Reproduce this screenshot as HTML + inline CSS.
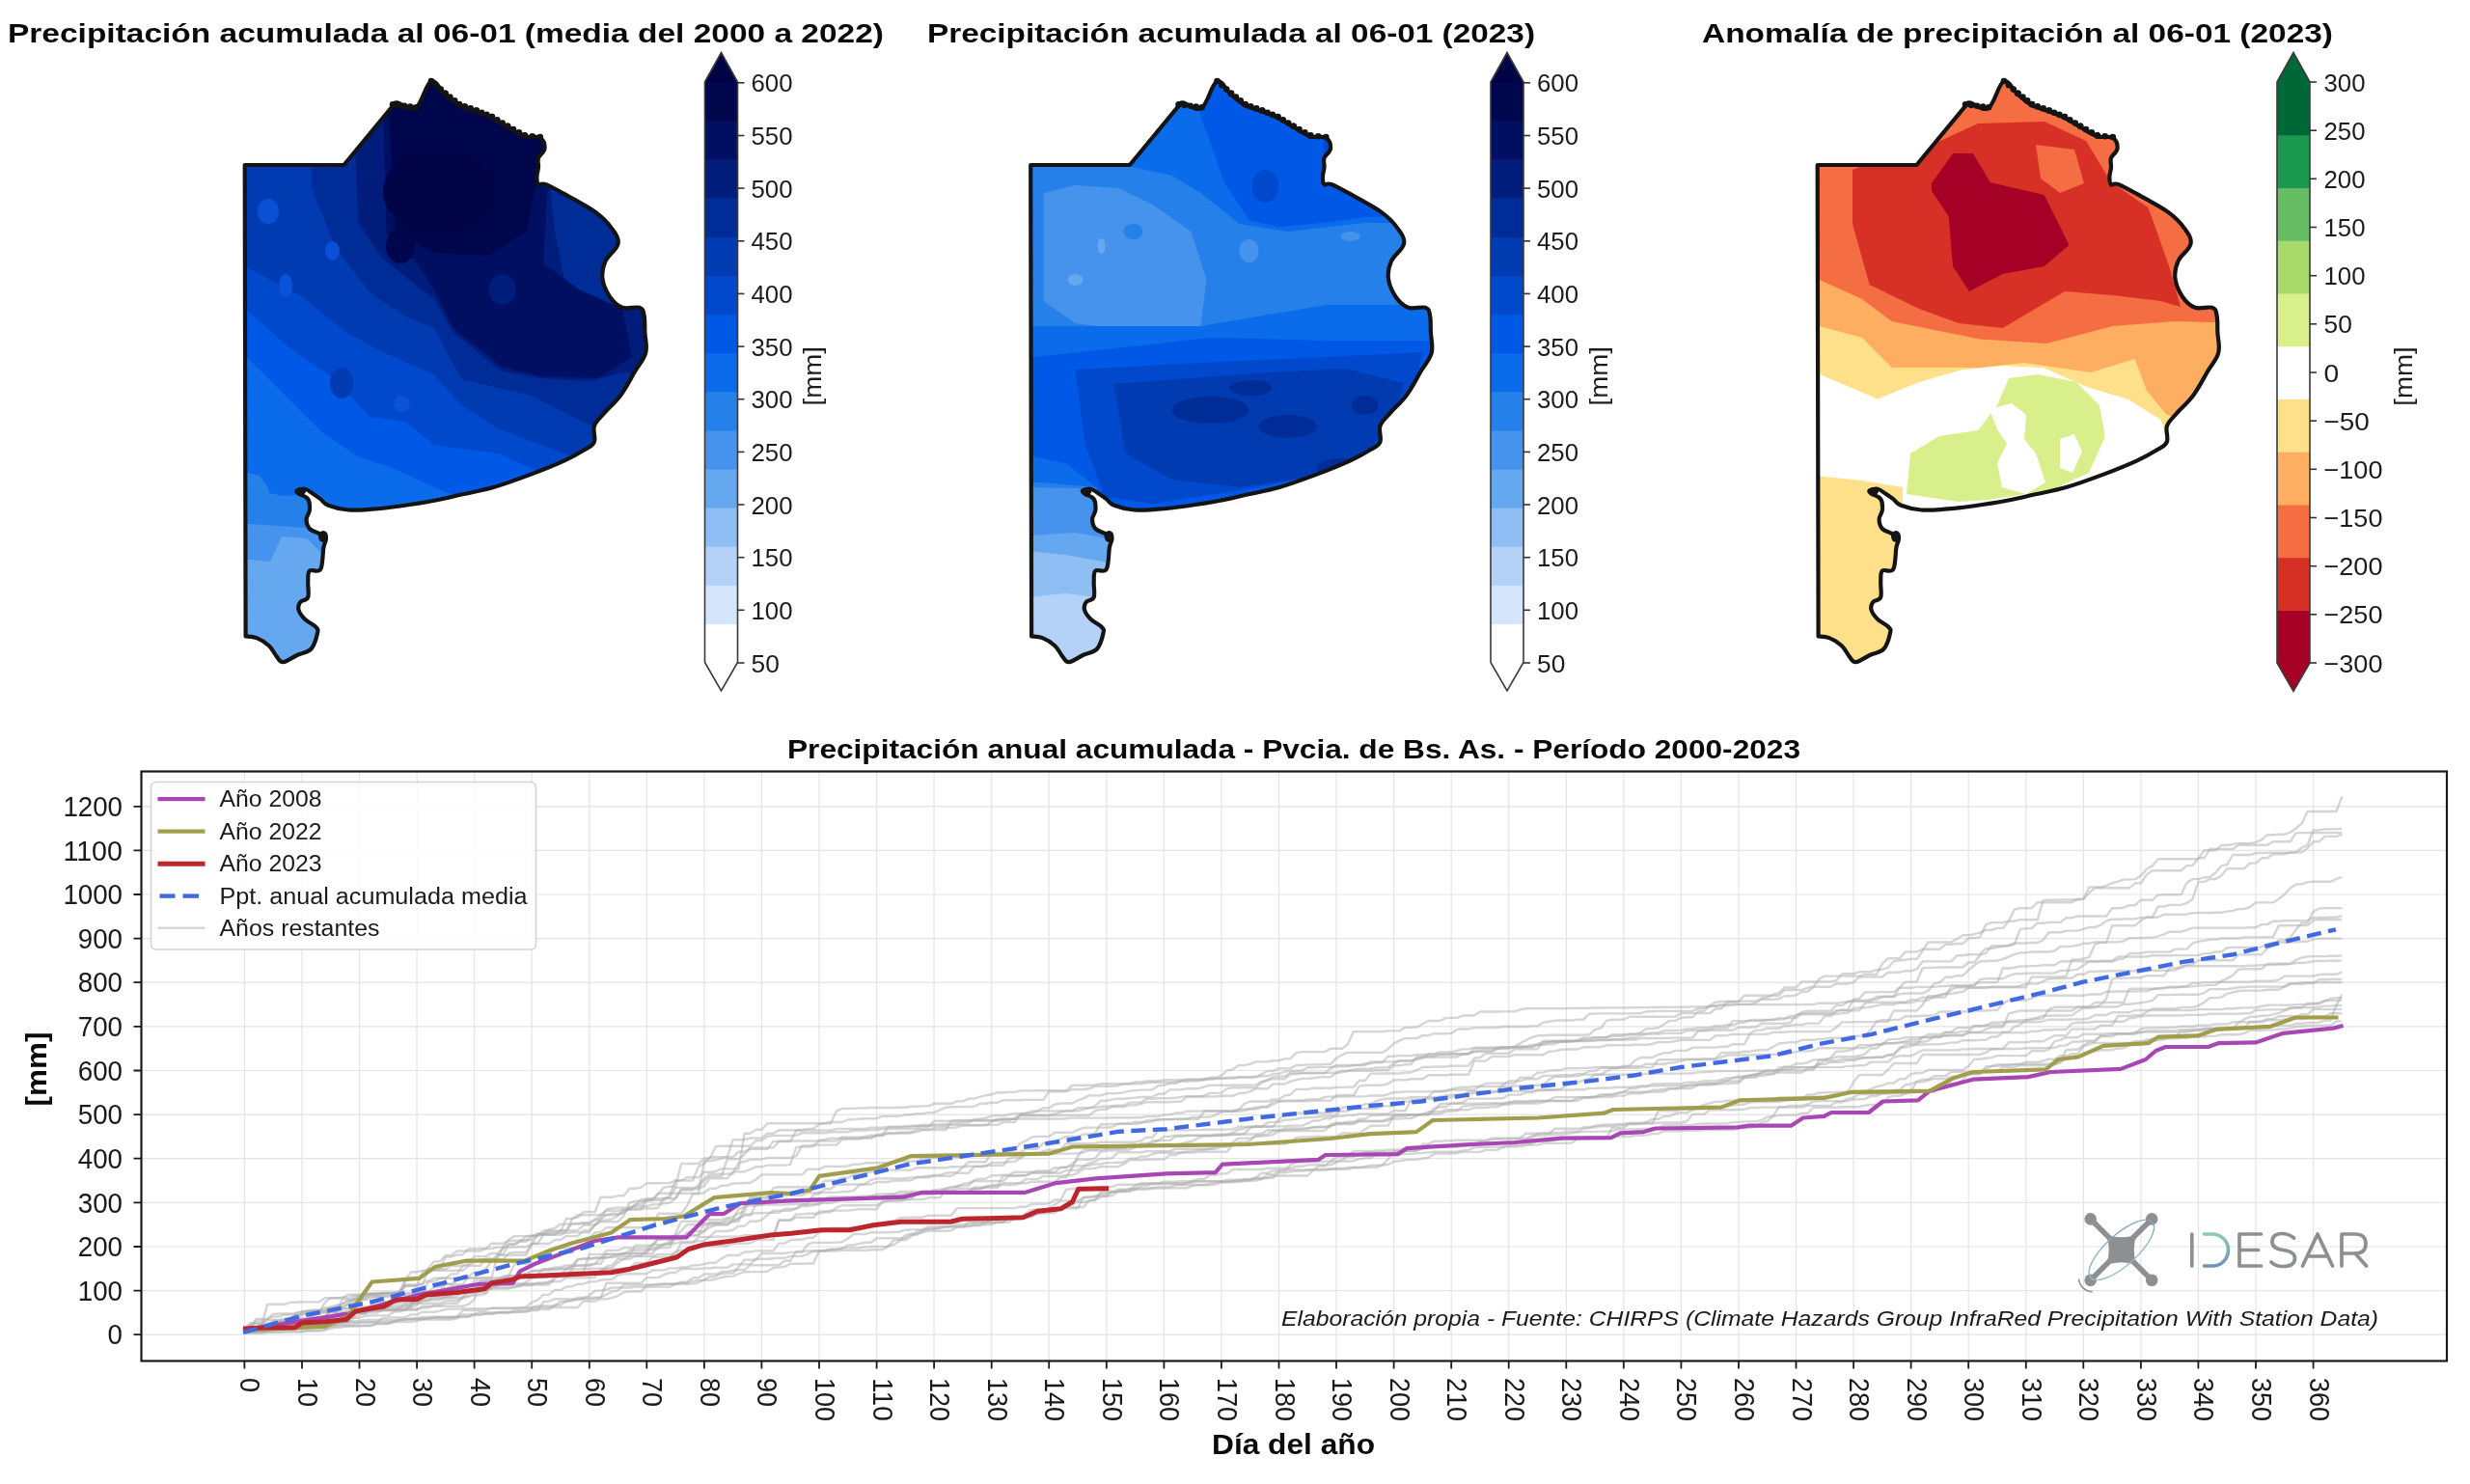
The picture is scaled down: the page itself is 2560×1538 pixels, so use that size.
<!DOCTYPE html><html><head><meta charset="utf-8"><style>html,body{margin:0;padding:0;background:#fff;}svg{display:block;filter:blur(0.45px);}text{font-family:"Liberation Sans", sans-serif;}</style></head><body>
<svg width="2560" height="1538" viewBox="0 0 2560 1538">
<rect width="2560" height="1538" fill="#ffffff"/>
<defs><clipPath id="mapclip"><path d="M253.7,171 L356.4,171 L406.6,110.4 C407.5,109.7 407.0,106.1 411.4,106.4 C415.8,106.7 424.5,115.9 430.8,112.0 C437.1,108.1 441.1,87.2 446.5,84.6 C451.9,82.0 455.8,93.1 461.0,97.5 C466.2,101.9 469.8,105.6 475.6,108.8 C481.4,112.0 487.3,113.0 493.4,115.3 C499.5,117.6 503.7,118.9 509.5,121.8 C515.3,124.7 519.6,128.0 525.7,131.5 C531.8,135.0 537.4,139.2 543.5,141.2 C549.6,143.2 555.9,140.5 559.7,142.8 C563.5,145.1 564.8,150.2 564.5,154.0 C564.2,157.8 559.2,160.3 558.0,163.8 C556.8,167.3 558.3,170.0 558.0,173.5 C557.7,177.0 556.4,180.0 556.4,183.2 C556.4,186.4 556.3,189.8 558.0,191.3 C559.7,192.8 559.6,188.7 566.0,191.3 C572.4,193.9 584.3,200.7 593.6,205.9 C602.9,211.1 610.6,214.9 617.9,220.4 C625.2,225.9 629.9,230.8 634.0,236.6 C638.1,242.4 641.7,246.7 640.5,252.8 C639.3,258.9 630.5,264.1 627.6,270.5 C624.7,276.9 623.6,281.6 624.4,288.3 C625.2,295.0 628.3,302.0 632.0,307.5 C635.7,313.0 639.5,316.8 645.0,318.8 C650.5,320.8 658.7,317.3 662.8,318.8 C666.9,320.3 666.6,322.3 667.6,327.0 C668.6,331.7 668.1,337.7 668.4,344.7 C668.7,351.7 671.1,358.4 669.2,365.7 C667.3,373.0 662.6,377.1 658.0,385.0 C653.4,392.9 649.2,401.5 643.4,409.4 C637.6,417.3 630.6,423.0 625.6,428.8 C620.6,434.6 617.6,436.5 615.9,441.7 C614.2,446.9 617.7,453.5 615.9,457.9 C614.1,462.3 611.6,462.5 606.0,466.0 C600.4,469.5 595.2,472.6 585.0,477.3 C574.8,482.0 562.6,486.9 549.5,491.9 C536.4,496.8 524.9,501.1 512.3,504.8 C499.7,508.5 490.6,509.8 479.4,512.3 C468.2,514.8 461.9,516.6 450.3,518.8 C438.7,521.0 426.3,522.9 414.7,524.5 C403.1,526.1 395.2,527.0 385.6,527.7 C376.0,528.4 369.5,529.2 361.3,528.5 C353.1,527.8 345.5,525.7 340.3,523.7 C335.1,521.7 335.1,519.4 332.2,517.2 C329.3,515.0 327.0,513.4 324.1,511.5 C321.2,509.6 318.9,507.3 316.0,506.7 C313.1,506.1 309.1,507.4 307.9,508.3 C306.7,509.2 307.5,509.9 309.5,511.5 C311.5,513.1 317.1,514.1 319.2,517.2 C321.3,520.3 321.2,524.7 320.9,528.5 C320.6,532.3 317.6,534.7 317.6,538.2 C317.6,541.7 318.6,545.4 320.9,548.0 C323.2,550.6 327.6,551.1 330.6,552.8 C333.6,554.5 336.9,555.0 337.8,557.6 C338.7,560.2 336.4,561.5 335.4,567.3 C334.4,573.1 334.8,585.6 332.2,590.0 C329.6,594.4 323.2,589.3 320.9,591.6 C318.6,593.9 319.5,597.9 319.2,602.9 C318.9,607.9 320.6,615.3 319.2,619.1 C317.8,622.9 312.9,621.7 311.2,624.0 C309.5,626.3 308.6,628.8 309.5,632.0 C310.4,635.2 312.8,638.5 316.0,641.7 C319.2,644.9 325.0,647.2 327.3,649.8 C329.6,652.4 329.9,652.2 329.0,656.3 C328.1,660.4 326.3,668.4 322.5,672.5 C318.7,676.6 313.1,676.5 307.9,679.0 C302.7,681.5 297.2,685.9 293.4,686.2 C289.6,686.5 289.5,683.7 286.9,680.6 C284.3,677.5 282.6,672.7 278.8,669.2 C275.0,665.7 270.3,662.8 265.9,661.1 C261.5,659.4 256.6,659.8 254.6,659.5 Z"/></clipPath></defs>
<text x="8" y="44.3" font-size="28" text-anchor="start" font-weight="bold" font-style="normal" fill="#0a0a0a" textLength="908" lengthAdjust="spacingAndGlyphs" >Precipitación acumulada al 06-01 (media del 2000 a 2022)</text>
<text x="961" y="44.3" font-size="28" text-anchor="start" font-weight="bold" font-style="normal" fill="#0a0a0a" textLength="630" lengthAdjust="spacingAndGlyphs" >Precipitación acumulada al 06-01 (2023)</text>
<text x="1764" y="44.3" font-size="28" text-anchor="start" font-weight="bold" font-style="normal" fill="#0a0a0a" textLength="654" lengthAdjust="spacingAndGlyphs" >Anomalía de precipitación al 06-01 (2023)</text>
<g transform="translate(0,0)">
<g clip-path="url(#mapclip)">
<rect x="240" y="60" width="460" height="640" fill="#0a6cea"/>
<polygon points="240.0,486.0 269.0,493.0 277.0,504.0 279.0,511.0 293.0,514.0 330.0,512.0 340.0,520.0 340.0,700.0 240.0,700.0" fill="#2680ea"/>
<polygon points="240.0,542.0 290.0,545.0 330.0,548.0 340.0,550.0 340.0,700.0 240.0,700.0" fill="#4593ec"/>
<polygon points="240.0,578.0 280.0,582.0 292.0,556.0 318.0,558.0 340.0,580.0 340.0,700.0 240.0,700.0" fill="#66a8f0"/>
<polygon points="240.0,60.0 700.0,60.0 700.0,540.0 500.0,525.0 450.0,505.0 407.8,485.5 371.4,473.4 335.0,449.0 298.5,412.7 254.9,369.0 240.0,369.0" fill="#0058e6"/>
<polygon points="240.0,60.0 700.0,60.0 700.0,520.0 620.0,480.0 560.0,490.0 517.0,470.0 450.0,461.3 420.0,437.0 383.5,432.0 347.0,393.3 298.5,359.3 254.9,320.5 240.0,320.5" fill="#0049cc"/>
<polygon points="240.0,60.0 700.0,60.0 700.0,500.0 640.0,440.0 619.0,483.0 517.0,444.6 478.0,420.0 450.0,388.4 395.6,364.2 359.2,344.8 310.7,306.0 254.9,276.8 240.0,276.8" fill="#003bb2"/>
<polygon points="322.8,60.0 700.0,60.0 700.0,470.0 660.0,400.0 619.0,444.6 550.0,410.0 478.0,393.0 450.0,340.0 420.0,327.8 383.5,303.5 347.0,255.0 322.8,194.3" fill="#002c98"/>
<polygon points="364.0,60.0 700.0,60.0 700.0,420.0 650.0,385.0 610.0,395.0 560.0,392.0 520.0,385.0 470.0,345.0 450.0,310.0 432.0,296.2 395.6,267.0 371.4,230.7" fill="#001d7c"/>
<polygon points="570.0,190.0 600.0,205.0 640.0,236.0 645.0,253.0 630.0,270.0 626.0,300.0 642.0,318.0 610.0,318.0 585.0,290.0 575.0,240.0" fill="#002c98"/>
<polygon points="395.6,60.0 600.0,60.0 570.0,150.0 563.0,273.0 600.0,300.0 645.0,320.0 655.0,370.0 620.0,392.0 560.0,390.0 520.0,380.0 470.0,340.0 450.0,300.0 432.0,272.0 400.5,242.8" fill="#000f62"/>
<polygon points="400.0,60.0 580.0,60.0 565.0,150.0 545.0,240.0 506.0,265.0 450.0,262.0 410.0,240.0" fill="#00064c"/>
<ellipse cx="454.5" cy="198" rx="57.5" ry="44" fill="#000345" transform="rotate(0 454.5 198)"/>
<ellipse cx="415" cy="255" rx="15" ry="18" fill="#00064c" transform="rotate(0 415 255)"/>
<ellipse cx="278" cy="219" rx="11" ry="13" fill="#0a50d6" transform="rotate(0 278 219)"/>
<ellipse cx="344.5" cy="260" rx="7.5" ry="10" fill="#0a50d6" transform="rotate(0 344.5 260)"/>
<ellipse cx="296" cy="296" rx="7" ry="12" fill="#0a52da" transform="rotate(0 296 296)"/>
<ellipse cx="354" cy="397" rx="12" ry="16" fill="#003bb2" transform="rotate(0 354 397)"/>
<ellipse cx="416.5" cy="418.5" rx="8.5" ry="8.5" fill="#0a52da" transform="rotate(0 416.5 418.5)"/>
<ellipse cx="520.7" cy="300" rx="14" ry="16" fill="#001d7c" transform="rotate(0 520.7 300)"/>
</g>
<path d="M253.7,171 L356.4,171 L406.6,110.4 C407.5,109.7 407.0,106.1 411.4,106.4 C415.8,106.7 424.5,115.9 430.8,112.0 C437.1,108.1 441.1,87.2 446.5,84.6 C451.9,82.0 455.8,93.1 461.0,97.5 C466.2,101.9 469.8,105.6 475.6,108.8 C481.4,112.0 487.3,113.0 493.4,115.3 C499.5,117.6 503.7,118.9 509.5,121.8 C515.3,124.7 519.6,128.0 525.7,131.5 C531.8,135.0 537.4,139.2 543.5,141.2 C549.6,143.2 555.9,140.5 559.7,142.8 C563.5,145.1 564.8,150.2 564.5,154.0 C564.2,157.8 559.2,160.3 558.0,163.8 C556.8,167.3 558.3,170.0 558.0,173.5 C557.7,177.0 556.4,180.0 556.4,183.2 C556.4,186.4 556.3,189.8 558.0,191.3 C559.7,192.8 559.6,188.7 566.0,191.3 C572.4,193.9 584.3,200.7 593.6,205.9 C602.9,211.1 610.6,214.9 617.9,220.4 C625.2,225.9 629.9,230.8 634.0,236.6 C638.1,242.4 641.7,246.7 640.5,252.8 C639.3,258.9 630.5,264.1 627.6,270.5 C624.7,276.9 623.6,281.6 624.4,288.3 C625.2,295.0 628.3,302.0 632.0,307.5 C635.7,313.0 639.5,316.8 645.0,318.8 C650.5,320.8 658.7,317.3 662.8,318.8 C666.9,320.3 666.6,322.3 667.6,327.0 C668.6,331.7 668.1,337.7 668.4,344.7 C668.7,351.7 671.1,358.4 669.2,365.7 C667.3,373.0 662.6,377.1 658.0,385.0 C653.4,392.9 649.2,401.5 643.4,409.4 C637.6,417.3 630.6,423.0 625.6,428.8 C620.6,434.6 617.6,436.5 615.9,441.7 C614.2,446.9 617.7,453.5 615.9,457.9 C614.1,462.3 611.6,462.5 606.0,466.0 C600.4,469.5 595.2,472.6 585.0,477.3 C574.8,482.0 562.6,486.9 549.5,491.9 C536.4,496.8 524.9,501.1 512.3,504.8 C499.7,508.5 490.6,509.8 479.4,512.3 C468.2,514.8 461.9,516.6 450.3,518.8 C438.7,521.0 426.3,522.9 414.7,524.5 C403.1,526.1 395.2,527.0 385.6,527.7 C376.0,528.4 369.5,529.2 361.3,528.5 C353.1,527.8 345.5,525.7 340.3,523.7 C335.1,521.7 335.1,519.4 332.2,517.2 C329.3,515.0 327.0,513.4 324.1,511.5 C321.2,509.6 318.9,507.3 316.0,506.7 C313.1,506.1 309.1,507.4 307.9,508.3 C306.7,509.2 307.5,509.9 309.5,511.5 C311.5,513.1 317.1,514.1 319.2,517.2 C321.3,520.3 321.2,524.7 320.9,528.5 C320.6,532.3 317.6,534.7 317.6,538.2 C317.6,541.7 318.6,545.4 320.9,548.0 C323.2,550.6 327.6,551.1 330.6,552.8 C333.6,554.5 336.9,555.0 337.8,557.6 C338.7,560.2 336.4,561.5 335.4,567.3 C334.4,573.1 334.8,585.6 332.2,590.0 C329.6,594.4 323.2,589.3 320.9,591.6 C318.6,593.9 319.5,597.9 319.2,602.9 C318.9,607.9 320.6,615.3 319.2,619.1 C317.8,622.9 312.9,621.7 311.2,624.0 C309.5,626.3 308.6,628.8 309.5,632.0 C310.4,635.2 312.8,638.5 316.0,641.7 C319.2,644.9 325.0,647.2 327.3,649.8 C329.6,652.4 329.9,652.2 329.0,656.3 C328.1,660.4 326.3,668.4 322.5,672.5 C318.7,676.6 313.1,676.5 307.9,679.0 C302.7,681.5 297.2,685.9 293.4,686.2 C289.6,686.5 289.5,683.7 286.9,680.6 C284.3,677.5 282.6,672.7 278.8,669.2 C275.0,665.7 270.3,662.8 265.9,661.1 C261.5,659.4 256.6,659.8 254.6,659.5 Z" fill="none" stroke="#141414" stroke-width="4.2" stroke-linejoin="round"/>
<g fill="#141414"><circle cx="447.0" cy="84.0" r="3.3"/><circle cx="451.9" cy="88.3" r="3.3"/><circle cx="456.7" cy="92.6" r="3.3"/><circle cx="461.5" cy="96.9" r="3.3"/><circle cx="461.5" cy="96.9" r="3.3"/><circle cx="466.4" cy="100.6" r="3.3"/><circle cx="471.2" cy="104.4" r="3.3"/><circle cx="476.1" cy="108.2" r="3.3"/><circle cx="475.9" cy="108.0" r="3.3"/><circle cx="481.8" cy="110.2" r="3.3"/><circle cx="487.7" cy="112.4" r="3.3"/><circle cx="493.7" cy="114.5" r="3.3"/><circle cx="493.7" cy="114.6" r="3.3"/><circle cx="499.1" cy="116.7" r="3.3"/><circle cx="504.4" cy="118.9" r="3.3"/><circle cx="509.8" cy="121.1" r="3.3"/><circle cx="509.9" cy="121.1" r="3.3"/><circle cx="515.3" cy="124.3" r="3.3"/><circle cx="520.7" cy="127.6" r="3.3"/><circle cx="526.1" cy="130.8" r="3.3"/><circle cx="526.1" cy="130.8" r="3.3"/><circle cx="532.0" cy="134.0" r="3.3"/><circle cx="537.9" cy="137.3" r="3.3"/><circle cx="543.9" cy="140.5" r="3.3"/><circle cx="543.6" cy="140.4" r="3.3"/><circle cx="551.7" cy="141.2" r="3.3"/><circle cx="559.8" cy="142.0" r="3.3"/><circle cx="407.1" cy="108.2" r="3.3"/><circle cx="413.1" cy="109.0" r="3.3"/><circle cx="419.1" cy="109.7" r="3.3"/><circle cx="425.1" cy="110.5" r="3.3"/><circle cx="431.1" cy="111.2" r="3.3"/><ellipse cx="335" cy="556" rx="5" ry="6"/><ellipse cx="312" cy="509" rx="5" ry="4"/></g>
</g>
<g transform="translate(814.5,0)">
<g clip-path="url(#mapclip)">
<rect x="240" y="60" width="460" height="640" fill="#2680ea"/>
<polygon points="240.0,505.0 300.0,506.0 345.0,510.0 345.0,700.0 240.0,700.0" fill="#4593ec"/>
<polygon points="240.0,556.0 300.0,552.0 345.0,560.0 345.0,700.0 240.0,700.0" fill="#66a8f0"/>
<polygon points="240.0,570.0 290.0,575.0 345.0,585.0 345.0,700.0 240.0,700.0" fill="#8ebef4"/>
<polygon points="240.0,620.0 290.0,615.0 345.0,622.0 345.0,700.0 240.0,700.0" fill="#b4d2f8"/>
<polygon points="267.0,200.0 300.0,192.0 345.0,195.0 380.0,212.0 420.0,240.0 436.0,290.0 430.0,338.0 350.0,342.0 300.0,335.0 267.0,312.0" fill="#4593ec"/>
<ellipse cx="300" cy="290" rx="8" ry="6" fill="#66a8f0" transform="rotate(0 300 290)"/>
<ellipse cx="327" cy="255" rx="4" ry="8" fill="#66a8f0" transform="rotate(0 327 255)"/>
<ellipse cx="360" cy="240" rx="10" ry="8" fill="#2680ea" transform="rotate(0 360 240)"/>
<polygon points="350.0,60.0 700.0,60.0 700.0,231.0 600.0,231.0 520.0,240.0 470.0,232.0 430.0,200.0 400.0,182.0 350.0,171.0" fill="#0a6cea"/>
<polygon points="420.0,60.0 700.0,60.0 700.0,222.0 600.0,225.0 556.0,231.0 510.0,235.0 480.0,228.0 455.0,190.0 430.0,120.0" fill="#0058e6"/>
<ellipse cx="497" cy="193" rx="14" ry="17" fill="#0049cc" transform="rotate(0 497 193)"/>
<ellipse cx="565" cy="150" rx="8" ry="20" fill="#0049cc" transform="rotate(0 565 150)"/>
<ellipse cx="585" cy="245" rx="10" ry="5" fill="#4593ec" transform="rotate(0 585 245)"/>
<ellipse cx="480" cy="260" rx="10" ry="12" fill="#4593ec" transform="rotate(0 480 260)"/>
<polygon points="240.0,338.0 430.0,338.0 560.0,316.0 700.0,316.0 700.0,540.0 330.0,540.0 322.0,505.0 240.0,498.0" fill="#0a6cea"/>
<polygon points="240.0,372.0 440.0,350.0 560.0,353.0 700.0,353.0 700.0,540.0 330.0,540.0 322.0,505.0 290.0,480.0 240.0,470.0" fill="#0058e6"/>
<polygon points="300.0,383.0 450.0,375.0 560.0,370.0 660.0,365.0 650.0,410.0 620.0,450.0 600.0,470.0 540.0,495.0 460.0,510.0 380.0,522.0 330.0,515.0 310.0,460.0" fill="#0049cc"/>
<polygon points="340.0,398.0 420.0,392.0 500.0,386.0 580.0,382.0 640.0,397.0 630.0,440.0 600.0,470.0 540.0,495.0 470.0,505.0 400.0,497.0 352.0,470.0" fill="#003bb2"/>
<ellipse cx="440" cy="425" rx="40" ry="14" fill="#002c98" transform="rotate(0 440 425)"/>
<ellipse cx="520" cy="442" rx="30" ry="12" fill="#002c98" transform="rotate(0 520 442)"/>
<ellipse cx="575" cy="485" rx="25" ry="10" fill="#002c98" transform="rotate(0 575 485)"/>
<ellipse cx="482" cy="402" rx="22" ry="8" fill="#002c98" transform="rotate(0 482 402)"/>
<ellipse cx="600" cy="420" rx="14" ry="10" fill="#002c98" transform="rotate(0 600 420)"/>
</g>
<path d="M253.7,171 L356.4,171 L406.6,110.4 C407.5,109.7 407.0,106.1 411.4,106.4 C415.8,106.7 424.5,115.9 430.8,112.0 C437.1,108.1 441.1,87.2 446.5,84.6 C451.9,82.0 455.8,93.1 461.0,97.5 C466.2,101.9 469.8,105.6 475.6,108.8 C481.4,112.0 487.3,113.0 493.4,115.3 C499.5,117.6 503.7,118.9 509.5,121.8 C515.3,124.7 519.6,128.0 525.7,131.5 C531.8,135.0 537.4,139.2 543.5,141.2 C549.6,143.2 555.9,140.5 559.7,142.8 C563.5,145.1 564.8,150.2 564.5,154.0 C564.2,157.8 559.2,160.3 558.0,163.8 C556.8,167.3 558.3,170.0 558.0,173.5 C557.7,177.0 556.4,180.0 556.4,183.2 C556.4,186.4 556.3,189.8 558.0,191.3 C559.7,192.8 559.6,188.7 566.0,191.3 C572.4,193.9 584.3,200.7 593.6,205.9 C602.9,211.1 610.6,214.9 617.9,220.4 C625.2,225.9 629.9,230.8 634.0,236.6 C638.1,242.4 641.7,246.7 640.5,252.8 C639.3,258.9 630.5,264.1 627.6,270.5 C624.7,276.9 623.6,281.6 624.4,288.3 C625.2,295.0 628.3,302.0 632.0,307.5 C635.7,313.0 639.5,316.8 645.0,318.8 C650.5,320.8 658.7,317.3 662.8,318.8 C666.9,320.3 666.6,322.3 667.6,327.0 C668.6,331.7 668.1,337.7 668.4,344.7 C668.7,351.7 671.1,358.4 669.2,365.7 C667.3,373.0 662.6,377.1 658.0,385.0 C653.4,392.9 649.2,401.5 643.4,409.4 C637.6,417.3 630.6,423.0 625.6,428.8 C620.6,434.6 617.6,436.5 615.9,441.7 C614.2,446.9 617.7,453.5 615.9,457.9 C614.1,462.3 611.6,462.5 606.0,466.0 C600.4,469.5 595.2,472.6 585.0,477.3 C574.8,482.0 562.6,486.9 549.5,491.9 C536.4,496.8 524.9,501.1 512.3,504.8 C499.7,508.5 490.6,509.8 479.4,512.3 C468.2,514.8 461.9,516.6 450.3,518.8 C438.7,521.0 426.3,522.9 414.7,524.5 C403.1,526.1 395.2,527.0 385.6,527.7 C376.0,528.4 369.5,529.2 361.3,528.5 C353.1,527.8 345.5,525.7 340.3,523.7 C335.1,521.7 335.1,519.4 332.2,517.2 C329.3,515.0 327.0,513.4 324.1,511.5 C321.2,509.6 318.9,507.3 316.0,506.7 C313.1,506.1 309.1,507.4 307.9,508.3 C306.7,509.2 307.5,509.9 309.5,511.5 C311.5,513.1 317.1,514.1 319.2,517.2 C321.3,520.3 321.2,524.7 320.9,528.5 C320.6,532.3 317.6,534.7 317.6,538.2 C317.6,541.7 318.6,545.4 320.9,548.0 C323.2,550.6 327.6,551.1 330.6,552.8 C333.6,554.5 336.9,555.0 337.8,557.6 C338.7,560.2 336.4,561.5 335.4,567.3 C334.4,573.1 334.8,585.6 332.2,590.0 C329.6,594.4 323.2,589.3 320.9,591.6 C318.6,593.9 319.5,597.9 319.2,602.9 C318.9,607.9 320.6,615.3 319.2,619.1 C317.8,622.9 312.9,621.7 311.2,624.0 C309.5,626.3 308.6,628.8 309.5,632.0 C310.4,635.2 312.8,638.5 316.0,641.7 C319.2,644.9 325.0,647.2 327.3,649.8 C329.6,652.4 329.9,652.2 329.0,656.3 C328.1,660.4 326.3,668.4 322.5,672.5 C318.7,676.6 313.1,676.5 307.9,679.0 C302.7,681.5 297.2,685.9 293.4,686.2 C289.6,686.5 289.5,683.7 286.9,680.6 C284.3,677.5 282.6,672.7 278.8,669.2 C275.0,665.7 270.3,662.8 265.9,661.1 C261.5,659.4 256.6,659.8 254.6,659.5 Z" fill="none" stroke="#141414" stroke-width="4.2" stroke-linejoin="round"/>
<g fill="#141414"><circle cx="447.0" cy="84.0" r="3.3"/><circle cx="451.9" cy="88.3" r="3.3"/><circle cx="456.7" cy="92.6" r="3.3"/><circle cx="461.5" cy="96.9" r="3.3"/><circle cx="461.5" cy="96.9" r="3.3"/><circle cx="466.4" cy="100.6" r="3.3"/><circle cx="471.2" cy="104.4" r="3.3"/><circle cx="476.1" cy="108.2" r="3.3"/><circle cx="475.9" cy="108.0" r="3.3"/><circle cx="481.8" cy="110.2" r="3.3"/><circle cx="487.7" cy="112.4" r="3.3"/><circle cx="493.7" cy="114.5" r="3.3"/><circle cx="493.7" cy="114.6" r="3.3"/><circle cx="499.1" cy="116.7" r="3.3"/><circle cx="504.4" cy="118.9" r="3.3"/><circle cx="509.8" cy="121.1" r="3.3"/><circle cx="509.9" cy="121.1" r="3.3"/><circle cx="515.3" cy="124.3" r="3.3"/><circle cx="520.7" cy="127.6" r="3.3"/><circle cx="526.1" cy="130.8" r="3.3"/><circle cx="526.1" cy="130.8" r="3.3"/><circle cx="532.0" cy="134.0" r="3.3"/><circle cx="537.9" cy="137.3" r="3.3"/><circle cx="543.9" cy="140.5" r="3.3"/><circle cx="543.6" cy="140.4" r="3.3"/><circle cx="551.7" cy="141.2" r="3.3"/><circle cx="559.8" cy="142.0" r="3.3"/><circle cx="407.1" cy="108.2" r="3.3"/><circle cx="413.1" cy="109.0" r="3.3"/><circle cx="419.1" cy="109.7" r="3.3"/><circle cx="425.1" cy="110.5" r="3.3"/><circle cx="431.1" cy="111.2" r="3.3"/><ellipse cx="335" cy="556" rx="5" ry="6"/><ellipse cx="312" cy="509" rx="5" ry="4"/></g>
</g>
<g transform="translate(1630,0)">
<g clip-path="url(#mapclip)">
<rect x="240" y="60" width="460" height="640" fill="#ffffff"/>
<polygon points="240.0,492.0 300.0,498.0 342.0,505.0 342.0,700.0 240.0,700.0" fill="#fee08b"/>
<polygon points="240.0,60.0 700.0,60.0 700.0,470.0 618.0,457.0 609.5,435.0 575.0,413.6 531.9,400.7 488.7,381.3 445.6,379.0 402.5,383.4 359.0,396.0 316.0,413.6 256.0,388.0 240.0,388.0" fill="#fee08b"/>
<polygon points="240.0,60.0 700.0,60.0 700.0,440.0 640.0,440.0 614.6,429.0 595.0,405.0 582.6,372.0 537.0,386.0 468.0,376.0 422.0,381.0 330.7,381.0 300.0,350.0 256.0,338.0 240.0,338.0" fill="#fdae61"/>
<polygon points="240.0,60.0 700.0,60.0 700.0,335.0 624.0,333.0 559.7,338.0 491.0,356.0 422.0,351.5 330.7,333.0 300.0,310.0 256.0,290.0 240.0,290.0" fill="#f46d43"/>
<polygon points="290.0,176.0 330.0,160.0 381.0,146.0 420.0,128.0 489.0,126.0 532.0,146.0 558.0,189.0 596.5,215.0 618.0,275.6 630.0,318.0 609.5,312.0 560.0,306.0 510.0,302.0 445.6,340.0 400.0,335.0 359.0,320.0 307.6,295.0 290.0,232.0" fill="#d73027"/>
<polygon points="372.0,190.0 394.0,159.0 415.0,159.0 432.7,189.0 488.7,202.0 514.6,254.0 488.7,276.0 445.6,284.0 411.0,302.0 394.0,276.0 389.6,224.0 372.0,198.0" fill="#a50026"/>
<polygon points="480.0,150.0 520.0,155.0 530.0,190.0 505.0,200.0 485.0,185.0" fill="#f46d43"/>
<polygon points="346.0,512.0 350.0,470.0 380.0,452.0 420.0,446.0 440.0,420.0 452.0,392.0 482.0,388.0 522.0,396.0 546.0,420.0 552.0,452.0 535.0,490.0 500.0,506.0 470.0,512.0 430.0,518.0 400.0,520.0" fill="#d9ef8b"/>
<polygon points="432.0,424.0 455.0,418.0 470.0,430.0 468.0,455.0 480.0,470.0 490.0,500.0 470.0,512.0 445.0,505.0 440.0,480.0 450.0,460.0 440.0,445.0" fill="#ffffff"/>
<polygon points="505.0,455.0 520.0,450.0 528.0,468.0 518.0,490.0 505.0,485.0" fill="#ffffff"/>
<polygon points="548.0,420.0 575.0,418.0 600.0,430.0 612.0,455.0 600.0,470.0 560.0,480.0 552.0,455.0" fill="#ffffff"/>
<polygon points="520.0,420.0 545.0,440.0 540.0,452.0 525.0,445.0" fill="#d9ef8b"/>
</g>
<path d="M253.7,171 L356.4,171 L406.6,110.4 C407.5,109.7 407.0,106.1 411.4,106.4 C415.8,106.7 424.5,115.9 430.8,112.0 C437.1,108.1 441.1,87.2 446.5,84.6 C451.9,82.0 455.8,93.1 461.0,97.5 C466.2,101.9 469.8,105.6 475.6,108.8 C481.4,112.0 487.3,113.0 493.4,115.3 C499.5,117.6 503.7,118.9 509.5,121.8 C515.3,124.7 519.6,128.0 525.7,131.5 C531.8,135.0 537.4,139.2 543.5,141.2 C549.6,143.2 555.9,140.5 559.7,142.8 C563.5,145.1 564.8,150.2 564.5,154.0 C564.2,157.8 559.2,160.3 558.0,163.8 C556.8,167.3 558.3,170.0 558.0,173.5 C557.7,177.0 556.4,180.0 556.4,183.2 C556.4,186.4 556.3,189.8 558.0,191.3 C559.7,192.8 559.6,188.7 566.0,191.3 C572.4,193.9 584.3,200.7 593.6,205.9 C602.9,211.1 610.6,214.9 617.9,220.4 C625.2,225.9 629.9,230.8 634.0,236.6 C638.1,242.4 641.7,246.7 640.5,252.8 C639.3,258.9 630.5,264.1 627.6,270.5 C624.7,276.9 623.6,281.6 624.4,288.3 C625.2,295.0 628.3,302.0 632.0,307.5 C635.7,313.0 639.5,316.8 645.0,318.8 C650.5,320.8 658.7,317.3 662.8,318.8 C666.9,320.3 666.6,322.3 667.6,327.0 C668.6,331.7 668.1,337.7 668.4,344.7 C668.7,351.7 671.1,358.4 669.2,365.7 C667.3,373.0 662.6,377.1 658.0,385.0 C653.4,392.9 649.2,401.5 643.4,409.4 C637.6,417.3 630.6,423.0 625.6,428.8 C620.6,434.6 617.6,436.5 615.9,441.7 C614.2,446.9 617.7,453.5 615.9,457.9 C614.1,462.3 611.6,462.5 606.0,466.0 C600.4,469.5 595.2,472.6 585.0,477.3 C574.8,482.0 562.6,486.9 549.5,491.9 C536.4,496.8 524.9,501.1 512.3,504.8 C499.7,508.5 490.6,509.8 479.4,512.3 C468.2,514.8 461.9,516.6 450.3,518.8 C438.7,521.0 426.3,522.9 414.7,524.5 C403.1,526.1 395.2,527.0 385.6,527.7 C376.0,528.4 369.5,529.2 361.3,528.5 C353.1,527.8 345.5,525.7 340.3,523.7 C335.1,521.7 335.1,519.4 332.2,517.2 C329.3,515.0 327.0,513.4 324.1,511.5 C321.2,509.6 318.9,507.3 316.0,506.7 C313.1,506.1 309.1,507.4 307.9,508.3 C306.7,509.2 307.5,509.9 309.5,511.5 C311.5,513.1 317.1,514.1 319.2,517.2 C321.3,520.3 321.2,524.7 320.9,528.5 C320.6,532.3 317.6,534.7 317.6,538.2 C317.6,541.7 318.6,545.4 320.9,548.0 C323.2,550.6 327.6,551.1 330.6,552.8 C333.6,554.5 336.9,555.0 337.8,557.6 C338.7,560.2 336.4,561.5 335.4,567.3 C334.4,573.1 334.8,585.6 332.2,590.0 C329.6,594.4 323.2,589.3 320.9,591.6 C318.6,593.9 319.5,597.9 319.2,602.9 C318.9,607.9 320.6,615.3 319.2,619.1 C317.8,622.9 312.9,621.7 311.2,624.0 C309.5,626.3 308.6,628.8 309.5,632.0 C310.4,635.2 312.8,638.5 316.0,641.7 C319.2,644.9 325.0,647.2 327.3,649.8 C329.6,652.4 329.9,652.2 329.0,656.3 C328.1,660.4 326.3,668.4 322.5,672.5 C318.7,676.6 313.1,676.5 307.9,679.0 C302.7,681.5 297.2,685.9 293.4,686.2 C289.6,686.5 289.5,683.7 286.9,680.6 C284.3,677.5 282.6,672.7 278.8,669.2 C275.0,665.7 270.3,662.8 265.9,661.1 C261.5,659.4 256.6,659.8 254.6,659.5 Z" fill="none" stroke="#141414" stroke-width="4.2" stroke-linejoin="round"/>
<g fill="#141414"><circle cx="447.0" cy="84.0" r="3.3"/><circle cx="451.9" cy="88.3" r="3.3"/><circle cx="456.7" cy="92.6" r="3.3"/><circle cx="461.5" cy="96.9" r="3.3"/><circle cx="461.5" cy="96.9" r="3.3"/><circle cx="466.4" cy="100.6" r="3.3"/><circle cx="471.2" cy="104.4" r="3.3"/><circle cx="476.1" cy="108.2" r="3.3"/><circle cx="475.9" cy="108.0" r="3.3"/><circle cx="481.8" cy="110.2" r="3.3"/><circle cx="487.7" cy="112.4" r="3.3"/><circle cx="493.7" cy="114.5" r="3.3"/><circle cx="493.7" cy="114.6" r="3.3"/><circle cx="499.1" cy="116.7" r="3.3"/><circle cx="504.4" cy="118.9" r="3.3"/><circle cx="509.8" cy="121.1" r="3.3"/><circle cx="509.9" cy="121.1" r="3.3"/><circle cx="515.3" cy="124.3" r="3.3"/><circle cx="520.7" cy="127.6" r="3.3"/><circle cx="526.1" cy="130.8" r="3.3"/><circle cx="526.1" cy="130.8" r="3.3"/><circle cx="532.0" cy="134.0" r="3.3"/><circle cx="537.9" cy="137.3" r="3.3"/><circle cx="543.9" cy="140.5" r="3.3"/><circle cx="543.6" cy="140.4" r="3.3"/><circle cx="551.7" cy="141.2" r="3.3"/><circle cx="559.8" cy="142.0" r="3.3"/><circle cx="407.1" cy="108.2" r="3.3"/><circle cx="413.1" cy="109.0" r="3.3"/><circle cx="419.1" cy="109.7" r="3.3"/><circle cx="425.1" cy="110.5" r="3.3"/><circle cx="431.1" cy="111.2" r="3.3"/><ellipse cx="335" cy="556" rx="5" ry="6"/><ellipse cx="312" cy="509" rx="5" ry="4"/></g>
</g>
<polygon points="730.5,85.0 747.5,54.5 764.5,85.0" fill="#000345"/>
<polygon points="730.5,686.5 747.5,716.0 764.5,686.5" fill="#ffffff"/>
<rect x="730.5" y="646.40" width="34" height="40.70" fill="#ffffff"/>
<rect x="730.5" y="606.30" width="34" height="40.70" fill="#d5e5fb"/>
<rect x="730.5" y="566.20" width="34" height="40.70" fill="#b4d2f8"/>
<rect x="730.5" y="526.10" width="34" height="40.70" fill="#8ebef4"/>
<rect x="730.5" y="486.00" width="34" height="40.70" fill="#66a8f0"/>
<rect x="730.5" y="445.90" width="34" height="40.70" fill="#4593ec"/>
<rect x="730.5" y="405.80" width="34" height="40.70" fill="#2680ea"/>
<rect x="730.5" y="365.70" width="34" height="40.70" fill="#0a6cea"/>
<rect x="730.5" y="325.60" width="34" height="40.70" fill="#0058e6"/>
<rect x="730.5" y="285.50" width="34" height="40.70" fill="#0049cc"/>
<rect x="730.5" y="245.40" width="34" height="40.70" fill="#003bb2"/>
<rect x="730.5" y="205.30" width="34" height="40.70" fill="#002c98"/>
<rect x="730.5" y="165.20" width="34" height="40.70" fill="#001d7c"/>
<rect x="730.5" y="125.10" width="34" height="40.70" fill="#000f62"/>
<rect x="730.5" y="85.00" width="34" height="40.70" fill="#00064c"/>
<path d="M730.5,85.0 L747.5,54.5 L764.5,85.0 L764.5,686.5 L747.5,716.0 L730.5,686.5 Z" fill="none" stroke="#3a3a3a" stroke-width="1.6"/>
<line x1="764.5" y1="85.8" x2="771.5" y2="85.8" stroke="#333" stroke-width="1.6"/>
<text x="778.5" y="95.4" font-size="26.5" text-anchor="start" font-weight="normal" font-style="normal" fill="#1c1c1c" textLength="43.0" lengthAdjust="spacingAndGlyphs" >600</text>
<line x1="764.5" y1="140.5" x2="771.5" y2="140.5" stroke="#333" stroke-width="1.6"/>
<text x="778.5" y="150.1" font-size="26.5" text-anchor="start" font-weight="normal" font-style="normal" fill="#1c1c1c" textLength="43.0" lengthAdjust="spacingAndGlyphs" >550</text>
<line x1="764.5" y1="195.1" x2="771.5" y2="195.1" stroke="#333" stroke-width="1.6"/>
<text x="778.5" y="204.7" font-size="26.5" text-anchor="start" font-weight="normal" font-style="normal" fill="#1c1c1c" textLength="43.0" lengthAdjust="spacingAndGlyphs" >500</text>
<line x1="764.5" y1="249.8" x2="771.5" y2="249.8" stroke="#333" stroke-width="1.6"/>
<text x="778.5" y="259.4" font-size="26.5" text-anchor="start" font-weight="normal" font-style="normal" fill="#1c1c1c" textLength="43.0" lengthAdjust="spacingAndGlyphs" >450</text>
<line x1="764.5" y1="304.4" x2="771.5" y2="304.4" stroke="#333" stroke-width="1.6"/>
<text x="778.5" y="314.0" font-size="26.5" text-anchor="start" font-weight="normal" font-style="normal" fill="#1c1c1c" textLength="43.0" lengthAdjust="spacingAndGlyphs" >400</text>
<line x1="764.5" y1="359.1" x2="771.5" y2="359.1" stroke="#333" stroke-width="1.6"/>
<text x="778.5" y="368.7" font-size="26.5" text-anchor="start" font-weight="normal" font-style="normal" fill="#1c1c1c" textLength="43.0" lengthAdjust="spacingAndGlyphs" >350</text>
<line x1="764.5" y1="413.7" x2="771.5" y2="413.7" stroke="#333" stroke-width="1.6"/>
<text x="778.5" y="423.3" font-size="26.5" text-anchor="start" font-weight="normal" font-style="normal" fill="#1c1c1c" textLength="43.0" lengthAdjust="spacingAndGlyphs" >300</text>
<line x1="764.5" y1="468.4" x2="771.5" y2="468.4" stroke="#333" stroke-width="1.6"/>
<text x="778.5" y="478.0" font-size="26.5" text-anchor="start" font-weight="normal" font-style="normal" fill="#1c1c1c" textLength="43.0" lengthAdjust="spacingAndGlyphs" >250</text>
<line x1="764.5" y1="523.0" x2="771.5" y2="523.0" stroke="#333" stroke-width="1.6"/>
<text x="778.5" y="532.6" font-size="26.5" text-anchor="start" font-weight="normal" font-style="normal" fill="#1c1c1c" textLength="43.0" lengthAdjust="spacingAndGlyphs" >200</text>
<line x1="764.5" y1="577.7" x2="771.5" y2="577.7" stroke="#333" stroke-width="1.6"/>
<text x="778.5" y="587.3" font-size="26.5" text-anchor="start" font-weight="normal" font-style="normal" fill="#1c1c1c" textLength="43.0" lengthAdjust="spacingAndGlyphs" >150</text>
<line x1="764.5" y1="632.3" x2="771.5" y2="632.3" stroke="#333" stroke-width="1.6"/>
<text x="778.5" y="641.9" font-size="26.5" text-anchor="start" font-weight="normal" font-style="normal" fill="#1c1c1c" textLength="43.0" lengthAdjust="spacingAndGlyphs" >100</text>
<line x1="764.5" y1="687.0" x2="771.5" y2="687.0" stroke="#333" stroke-width="1.6"/>
<text x="778.5" y="696.6" font-size="26.5" text-anchor="start" font-weight="normal" font-style="normal" fill="#1c1c1c" textLength="29.3" lengthAdjust="spacingAndGlyphs" >50</text>
<text x="0" y="0" font-size="25" fill="#1c1c1c" textLength="61.5" lengthAdjust="spacingAndGlyphs" text-anchor="middle" transform="translate(851,389.8) rotate(-90)">[mm]</text>
<polygon points="1545.0,85.0 1562.0,54.5 1579.0,85.0" fill="#000345"/>
<polygon points="1545.0,686.5 1562.0,716.0 1579.0,686.5" fill="#ffffff"/>
<rect x="1545.0" y="646.40" width="34" height="40.70" fill="#ffffff"/>
<rect x="1545.0" y="606.30" width="34" height="40.70" fill="#d5e5fb"/>
<rect x="1545.0" y="566.20" width="34" height="40.70" fill="#b4d2f8"/>
<rect x="1545.0" y="526.10" width="34" height="40.70" fill="#8ebef4"/>
<rect x="1545.0" y="486.00" width="34" height="40.70" fill="#66a8f0"/>
<rect x="1545.0" y="445.90" width="34" height="40.70" fill="#4593ec"/>
<rect x="1545.0" y="405.80" width="34" height="40.70" fill="#2680ea"/>
<rect x="1545.0" y="365.70" width="34" height="40.70" fill="#0a6cea"/>
<rect x="1545.0" y="325.60" width="34" height="40.70" fill="#0058e6"/>
<rect x="1545.0" y="285.50" width="34" height="40.70" fill="#0049cc"/>
<rect x="1545.0" y="245.40" width="34" height="40.70" fill="#003bb2"/>
<rect x="1545.0" y="205.30" width="34" height="40.70" fill="#002c98"/>
<rect x="1545.0" y="165.20" width="34" height="40.70" fill="#001d7c"/>
<rect x="1545.0" y="125.10" width="34" height="40.70" fill="#000f62"/>
<rect x="1545.0" y="85.00" width="34" height="40.70" fill="#00064c"/>
<path d="M1545.0,85.0 L1562.0,54.5 L1579.0,85.0 L1579.0,686.5 L1562.0,716.0 L1545.0,686.5 Z" fill="none" stroke="#3a3a3a" stroke-width="1.6"/>
<line x1="1579.0" y1="85.8" x2="1586.0" y2="85.8" stroke="#333" stroke-width="1.6"/>
<text x="1593.0" y="95.4" font-size="26.5" text-anchor="start" font-weight="normal" font-style="normal" fill="#1c1c1c" textLength="43.0" lengthAdjust="spacingAndGlyphs" >600</text>
<line x1="1579.0" y1="140.5" x2="1586.0" y2="140.5" stroke="#333" stroke-width="1.6"/>
<text x="1593.0" y="150.1" font-size="26.5" text-anchor="start" font-weight="normal" font-style="normal" fill="#1c1c1c" textLength="43.0" lengthAdjust="spacingAndGlyphs" >550</text>
<line x1="1579.0" y1="195.1" x2="1586.0" y2="195.1" stroke="#333" stroke-width="1.6"/>
<text x="1593.0" y="204.7" font-size="26.5" text-anchor="start" font-weight="normal" font-style="normal" fill="#1c1c1c" textLength="43.0" lengthAdjust="spacingAndGlyphs" >500</text>
<line x1="1579.0" y1="249.8" x2="1586.0" y2="249.8" stroke="#333" stroke-width="1.6"/>
<text x="1593.0" y="259.4" font-size="26.5" text-anchor="start" font-weight="normal" font-style="normal" fill="#1c1c1c" textLength="43.0" lengthAdjust="spacingAndGlyphs" >450</text>
<line x1="1579.0" y1="304.4" x2="1586.0" y2="304.4" stroke="#333" stroke-width="1.6"/>
<text x="1593.0" y="314.0" font-size="26.5" text-anchor="start" font-weight="normal" font-style="normal" fill="#1c1c1c" textLength="43.0" lengthAdjust="spacingAndGlyphs" >400</text>
<line x1="1579.0" y1="359.1" x2="1586.0" y2="359.1" stroke="#333" stroke-width="1.6"/>
<text x="1593.0" y="368.7" font-size="26.5" text-anchor="start" font-weight="normal" font-style="normal" fill="#1c1c1c" textLength="43.0" lengthAdjust="spacingAndGlyphs" >350</text>
<line x1="1579.0" y1="413.7" x2="1586.0" y2="413.7" stroke="#333" stroke-width="1.6"/>
<text x="1593.0" y="423.3" font-size="26.5" text-anchor="start" font-weight="normal" font-style="normal" fill="#1c1c1c" textLength="43.0" lengthAdjust="spacingAndGlyphs" >300</text>
<line x1="1579.0" y1="468.4" x2="1586.0" y2="468.4" stroke="#333" stroke-width="1.6"/>
<text x="1593.0" y="478.0" font-size="26.5" text-anchor="start" font-weight="normal" font-style="normal" fill="#1c1c1c" textLength="43.0" lengthAdjust="spacingAndGlyphs" >250</text>
<line x1="1579.0" y1="523.0" x2="1586.0" y2="523.0" stroke="#333" stroke-width="1.6"/>
<text x="1593.0" y="532.6" font-size="26.5" text-anchor="start" font-weight="normal" font-style="normal" fill="#1c1c1c" textLength="43.0" lengthAdjust="spacingAndGlyphs" >200</text>
<line x1="1579.0" y1="577.7" x2="1586.0" y2="577.7" stroke="#333" stroke-width="1.6"/>
<text x="1593.0" y="587.3" font-size="26.5" text-anchor="start" font-weight="normal" font-style="normal" fill="#1c1c1c" textLength="43.0" lengthAdjust="spacingAndGlyphs" >150</text>
<line x1="1579.0" y1="632.3" x2="1586.0" y2="632.3" stroke="#333" stroke-width="1.6"/>
<text x="1593.0" y="641.9" font-size="26.5" text-anchor="start" font-weight="normal" font-style="normal" fill="#1c1c1c" textLength="43.0" lengthAdjust="spacingAndGlyphs" >100</text>
<line x1="1579.0" y1="687.0" x2="1586.0" y2="687.0" stroke="#333" stroke-width="1.6"/>
<text x="1593.0" y="696.6" font-size="26.5" text-anchor="start" font-weight="normal" font-style="normal" fill="#1c1c1c" textLength="29.3" lengthAdjust="spacingAndGlyphs" >50</text>
<text x="0" y="0" font-size="25" fill="#1c1c1c" textLength="61.5" lengthAdjust="spacingAndGlyphs" text-anchor="middle" transform="translate(1665.5,389.8) rotate(-90)">[mm]</text>
<polygon points="2360,85.0 2377.0,54.5 2394,85.0" fill="#006837"/>
<polygon points="2360,687.0 2377.0,716.5 2394,687.0" fill="#a50026"/>
<rect x="2360" y="632.27" width="34" height="55.33" fill="#a50026"/>
<rect x="2360" y="577.55" width="34" height="55.33" fill="#d73027"/>
<rect x="2360" y="522.82" width="34" height="55.33" fill="#f46d43"/>
<rect x="2360" y="468.09" width="34" height="55.33" fill="#fdae61"/>
<rect x="2360" y="413.36" width="34" height="55.33" fill="#fee08b"/>
<rect x="2360" y="358.64" width="34" height="55.33" fill="#ffffff"/>
<rect x="2360" y="303.91" width="34" height="55.33" fill="#d9ef8b"/>
<rect x="2360" y="249.18" width="34" height="55.33" fill="#a6d96a"/>
<rect x="2360" y="194.45" width="34" height="55.33" fill="#66bd63"/>
<rect x="2360" y="139.73" width="34" height="55.33" fill="#1a9850"/>
<rect x="2360" y="85.00" width="34" height="55.33" fill="#006837"/>
<path d="M2360,85.0 L2377.0,54.5 L2394,85.0 L2394,687.0 L2377.0,716.5 L2360,687.0 Z" fill="none" stroke="#3a3a3a" stroke-width="1.6"/>
<line x1="2394" y1="85.0" x2="2401" y2="85.0" stroke="#333" stroke-width="1.6"/>
<text x="2408.5" y="94.6" font-size="26.5" text-anchor="start" font-weight="normal" font-style="normal" fill="#1c1c1c" textLength="43.0" lengthAdjust="spacingAndGlyphs" >300</text>
<line x1="2394" y1="135.2" x2="2401" y2="135.2" stroke="#333" stroke-width="1.6"/>
<text x="2408.5" y="144.8" font-size="26.5" text-anchor="start" font-weight="normal" font-style="normal" fill="#1c1c1c" textLength="43.0" lengthAdjust="spacingAndGlyphs" >250</text>
<line x1="2394" y1="185.3" x2="2401" y2="185.3" stroke="#333" stroke-width="1.6"/>
<text x="2408.5" y="194.9" font-size="26.5" text-anchor="start" font-weight="normal" font-style="normal" fill="#1c1c1c" textLength="43.0" lengthAdjust="spacingAndGlyphs" >200</text>
<line x1="2394" y1="235.5" x2="2401" y2="235.5" stroke="#333" stroke-width="1.6"/>
<text x="2408.5" y="245.1" font-size="26.5" text-anchor="start" font-weight="normal" font-style="normal" fill="#1c1c1c" textLength="43.0" lengthAdjust="spacingAndGlyphs" >150</text>
<line x1="2394" y1="285.7" x2="2401" y2="285.7" stroke="#333" stroke-width="1.6"/>
<text x="2408.5" y="295.3" font-size="26.5" text-anchor="start" font-weight="normal" font-style="normal" fill="#1c1c1c" textLength="43.0" lengthAdjust="spacingAndGlyphs" >100</text>
<line x1="2394" y1="335.8" x2="2401" y2="335.8" stroke="#333" stroke-width="1.6"/>
<text x="2408.5" y="345.4" font-size="26.5" text-anchor="start" font-weight="normal" font-style="normal" fill="#1c1c1c" textLength="29.3" lengthAdjust="spacingAndGlyphs" >50</text>
<line x1="2394" y1="386.0" x2="2401" y2="386.0" stroke="#333" stroke-width="1.6"/>
<text x="2408.5" y="395.6" font-size="26.5" text-anchor="start" font-weight="normal" font-style="normal" fill="#1c1c1c" textLength="15.7" lengthAdjust="spacingAndGlyphs" >0</text>
<line x1="2394" y1="436.2" x2="2401" y2="436.2" stroke="#333" stroke-width="1.6"/>
<text x="2408.5" y="445.8" font-size="26.5" text-anchor="start" font-weight="normal" font-style="normal" fill="#1c1c1c" textLength="47.4" lengthAdjust="spacingAndGlyphs" >−50</text>
<line x1="2394" y1="486.3" x2="2401" y2="486.3" stroke="#333" stroke-width="1.6"/>
<text x="2408.5" y="495.9" font-size="26.5" text-anchor="start" font-weight="normal" font-style="normal" fill="#1c1c1c" textLength="61.0" lengthAdjust="spacingAndGlyphs" >−100</text>
<line x1="2394" y1="536.5" x2="2401" y2="536.5" stroke="#333" stroke-width="1.6"/>
<text x="2408.5" y="546.1" font-size="26.5" text-anchor="start" font-weight="normal" font-style="normal" fill="#1c1c1c" textLength="61.0" lengthAdjust="spacingAndGlyphs" >−150</text>
<line x1="2394" y1="586.7" x2="2401" y2="586.7" stroke="#333" stroke-width="1.6"/>
<text x="2408.5" y="596.3" font-size="26.5" text-anchor="start" font-weight="normal" font-style="normal" fill="#1c1c1c" textLength="61.0" lengthAdjust="spacingAndGlyphs" >−200</text>
<line x1="2394" y1="636.8" x2="2401" y2="636.8" stroke="#333" stroke-width="1.6"/>
<text x="2408.5" y="646.4" font-size="26.5" text-anchor="start" font-weight="normal" font-style="normal" fill="#1c1c1c" textLength="61.0" lengthAdjust="spacingAndGlyphs" >−250</text>
<line x1="2394" y1="687.0" x2="2401" y2="687.0" stroke="#333" stroke-width="1.6"/>
<text x="2408.5" y="696.6" font-size="26.5" text-anchor="start" font-weight="normal" font-style="normal" fill="#1c1c1c" textLength="61.0" lengthAdjust="spacingAndGlyphs" >−300</text>
<text x="0" y="0" font-size="25" fill="#1c1c1c" textLength="61.5" lengthAdjust="spacingAndGlyphs" text-anchor="middle" transform="translate(2500,390.0) rotate(-90)">[mm]</text>
<text x="816" y="785.9" font-size="28" text-anchor="start" font-weight="bold" font-style="normal" fill="#0a0a0a" textLength="1050" lengthAdjust="spacingAndGlyphs" >Precipitación anual acumulada - Pvcia. de Bs. As. - Período 2000-2023</text>
<path d="M253.4,799.5 V1410.5 M313.0,799.5 V1410.5 M372.5,799.5 V1410.5 M432.1,799.5 V1410.5 M491.6,799.5 V1410.5 M551.2,799.5 V1410.5 M610.8,799.5 V1410.5 M670.3,799.5 V1410.5 M729.9,799.5 V1410.5 M789.4,799.5 V1410.5 M849.0,799.5 V1410.5 M908.6,799.5 V1410.5 M968.1,799.5 V1410.5 M1027.7,799.5 V1410.5 M1087.2,799.5 V1410.5 M1146.8,799.5 V1410.5 M1206.4,799.5 V1410.5 M1265.9,799.5 V1410.5 M1325.5,799.5 V1410.5 M1385.0,799.5 V1410.5 M1444.6,799.5 V1410.5 M1504.2,799.5 V1410.5 M1563.7,799.5 V1410.5 M1623.3,799.5 V1410.5 M1682.8,799.5 V1410.5 M1742.4,799.5 V1410.5 M1802.0,799.5 V1410.5 M1861.5,799.5 V1410.5 M1921.1,799.5 V1410.5 M1980.6,799.5 V1410.5 M2040.2,799.5 V1410.5 M2099.8,799.5 V1410.5 M2159.3,799.5 V1410.5 M2218.9,799.5 V1410.5 M2278.4,799.5 V1410.5 M2338.0,799.5 V1410.5 M2397.6,799.5 V1410.5 M146.5,1383.2 H2536 M146.5,1337.6 H2536 M146.5,1292.0 H2536 M146.5,1246.3 H2536 M146.5,1200.7 H2536 M146.5,1155.1 H2536 M146.5,1109.5 H2536 M146.5,1063.9 H2536 M146.5,1018.2 H2536 M146.5,972.6 H2536 M146.5,927.0 H2536 M146.5,881.4 H2536 M146.5,835.8 H2536" stroke="#e4e4e4" stroke-width="1.2" fill="none"/>
<g fill="none" stroke="#acacac" stroke-width="2.4" stroke-opacity="0.5" stroke-linejoin="round">
<path d="M253.4,1377.0 L259.4,1371.3 L265.3,1371.3 L271.3,1371.3 L277.2,1371.3 L283.2,1370.4 L289.1,1370.1 L295.1,1369.4 L301.0,1369.4 L307.0,1367.1 L313.0,1366.4 L318.9,1366.4 L324.9,1366.4 L330.8,1365.0 L336.8,1365.0 L342.7,1357.6 L348.7,1354.8 L354.7,1354.8 L360.6,1351.7 L366.6,1349.9 L372.5,1349.8 L378.5,1343.6 L384.4,1340.7 L390.4,1340.7 L396.3,1340.7 L402.3,1339.9 L408.3,1339.9 L414.2,1339.9 L420.2,1332.8 L426.1,1332.8 L432.1,1332.8 L438.0,1317.9 L444.0,1315.8 L449.9,1315.8 L455.9,1315.8 L461.9,1302.6 L467.8,1302.6 L473.8,1300.6 L479.7,1300.2 L485.7,1294.3 L491.6,1294.3 L497.6,1294.0 L503.6,1294.0 L509.5,1294.0 L515.5,1292.6 L521.4,1292.6 L527.4,1292.6 L533.3,1292.6 L539.3,1292.3 L545.2,1292.3 L551.2,1288.8 L557.2,1288.8 L563.1,1279.9 L569.1,1279.9 L575.0,1279.9 L581.0,1279.9 L586.9,1276.0 L592.9,1263.3 L598.8,1259.2 L604.8,1259.2 L610.8,1259.2 L616.7,1259.2 L622.7,1259.2 L628.6,1259.2 L634.6,1259.2 L640.5,1259.2 L646.5,1255.7 L652.5,1252.5 L658.4,1252.5 L664.4,1252.5 L670.3,1252.5 L676.3,1252.5 L682.2,1251.8 L688.2,1241.4 L694.1,1241.4 L700.1,1230.9 L706.1,1230.9 L712.0,1230.9 L718.0,1230.9 L723.9,1230.9 L729.9,1223.4 L735.8,1219.3 L741.8,1219.3 L747.7,1219.3 L753.7,1201.2 L759.7,1201.2 L765.6,1201.2 L771.6,1196.3 L777.5,1189.4 L783.5,1189.4 L789.4,1189.4 L795.4,1189.4 L801.4,1189.4 L807.3,1183.0 L813.3,1183.0 L819.2,1183.0 L825.2,1171.5 L831.1,1171.5 L837.1,1171.5 L843.0,1171.5 L849.0,1171.5 L855.0,1171.5 L860.9,1171.5 L866.9,1170.0 L872.8,1170.0 L878.8,1170.0 L884.7,1170.0 L890.7,1170.0 L896.6,1170.0 L902.6,1168.7 L908.6,1168.7 L914.5,1168.7 L920.5,1167.9 L926.4,1167.9 L932.4,1167.9 L938.3,1167.9 L944.3,1167.8 L950.3,1166.9 L956.2,1165.9 L962.2,1165.9 L968.1,1165.4 L974.1,1165.3 L980.0,1165.0 L986.0,1164.8 L991.9,1164.3 L997.9,1163.5 L1003.9,1163.5 L1009.8,1160.3 L1015.8,1159.6 L1021.7,1158.8 L1027.7,1156.3 L1033.6,1156.3 L1039.6,1156.3 L1045.5,1155.2 L1051.5,1154.0 L1057.5,1154.0 L1063.4,1154.0 L1069.4,1151.6 L1075.3,1151.6 L1081.3,1151.4 L1087.2,1151.4 L1093.2,1151.4 L1099.2,1151.4 L1105.1,1151.4 L1111.1,1151.4 L1117.0,1148.3 L1123.0,1148.1 L1128.9,1148.1 L1134.9,1148.1 L1140.8,1146.7 L1146.8,1146.7 L1152.8,1146.2 L1158.7,1145.8 L1164.7,1145.8 L1170.6,1142.6 L1176.6,1142.6 L1182.5,1142.6 L1188.5,1138.7 L1194.4,1138.7 L1200.4,1138.3 L1206.4,1138.3 L1212.3,1138.3 L1218.3,1137.7 L1224.2,1136.7 L1230.2,1136.4 L1236.1,1136.4 L1242.1,1136.4 L1248.1,1135.6 L1254.0,1132.9 L1260.0,1132.9 L1265.9,1132.6 L1271.9,1128.1 L1277.8,1127.2 L1283.8,1127.2 L1289.7,1127.2 L1295.7,1127.2 L1301.7,1127.2 L1307.6,1122.2 L1313.6,1119.5 L1319.5,1118.2 L1325.5,1118.2 L1331.4,1118.2 L1337.4,1113.4 L1343.3,1113.4 L1349.3,1112.4 L1355.3,1112.4 L1361.2,1112.4 L1367.2,1112.4 L1373.1,1112.4 L1379.1,1107.1 L1385.0,1104.0 L1391.0,1104.0 L1397.0,1104.0 L1402.9,1104.0 L1408.9,1104.0 L1414.8,1102.3 L1420.8,1102.3 L1426.7,1101.1 L1432.7,1101.1 L1438.6,1094.7 L1444.6,1094.7 L1450.6,1094.1 L1456.5,1094.1 L1462.5,1094.1 L1468.4,1093.0 L1474.4,1093.0 L1480.3,1093.0 L1486.3,1092.7 L1492.2,1092.7 L1498.2,1092.7 L1504.2,1092.2 L1510.1,1092.2 L1516.1,1092.2 L1522.0,1092.2 L1528.0,1090.0 L1533.9,1090.0 L1539.9,1090.0 L1545.9,1090.0 L1551.8,1086.9 L1557.8,1085.1 L1563.7,1085.1 L1569.7,1085.1 L1575.6,1084.5 L1581.6,1084.5 L1587.5,1082.9 L1593.5,1082.6 L1599.5,1082.6 L1605.4,1082.3 L1611.4,1082.0 L1617.3,1079.6 L1623.3,1079.6 L1629.2,1079.6 L1635.2,1078.0 L1641.1,1075.4 L1647.1,1075.4 L1653.1,1075.4 L1659.0,1075.2 L1665.0,1075.2 L1670.9,1072.3 L1676.9,1072.3 L1682.8,1072.3 L1688.8,1072.3 L1694.8,1072.3 L1700.7,1070.0 L1706.7,1066.1 L1712.6,1066.1 L1718.6,1065.3 L1724.5,1061.5 L1730.5,1057.9 L1736.4,1057.9 L1742.4,1054.8 L1748.4,1054.3 L1754.3,1054.3 L1760.3,1047.7 L1766.2,1047.7 L1772.2,1042.6 L1778.1,1038.6 L1784.1,1038.0 L1790.0,1038.0 L1796.0,1038.0 L1802.0,1037.6 L1807.9,1037.6 L1813.9,1037.6 L1819.8,1037.6 L1825.8,1034.5 L1831.7,1033.7 L1837.7,1030.7 L1843.7,1029.1 L1849.6,1023.5 L1855.6,1023.5 L1861.5,1023.5 L1867.5,1017.4 L1873.4,1017.4 L1879.4,1017.4 L1885.3,1017.4 L1891.3,1017.4 L1897.3,1017.1 L1903.2,1016.4 L1909.2,1009.3 L1915.1,1009.3 L1921.1,1009.3 L1927.0,1007.2 L1933.0,1007.2 L1938.9,1007.2 L1944.9,1005.2 L1950.9,1004.6 L1956.8,1003.1 L1962.8,996.3 L1968.7,995.3 L1974.7,994.7 L1980.6,993.9 L1986.6,993.9 L1992.6,985.5 L1998.5,976.5 L2004.5,976.5 L2010.4,976.5 L2016.4,976.5 L2022.3,976.5 L2028.3,973.0 L2034.2,969.3 L2040.2,969.3 L2046.2,968.1 L2052.1,966.7 L2058.1,963.9 L2064.0,963.9 L2070.0,961.9 L2075.9,961.9 L2081.9,954.7 L2087.8,954.7 L2093.8,953.2 L2099.8,953.2 L2105.7,953.2 L2111.7,953.2 L2117.6,933.1 L2123.6,932.7 L2129.5,932.7 L2135.5,932.5 L2141.5,932.5 L2147.4,932.5 L2153.4,932.5 L2159.3,931.9 L2165.3,919.5 L2171.2,919.5 L2177.2,919.5 L2183.1,918.0 L2189.1,915.2 L2195.1,913.6 L2201.0,911.6 L2207.0,911.4 L2212.9,911.4 L2218.9,907.6 L2224.8,900.7 L2230.8,897.4 L2236.7,890.3 L2242.7,890.3 L2248.7,890.3 L2254.6,890.3 L2260.6,890.2 L2266.5,890.2 L2272.5,890.2 L2278.4,890.2 L2284.4,881.3 L2290.4,881.3 L2296.3,881.3 L2302.3,876.0 L2308.2,876.0 L2314.2,874.9 L2320.1,874.1 L2326.1,874.1 L2332.0,874.1 L2338.0,872.8 L2344.0,870.3 L2349.9,865.2 L2355.9,865.2 L2361.8,864.7 L2367.8,864.7 L2373.7,862.7 L2379.7,858.5 L2385.6,853.5 L2391.6,841.0 L2397.6,841.0 L2403.5,841.0 L2409.5,841.0 L2415.4,841.0 L2421.4,841.0 L2427.3,825.7"/>
<path d="M253.4,1379.1 L259.4,1379.1 L265.3,1379.1 L271.3,1379.0 L277.2,1377.6 L283.2,1377.6 L289.1,1377.6 L295.1,1377.6 L301.0,1375.9 L307.0,1374.7 L313.0,1372.0 L318.9,1372.0 L324.9,1372.0 L330.8,1369.7 L336.8,1366.0 L342.7,1357.5 L348.7,1357.5 L354.7,1356.3 L360.6,1356.3 L366.6,1356.3 L372.5,1354.5 L378.5,1354.5 L384.4,1354.5 L390.4,1354.5 L396.3,1354.5 L402.3,1354.5 L408.3,1350.5 L414.2,1350.4 L420.2,1350.4 L426.1,1348.4 L432.1,1348.4 L438.0,1348.4 L444.0,1347.8 L449.9,1347.2 L455.9,1347.2 L461.9,1343.9 L467.8,1342.9 L473.8,1333.3 L479.7,1333.3 L485.7,1333.3 L491.6,1333.3 L497.6,1333.0 L503.6,1333.0 L509.5,1333.0 L515.5,1332.5 L521.4,1329.5 L527.4,1329.5 L533.3,1325.8 L539.3,1323.0 L545.2,1323.0 L551.2,1323.0 L557.2,1323.0 L563.1,1323.0 L569.1,1323.0 L575.0,1323.0 L581.0,1320.7 L586.9,1320.6 L592.9,1318.4 L598.8,1318.4 L604.8,1318.4 L610.8,1299.9 L616.7,1299.9 L622.7,1299.9 L628.6,1299.9 L634.6,1299.9 L640.5,1299.9 L646.5,1299.9 L652.5,1295.7 L658.4,1295.7 L664.4,1295.7 L670.3,1295.4 L676.3,1293.4 L682.2,1293.4 L688.2,1293.4 L694.1,1293.4 L700.1,1281.2 L706.1,1275.6 L712.0,1269.3 L718.0,1269.3 L723.9,1269.3 L729.9,1269.3 L735.8,1269.3 L741.8,1269.3 L747.7,1269.3 L753.7,1269.3 L759.7,1266.0 L765.6,1266.0 L771.6,1249.5 L777.5,1249.5 L783.5,1249.5 L789.4,1248.6 L795.4,1248.6 L801.4,1248.6 L807.3,1248.6 L813.3,1248.6 L819.2,1248.1 L825.2,1248.1 L831.1,1248.1 L837.1,1248.1 L843.0,1238.3 L849.0,1236.7 L855.0,1232.3 L860.9,1232.3 L866.9,1227.8 L872.8,1227.8 L878.8,1227.5 L884.7,1227.5 L890.7,1227.5 L896.6,1227.5 L902.6,1227.5 L908.6,1225.0 L914.5,1225.0 L920.5,1225.0 L926.4,1223.5 L932.4,1223.5 L938.3,1223.5 L944.3,1223.4 L950.3,1219.7 L956.2,1219.7 L962.2,1218.7 L968.1,1218.7 L974.1,1218.7 L980.0,1218.7 L986.0,1218.7 L991.9,1215.7 L997.9,1215.7 L1003.9,1215.7 L1009.8,1209.1 L1015.8,1209.1 L1021.7,1209.1 L1027.7,1205.0 L1033.6,1205.0 L1039.6,1205.0 L1045.5,1204.2 L1051.5,1203.9 L1057.5,1200.5 L1063.4,1195.6 L1069.4,1195.6 L1075.3,1195.6 L1081.3,1195.6 L1087.2,1195.6 L1093.2,1195.6 L1099.2,1195.6 L1105.1,1195.6 L1111.1,1195.6 L1117.0,1195.2 L1123.0,1194.4 L1128.9,1192.3 L1134.9,1192.3 L1140.8,1192.3 L1146.8,1190.5 L1152.8,1190.5 L1158.7,1190.1 L1164.7,1190.1 L1170.6,1186.6 L1176.6,1186.6 L1182.5,1186.6 L1188.5,1186.6 L1194.4,1182.3 L1200.4,1182.3 L1206.4,1181.9 L1212.3,1181.9 L1218.3,1177.9 L1224.2,1177.9 L1230.2,1176.9 L1236.1,1176.9 L1242.1,1176.9 L1248.1,1176.9 L1254.0,1176.9 L1260.0,1175.6 L1265.9,1175.6 L1271.9,1175.6 L1277.8,1174.0 L1283.8,1170.6 L1289.7,1169.7 L1295.7,1167.7 L1301.7,1167.7 L1307.6,1167.7 L1313.6,1163.5 L1319.5,1162.9 L1325.5,1162.9 L1331.4,1160.6 L1337.4,1160.6 L1343.3,1159.7 L1349.3,1158.5 L1355.3,1158.1 L1361.2,1158.1 L1367.2,1157.2 L1373.1,1156.7 L1379.1,1156.7 L1385.0,1156.7 L1391.0,1156.7 L1397.0,1155.9 L1402.9,1155.9 L1408.9,1154.5 L1414.8,1154.5 L1420.8,1154.5 L1426.7,1154.5 L1432.7,1154.5 L1438.6,1154.5 L1444.6,1151.3 L1450.6,1151.3 L1456.5,1151.3 L1462.5,1139.6 L1468.4,1139.6 L1474.4,1139.6 L1480.3,1137.0 L1486.3,1131.0 L1492.2,1131.0 L1498.2,1130.1 L1504.2,1129.0 L1510.1,1127.2 L1516.1,1126.8 L1522.0,1126.8 L1528.0,1126.0 L1533.9,1126.0 L1539.9,1126.0 L1545.9,1126.0 L1551.8,1126.0 L1557.8,1126.0 L1563.7,1126.0 L1569.7,1125.5 L1575.6,1125.5 L1581.6,1125.5 L1587.5,1125.2 L1593.5,1124.7 L1599.5,1124.7 L1605.4,1118.8 L1611.4,1115.9 L1617.3,1115.9 L1623.3,1115.9 L1629.2,1115.4 L1635.2,1115.4 L1641.1,1113.6 L1647.1,1113.6 L1653.1,1113.6 L1659.0,1113.6 L1665.0,1110.3 L1670.9,1107.2 L1676.9,1107.2 L1682.8,1104.6 L1688.8,1104.6 L1694.8,1098.8 L1700.7,1096.0 L1706.7,1096.0 L1712.6,1096.0 L1718.6,1093.2 L1724.5,1091.3 L1730.5,1091.2 L1736.4,1088.9 L1742.4,1088.9 L1748.4,1088.9 L1754.3,1085.6 L1760.3,1085.6 L1766.2,1085.6 L1772.2,1085.6 L1778.1,1085.6 L1784.1,1084.8 L1790.0,1084.8 L1796.0,1082.2 L1802.0,1082.2 L1807.9,1082.2 L1813.9,1071.0 L1819.8,1067.6 L1825.8,1067.6 L1831.7,1065.7 L1837.7,1065.7 L1843.7,1065.7 L1849.6,1063.1 L1855.6,1062.7 L1861.5,1062.0 L1867.5,1062.0 L1873.4,1060.6 L1879.4,1060.6 L1885.3,1060.6 L1891.3,1053.0 L1897.3,1053.0 L1903.2,1048.1 L1909.2,1046.7 L1915.1,1046.7 L1921.1,1035.6 L1927.0,1034.9 L1933.0,1028.4 L1938.9,1028.4 L1944.9,1028.1 L1950.9,1028.1 L1956.8,1028.1 L1962.8,1028.1 L1968.7,1023.8 L1974.7,1017.6 L1980.6,1017.6 L1986.6,1017.6 L1992.6,1003.2 L1998.5,1002.9 L2004.5,1002.9 L2010.4,1002.5 L2016.4,1002.5 L2022.3,1002.5 L2028.3,1002.5 L2034.2,1002.5 L2040.2,997.5 L2046.2,997.5 L2052.1,989.9 L2058.1,988.0 L2064.0,980.2 L2070.0,980.2 L2075.9,980.2 L2081.9,980.2 L2087.8,978.9 L2093.8,962.9 L2099.8,962.4 L2105.7,962.0 L2111.7,956.7 L2117.6,956.7 L2123.6,955.9 L2129.5,955.9 L2135.5,955.9 L2141.5,951.2 L2147.4,951.2 L2153.4,949.5 L2159.3,949.5 L2165.3,949.5 L2171.2,949.5 L2177.2,949.5 L2183.1,949.5 L2189.1,941.2 L2195.1,941.2 L2201.0,940.6 L2207.0,938.2 L2212.9,938.2 L2218.9,932.8 L2224.8,932.8 L2230.8,932.8 L2236.7,927.6 L2242.7,927.2 L2248.7,927.2 L2254.6,927.2 L2260.6,927.2 L2266.5,914.7 L2272.5,911.1 L2278.4,911.1 L2284.4,909.3 L2290.4,908.9 L2296.3,904.5 L2302.3,897.4 L2308.2,896.1 L2314.2,886.0 L2320.1,886.0 L2326.1,886.0 L2332.0,886.0 L2338.0,884.1 L2344.0,884.0 L2349.9,884.0 L2355.9,883.6 L2361.8,883.6 L2367.8,883.6 L2373.7,883.6 L2379.7,883.6 L2385.6,878.5 L2391.6,875.8 L2397.6,860.5 L2403.5,860.5 L2409.5,859.4 L2415.4,859.4 L2421.4,859.4 L2427.3,858.6"/>
<path d="M253.4,1377.9 L259.4,1377.9 L265.3,1377.9 L271.3,1374.8 L277.2,1373.3 L283.2,1373.3 L289.1,1373.3 L295.1,1372.8 L301.0,1372.8 L307.0,1372.8 L313.0,1359.2 L318.9,1358.8 L324.9,1357.4 L330.8,1357.4 L336.8,1357.4 L342.7,1354.7 L348.7,1352.7 L354.7,1351.7 L360.6,1348.8 L366.6,1345.5 L372.5,1343.5 L378.5,1343.5 L384.4,1343.5 L390.4,1343.5 L396.3,1343.5 L402.3,1342.6 L408.3,1342.6 L414.2,1340.7 L420.2,1327.7 L426.1,1324.0 L432.1,1324.0 L438.0,1324.0 L444.0,1314.0 L449.9,1307.4 L455.9,1307.4 L461.9,1301.0 L467.8,1301.0 L473.8,1296.5 L479.7,1296.5 L485.7,1296.5 L491.6,1296.5 L497.6,1296.5 L503.6,1294.1 L509.5,1288.7 L515.5,1288.7 L521.4,1288.7 L527.4,1286.0 L533.3,1286.0 L539.3,1285.2 L545.2,1285.2 L551.2,1285.2 L557.2,1278.2 L563.1,1278.2 L569.1,1274.1 L575.0,1272.9 L581.0,1268.6 L586.9,1268.6 L592.9,1268.6 L598.8,1268.6 L604.8,1267.2 L610.8,1267.2 L616.7,1263.6 L622.7,1263.6 L628.6,1259.0 L634.6,1257.8 L640.5,1257.8 L646.5,1257.6 L652.5,1251.8 L658.4,1249.4 L664.4,1243.0 L670.3,1243.0 L676.3,1243.0 L682.2,1236.7 L688.2,1236.7 L694.1,1236.7 L700.1,1236.7 L706.1,1236.7 L712.0,1236.7 L718.0,1236.7 L723.9,1236.7 L729.9,1203.3 L735.8,1203.3 L741.8,1202.3 L747.7,1200.7 L753.7,1199.2 L759.7,1199.2 L765.6,1193.7 L771.6,1193.7 L777.5,1190.9 L783.5,1190.9 L789.4,1190.9 L795.4,1190.9 L801.4,1182.9 L807.3,1182.9 L813.3,1182.5 L819.2,1182.5 L825.2,1182.5 L831.1,1182.5 L837.1,1182.5 L843.0,1182.5 L849.0,1182.5 L855.0,1182.5 L860.9,1182.5 L866.9,1182.5 L872.8,1178.6 L878.8,1178.6 L884.7,1178.6 L890.7,1178.6 L896.6,1177.9 L902.6,1176.8 L908.6,1176.8 L914.5,1176.8 L920.5,1174.1 L926.4,1174.1 L932.4,1173.7 L938.3,1173.7 L944.3,1173.2 L950.3,1173.1 L956.2,1171.1 L962.2,1171.1 L968.1,1171.1 L974.1,1171.1 L980.0,1171.1 L986.0,1161.8 L991.9,1161.2 L997.9,1161.0 L1003.9,1161.0 L1009.8,1161.0 L1015.8,1161.0 L1021.7,1161.0 L1027.7,1161.0 L1033.6,1161.0 L1039.6,1161.0 L1045.5,1161.0 L1051.5,1159.4 L1057.5,1154.6 L1063.4,1153.6 L1069.4,1153.6 L1075.3,1151.4 L1081.3,1148.3 L1087.2,1148.3 L1093.2,1144.6 L1099.2,1143.5 L1105.1,1143.5 L1111.1,1143.5 L1117.0,1140.3 L1123.0,1138.3 L1128.9,1135.4 L1134.9,1135.4 L1140.8,1135.4 L1146.8,1133.3 L1152.8,1133.3 L1158.7,1133.1 L1164.7,1132.2 L1170.6,1130.6 L1176.6,1130.1 L1182.5,1129.6 L1188.5,1129.6 L1194.4,1129.4 L1200.4,1125.2 L1206.4,1124.6 L1212.3,1123.0 L1218.3,1123.0 L1224.2,1120.1 L1230.2,1118.4 L1236.1,1118.4 L1242.1,1118.4 L1248.1,1118.0 L1254.0,1117.6 L1260.0,1117.6 L1265.9,1117.6 L1271.9,1116.6 L1277.8,1116.6 L1283.8,1116.6 L1289.7,1116.6 L1295.7,1116.6 L1301.7,1116.6 L1307.6,1113.4 L1313.6,1110.0 L1319.5,1110.0 L1325.5,1107.4 L1331.4,1107.4 L1337.4,1107.4 L1343.3,1104.0 L1349.3,1104.0 L1355.3,1103.4 L1361.2,1103.4 L1367.2,1103.4 L1373.1,1102.9 L1379.1,1102.9 L1385.0,1096.7 L1391.0,1093.2 L1397.0,1090.9 L1402.9,1090.9 L1408.9,1090.9 L1414.8,1090.9 L1420.8,1090.9 L1426.7,1090.9 L1432.7,1090.9 L1438.6,1087.2 L1444.6,1081.6 L1450.6,1078.4 L1456.5,1076.1 L1462.5,1076.1 L1468.4,1076.1 L1474.4,1073.2 L1480.3,1073.2 L1486.3,1071.2 L1492.2,1071.2 L1498.2,1071.2 L1504.2,1070.9 L1510.1,1066.9 L1516.1,1066.5 L1522.0,1066.5 L1528.0,1065.1 L1533.9,1065.1 L1539.9,1065.0 L1545.9,1065.0 L1551.8,1065.0 L1557.8,1064.0 L1563.7,1064.0 L1569.7,1064.0 L1575.6,1064.0 L1581.6,1064.0 L1587.5,1063.4 L1593.5,1063.4 L1599.5,1059.7 L1605.4,1058.8 L1611.4,1057.8 L1617.3,1057.5 L1623.3,1057.5 L1629.2,1057.5 L1635.2,1056.6 L1641.1,1056.5 L1647.1,1050.9 L1653.1,1050.5 L1659.0,1050.4 L1665.0,1050.4 L1670.9,1050.4 L1676.9,1050.4 L1682.8,1050.4 L1688.8,1050.4 L1694.8,1050.1 L1700.7,1050.0 L1706.7,1048.3 L1712.6,1048.3 L1718.6,1047.9 L1724.5,1047.9 L1730.5,1047.9 L1736.4,1047.9 L1742.4,1047.9 L1748.4,1047.9 L1754.3,1047.9 L1760.3,1045.0 L1766.2,1044.9 L1772.2,1042.8 L1778.1,1042.5 L1784.1,1040.9 L1790.0,1040.9 L1796.0,1040.9 L1802.0,1040.9 L1807.9,1040.9 L1813.9,1040.9 L1819.8,1039.2 L1825.8,1035.8 L1831.7,1035.8 L1837.7,1035.8 L1843.7,1035.3 L1849.6,1032.3 L1855.6,1032.3 L1861.5,1031.4 L1867.5,1027.7 L1873.4,1027.7 L1879.4,1023.3 L1885.3,1014.7 L1891.3,1011.6 L1897.3,1011.6 L1903.2,1011.6 L1909.2,1011.6 L1915.1,1011.6 L1921.1,1011.6 L1927.0,1011.6 L1933.0,1009.9 L1938.9,1009.9 L1944.9,1009.9 L1950.9,998.7 L1956.8,993.3 L1962.8,993.3 L1968.7,993.3 L1974.7,986.5 L1980.6,986.5 L1986.6,986.5 L1992.6,983.8 L1998.5,983.8 L2004.5,983.8 L2010.4,983.8 L2016.4,978.9 L2022.3,978.9 L2028.3,978.0 L2034.2,978.0 L2040.2,972.3 L2046.2,972.1 L2052.1,971.2 L2058.1,958.4 L2064.0,956.1 L2070.0,956.1 L2075.9,956.1 L2081.9,954.7 L2087.8,942.7 L2093.8,941.2 L2099.8,941.2 L2105.7,941.2 L2111.7,935.3 L2117.6,935.3 L2123.6,935.3 L2129.5,935.3 L2135.5,935.3 L2141.5,935.3 L2147.4,935.3 L2153.4,931.6 L2159.3,931.6 L2165.3,925.4 L2171.2,920.3 L2177.2,920.3 L2183.1,920.3 L2189.1,920.3 L2195.1,920.3 L2201.0,920.3 L2207.0,920.3 L2212.9,915.3 L2218.9,915.3 L2224.8,906.5 L2230.8,902.3 L2236.7,902.3 L2242.7,902.3 L2248.7,902.3 L2254.6,902.3 L2260.6,902.3 L2266.5,897.1 L2272.5,897.1 L2278.4,889.3 L2284.4,889.3 L2290.4,879.9 L2296.3,879.9 L2302.3,879.9 L2308.2,879.9 L2314.2,879.9 L2320.1,875.8 L2326.1,875.8 L2332.0,875.8 L2338.0,875.8 L2344.0,875.8 L2349.9,875.8 L2355.9,872.3 L2361.8,872.3 L2367.8,872.3 L2373.7,872.3 L2379.7,863.1 L2385.6,863.1 L2391.6,863.1 L2397.6,863.1 L2403.5,863.1 L2409.5,863.1 L2415.4,863.1 L2421.4,863.1 L2427.3,863.1"/>
<path d="M253.4,1379.0 L259.4,1379.0 L265.3,1379.0 L271.3,1379.0 L277.2,1378.5 L283.2,1378.5 L289.1,1378.2 L295.1,1375.7 L301.0,1375.7 L307.0,1375.2 L313.0,1373.4 L318.9,1373.4 L324.9,1372.1 L330.8,1371.9 L336.8,1371.9 L342.7,1370.9 L348.7,1370.9 L354.7,1370.9 L360.6,1370.9 L366.6,1365.8 L372.5,1361.8 L378.5,1361.8 L384.4,1354.0 L390.4,1354.0 L396.3,1354.0 L402.3,1354.0 L408.3,1353.0 L414.2,1353.0 L420.2,1353.0 L426.1,1353.0 L432.1,1341.1 L438.0,1341.1 L444.0,1340.8 L449.9,1338.8 L455.9,1338.8 L461.9,1330.8 L467.8,1330.8 L473.8,1326.7 L479.7,1325.2 L485.7,1324.4 L491.6,1324.4 L497.6,1324.4 L503.6,1324.4 L509.5,1324.4 L515.5,1324.4 L521.4,1324.4 L527.4,1324.0 L533.3,1323.7 L539.3,1323.6 L545.2,1323.6 L551.2,1322.9 L557.2,1320.9 L563.1,1315.3 L569.1,1315.3 L575.0,1315.0 L581.0,1315.0 L586.9,1315.0 L592.9,1311.4 L598.8,1304.9 L604.8,1304.9 L610.8,1304.9 L616.7,1303.3 L622.7,1303.3 L628.6,1303.3 L634.6,1302.5 L640.5,1300.3 L646.5,1298.6 L652.5,1298.6 L658.4,1298.6 L664.4,1298.6 L670.3,1298.6 L676.3,1289.9 L682.2,1289.9 L688.2,1289.9 L694.1,1289.9 L700.1,1278.3 L706.1,1265.7 L712.0,1265.7 L718.0,1265.7 L723.9,1265.7 L729.9,1264.1 L735.8,1264.1 L741.8,1264.1 L747.7,1264.1 L753.7,1262.0 L759.7,1261.1 L765.6,1257.6 L771.6,1256.0 L777.5,1241.7 L783.5,1241.7 L789.4,1241.7 L795.4,1241.7 L801.4,1231.3 L807.3,1230.2 L813.3,1230.2 L819.2,1230.2 L825.2,1230.2 L831.1,1230.2 L837.1,1230.2 L843.0,1229.2 L849.0,1228.6 L855.0,1223.8 L860.9,1223.8 L866.9,1223.0 L872.8,1220.6 L878.8,1220.6 L884.7,1217.2 L890.7,1217.2 L896.6,1216.2 L902.6,1214.6 L908.6,1214.1 L914.5,1212.6 L920.5,1212.6 L926.4,1212.6 L932.4,1212.6 L938.3,1212.6 L944.3,1212.6 L950.3,1210.2 L956.2,1210.2 L962.2,1210.2 L968.1,1210.2 L974.1,1210.2 L980.0,1210.2 L986.0,1209.3 L991.9,1209.3 L997.9,1209.3 L1003.9,1208.8 L1009.8,1208.8 L1015.8,1208.8 L1021.7,1207.9 L1027.7,1207.9 L1033.6,1207.9 L1039.6,1207.9 L1045.5,1200.8 L1051.5,1199.4 L1057.5,1199.4 L1063.4,1196.0 L1069.4,1196.0 L1075.3,1196.0 L1081.3,1193.2 L1087.2,1191.7 L1093.2,1191.7 L1099.2,1191.2 L1105.1,1185.2 L1111.1,1185.2 L1117.0,1185.2 L1123.0,1185.2 L1128.9,1185.2 L1134.9,1185.1 L1140.8,1183.7 L1146.8,1183.7 L1152.8,1183.7 L1158.7,1183.7 L1164.7,1183.7 L1170.6,1183.7 L1176.6,1183.7 L1182.5,1182.2 L1188.5,1178.8 L1194.4,1178.8 L1200.4,1171.4 L1206.4,1171.4 L1212.3,1171.4 L1218.3,1171.4 L1224.2,1171.4 L1230.2,1171.4 L1236.1,1171.1 L1242.1,1171.1 L1248.1,1170.7 L1254.0,1170.7 L1260.0,1170.7 L1265.9,1170.7 L1271.9,1170.4 L1277.8,1170.4 L1283.8,1167.8 L1289.7,1167.8 L1295.7,1167.8 L1301.7,1167.8 L1307.6,1167.8 L1313.6,1167.8 L1319.5,1167.8 L1325.5,1160.1 L1331.4,1155.1 L1337.4,1153.5 L1343.3,1153.5 L1349.3,1153.5 L1355.3,1153.5 L1361.2,1153.5 L1367.2,1153.5 L1373.1,1153.5 L1379.1,1153.5 L1385.0,1151.7 L1391.0,1151.7 L1397.0,1151.5 L1402.9,1148.9 L1408.9,1148.9 L1414.8,1148.9 L1420.8,1148.9 L1426.7,1148.9 L1432.7,1146.4 L1438.6,1146.4 L1444.6,1146.4 L1450.6,1142.9 L1456.5,1141.6 L1462.5,1141.6 L1468.4,1141.6 L1474.4,1139.0 L1480.3,1139.0 L1486.3,1139.0 L1492.2,1137.2 L1498.2,1137.2 L1504.2,1137.2 L1510.1,1136.4 L1516.1,1134.6 L1522.0,1131.5 L1528.0,1131.2 L1533.9,1131.2 L1539.9,1131.2 L1545.9,1131.2 L1551.8,1130.7 L1557.8,1124.2 L1563.7,1120.4 L1569.7,1120.4 L1575.6,1120.4 L1581.6,1118.3 L1587.5,1118.3 L1593.5,1118.3 L1599.5,1114.9 L1605.4,1114.9 L1611.4,1114.9 L1617.3,1114.1 L1623.3,1114.1 L1629.2,1114.1 L1635.2,1113.0 L1641.1,1113.0 L1647.1,1110.0 L1653.1,1110.0 L1659.0,1106.8 L1665.0,1106.8 L1670.9,1106.8 L1676.9,1106.8 L1682.8,1106.8 L1688.8,1106.8 L1694.8,1106.8 L1700.7,1106.4 L1706.7,1106.4 L1712.6,1106.4 L1718.6,1098.2 L1724.5,1098.2 L1730.5,1098.2 L1736.4,1098.2 L1742.4,1097.8 L1748.4,1097.8 L1754.3,1097.8 L1760.3,1097.8 L1766.2,1097.2 L1772.2,1097.2 L1778.1,1097.2 L1784.1,1091.1 L1790.0,1091.1 L1796.0,1090.7 L1802.0,1090.7 L1807.9,1089.8 L1813.9,1089.8 L1819.8,1088.5 L1825.8,1088.2 L1831.7,1088.2 L1837.7,1085.0 L1843.7,1081.5 L1849.6,1080.9 L1855.6,1080.3 L1861.5,1080.3 L1867.5,1077.8 L1873.4,1077.8 L1879.4,1077.8 L1885.3,1077.0 L1891.3,1076.6 L1897.3,1075.8 L1903.2,1075.8 L1909.2,1075.8 L1915.1,1074.5 L1921.1,1074.0 L1927.0,1073.6 L1933.0,1073.6 L1938.9,1067.3 L1944.9,1058.9 L1950.9,1058.9 L1956.8,1058.9 L1962.8,1047.5 L1968.7,1047.5 L1974.7,1047.5 L1980.6,1047.5 L1986.6,1047.5 L1992.6,1041.4 L1998.5,1032.1 L2004.5,1032.1 L2010.4,1032.0 L2016.4,1029.7 L2022.3,1025.9 L2028.3,1023.2 L2034.2,1023.2 L2040.2,1023.2 L2046.2,1023.2 L2052.1,1023.2 L2058.1,1023.2 L2064.0,1023.2 L2070.0,1023.2 L2075.9,1023.2 L2081.9,1023.2 L2087.8,1023.2 L2093.8,1023.2 L2099.8,1023.2 L2105.7,1012.5 L2111.7,1012.5 L2117.6,1012.5 L2123.6,1012.5 L2129.5,1012.5 L2135.5,1012.5 L2141.5,1011.7 L2147.4,994.5 L2153.4,994.5 L2159.3,993.5 L2165.3,992.1 L2171.2,978.7 L2177.2,976.9 L2183.1,976.9 L2189.1,959.3 L2195.1,959.3 L2201.0,959.3 L2207.0,959.3 L2212.9,959.3 L2218.9,953.9 L2224.8,950.5 L2230.8,950.5 L2236.7,939.5 L2242.7,939.5 L2248.7,937.9 L2254.6,937.9 L2260.6,937.9 L2266.5,935.9 L2272.5,931.7 L2278.4,913.9 L2284.4,913.9 L2290.4,911.0 L2296.3,911.0 L2302.3,907.6 L2308.2,900.2 L2314.2,900.2 L2320.1,900.2 L2326.1,900.2 L2332.0,894.6 L2338.0,894.6 L2344.0,889.3 L2349.9,889.3 L2355.9,885.2 L2361.8,885.2 L2367.8,885.2 L2373.7,883.4 L2379.7,883.4 L2385.6,883.4 L2391.6,879.0 L2397.6,872.2 L2403.5,872.2 L2409.5,866.9 L2415.4,866.9 L2421.4,866.9 L2427.3,865.0"/>
<path d="M253.4,1377.1 L259.4,1377.1 L265.3,1377.1 L271.3,1372.9 L277.2,1351.8 L283.2,1351.8 L289.1,1351.8 L295.1,1351.8 L301.0,1349.8 L307.0,1349.8 L313.0,1349.4 L318.9,1349.4 L324.9,1349.4 L330.8,1349.4 L336.8,1345.3 L342.7,1345.3 L348.7,1345.3 L354.7,1345.3 L360.6,1341.8 L366.6,1341.8 L372.5,1341.8 L378.5,1341.2 L384.4,1341.2 L390.4,1341.2 L396.3,1341.2 L402.3,1340.9 L408.3,1340.9 L414.2,1338.4 L420.2,1332.6 L426.1,1332.6 L432.1,1332.6 L438.0,1329.9 L444.0,1327.4 L449.9,1324.8 L455.9,1324.8 L461.9,1324.8 L467.8,1320.4 L473.8,1320.4 L479.7,1311.6 L485.7,1311.6 L491.6,1307.7 L497.6,1305.1 L503.6,1305.1 L509.5,1305.1 L515.5,1305.1 L521.4,1305.1 L527.4,1298.8 L533.3,1297.9 L539.3,1297.9 L545.2,1297.9 L551.2,1289.0 L557.2,1289.0 L563.1,1289.0 L569.1,1289.0 L575.0,1285.0 L581.0,1285.0 L586.9,1281.1 L592.9,1281.1 L598.8,1281.1 L604.8,1275.3 L610.8,1275.3 L616.7,1269.7 L622.7,1262.0 L628.6,1253.3 L634.6,1252.3 L640.5,1251.6 L646.5,1251.6 L652.5,1251.6 L658.4,1250.2 L664.4,1250.2 L670.3,1250.2 L676.3,1248.4 L682.2,1248.4 L688.2,1247.2 L694.1,1246.6 L700.1,1241.9 L706.1,1233.2 L712.0,1233.2 L718.0,1233.2 L723.9,1228.1 L729.9,1220.9 L735.8,1216.8 L741.8,1216.8 L747.7,1216.8 L753.7,1216.8 L759.7,1216.2 L765.6,1205.0 L771.6,1203.8 L777.5,1201.8 L783.5,1201.8 L789.4,1201.4 L795.4,1199.9 L801.4,1199.9 L807.3,1199.9 L813.3,1199.9 L819.2,1199.9 L825.2,1198.1 L831.1,1187.4 L837.1,1187.4 L843.0,1186.6 L849.0,1186.6 L855.0,1186.6 L860.9,1186.6 L866.9,1186.6 L872.8,1181.1 L878.8,1180.6 L884.7,1180.6 L890.7,1180.6 L896.6,1179.0 L902.6,1179.0 L908.6,1177.1 L914.5,1177.1 L920.5,1168.0 L926.4,1168.0 L932.4,1168.0 L938.3,1167.3 L944.3,1166.7 L950.3,1166.7 L956.2,1166.7 L962.2,1166.7 L968.1,1166.7 L974.1,1166.7 L980.0,1166.7 L986.0,1165.9 L991.9,1165.9 L997.9,1165.9 L1003.9,1165.9 L1009.8,1165.9 L1015.8,1165.9 L1021.7,1165.9 L1027.7,1165.9 L1033.6,1165.9 L1039.6,1163.1 L1045.5,1163.1 L1051.5,1163.1 L1057.5,1156.0 L1063.4,1156.0 L1069.4,1156.0 L1075.3,1156.0 L1081.3,1156.0 L1087.2,1156.0 L1093.2,1156.0 L1099.2,1156.0 L1105.1,1156.0 L1111.1,1156.0 L1117.0,1156.0 L1123.0,1156.0 L1128.9,1156.0 L1134.9,1151.3 L1140.8,1149.7 L1146.8,1149.7 L1152.8,1147.0 L1158.7,1147.0 L1164.7,1147.0 L1170.6,1145.3 L1176.6,1145.3 L1182.5,1143.9 L1188.5,1142.2 L1194.4,1142.2 L1200.4,1142.2 L1206.4,1142.2 L1212.3,1142.2 L1218.3,1141.7 L1224.2,1141.6 L1230.2,1136.5 L1236.1,1136.5 L1242.1,1136.5 L1248.1,1136.5 L1254.0,1136.5 L1260.0,1136.5 L1265.9,1135.8 L1271.9,1135.8 L1277.8,1135.8 L1283.8,1133.0 L1289.7,1133.0 L1295.7,1131.2 L1301.7,1128.3 L1307.6,1128.3 L1313.6,1128.3 L1319.5,1123.5 L1325.5,1123.5 L1331.4,1123.5 L1337.4,1120.9 L1343.3,1119.2 L1349.3,1117.9 L1355.3,1117.8 L1361.2,1117.2 L1367.2,1116.4 L1373.1,1116.3 L1379.1,1116.3 L1385.0,1111.7 L1391.0,1111.4 L1397.0,1110.0 L1402.9,1108.4 L1408.9,1107.6 L1414.8,1107.6 L1420.8,1107.6 L1426.7,1106.5 L1432.7,1106.5 L1438.6,1106.3 L1444.6,1102.1 L1450.6,1099.1 L1456.5,1099.1 L1462.5,1099.1 L1468.4,1097.3 L1474.4,1095.5 L1480.3,1095.5 L1486.3,1095.5 L1492.2,1095.5 L1498.2,1095.5 L1504.2,1095.5 L1510.1,1095.5 L1516.1,1092.4 L1522.0,1091.7 L1528.0,1089.9 L1533.9,1088.6 L1539.9,1088.6 L1545.9,1088.6 L1551.8,1087.0 L1557.8,1087.0 L1563.7,1087.0 L1569.7,1084.5 L1575.6,1081.4 L1581.6,1078.0 L1587.5,1075.1 L1593.5,1073.3 L1599.5,1073.3 L1605.4,1072.8 L1611.4,1072.8 L1617.3,1072.8 L1623.3,1072.8 L1629.2,1072.8 L1635.2,1072.8 L1641.1,1072.8 L1647.1,1072.3 L1653.1,1067.0 L1659.0,1065.7 L1665.0,1057.6 L1670.9,1056.7 L1676.9,1056.7 L1682.8,1056.7 L1688.8,1053.7 L1694.8,1053.7 L1700.7,1053.7 L1706.7,1053.7 L1712.6,1053.7 L1718.6,1053.7 L1724.5,1053.7 L1730.5,1053.6 L1736.4,1053.6 L1742.4,1050.1 L1748.4,1050.1 L1754.3,1050.1 L1760.3,1050.1 L1766.2,1050.1 L1772.2,1050.1 L1778.1,1045.5 L1784.1,1045.5 L1790.0,1038.2 L1796.0,1038.2 L1802.0,1038.2 L1807.9,1031.8 L1813.9,1031.8 L1819.8,1031.8 L1825.8,1031.8 L1831.7,1031.8 L1837.7,1031.8 L1843.7,1031.8 L1849.6,1026.0 L1855.6,1026.0 L1861.5,1025.9 L1867.5,1025.9 L1873.4,1023.8 L1879.4,1022.8 L1885.3,1022.8 L1891.3,1022.8 L1897.3,1022.8 L1903.2,1019.5 L1909.2,1019.5 L1915.1,1019.5 L1921.1,1018.2 L1927.0,1012.5 L1933.0,1012.5 L1938.9,1012.5 L1944.9,1012.5 L1950.9,1012.5 L1956.8,1007.7 L1962.8,1007.7 L1968.7,1007.7 L1974.7,1006.3 L1980.6,1006.3 L1986.6,1004.2 L1992.6,996.4 L1998.5,996.4 L2004.5,996.4 L2010.4,996.4 L2016.4,996.4 L2022.3,996.4 L2028.3,990.3 L2034.2,990.3 L2040.2,989.2 L2046.2,989.1 L2052.1,989.1 L2058.1,983.0 L2064.0,983.0 L2070.0,981.8 L2075.9,980.7 L2081.9,979.6 L2087.8,977.5 L2093.8,977.5 L2099.8,977.5 L2105.7,977.0 L2111.7,977.0 L2117.6,974.3 L2123.6,966.3 L2129.5,966.3 L2135.5,966.3 L2141.5,964.6 L2147.4,964.6 L2153.4,964.6 L2159.3,962.8 L2165.3,961.0 L2171.2,961.0 L2177.2,958.8 L2183.1,954.4 L2189.1,952.7 L2195.1,952.7 L2201.0,952.4 L2207.0,952.4 L2212.9,952.4 L2218.9,950.9 L2224.8,950.9 L2230.8,950.9 L2236.7,950.5 L2242.7,947.8 L2248.7,947.8 L2254.6,947.8 L2260.6,947.8 L2266.5,947.6 L2272.5,946.2 L2278.4,946.0 L2284.4,946.0 L2290.4,946.0 L2296.3,945.7 L2302.3,945.7 L2308.2,944.6 L2314.2,943.9 L2320.1,942.1 L2326.1,942.1 L2332.0,940.0 L2338.0,935.4 L2344.0,935.4 L2349.9,935.4 L2355.9,935.4 L2361.8,931.6 L2367.8,927.1 L2373.7,920.4 L2379.7,916.4 L2385.6,916.4 L2391.6,914.3 L2397.6,913.8 L2403.5,913.8 L2409.5,913.8 L2415.4,913.8 L2421.4,911.0 L2427.3,908.8"/>
<path d="M253.4,1379.9 L259.4,1379.9 L265.3,1379.9 L271.3,1379.9 L277.2,1378.8 L283.2,1376.9 L289.1,1376.9 L295.1,1376.9 L301.0,1376.9 L307.0,1376.9 L313.0,1376.9 L318.9,1375.5 L324.9,1370.9 L330.8,1370.9 L336.8,1364.0 L342.7,1364.0 L348.7,1360.9 L354.7,1360.9 L360.6,1360.9 L366.6,1360.9 L372.5,1360.4 L378.5,1360.4 L384.4,1358.4 L390.4,1358.4 L396.3,1358.1 L402.3,1356.7 L408.3,1356.7 L414.2,1356.7 L420.2,1356.7 L426.1,1356.7 L432.1,1356.7 L438.0,1355.5 L444.0,1355.5 L449.9,1352.9 L455.9,1352.9 L461.9,1350.7 L467.8,1350.7 L473.8,1350.7 L479.7,1344.6 L485.7,1338.4 L491.6,1338.4 L497.6,1338.4 L503.6,1336.0 L509.5,1336.0 L515.5,1335.5 L521.4,1335.5 L527.4,1335.5 L533.3,1333.4 L539.3,1333.4 L545.2,1328.5 L551.2,1324.5 L557.2,1323.8 L563.1,1323.8 L569.1,1323.4 L575.0,1321.5 L581.0,1320.8 L586.9,1320.8 L592.9,1315.5 L598.8,1315.4 L604.8,1314.8 L610.8,1314.8 L616.7,1314.8 L622.7,1314.6 L628.6,1314.6 L634.6,1313.8 L640.5,1308.5 L646.5,1305.0 L652.5,1301.5 L658.4,1290.6 L664.4,1290.6 L670.3,1290.6 L676.3,1290.6 L682.2,1284.7 L688.2,1284.7 L694.1,1284.7 L700.1,1282.6 L706.1,1282.6 L712.0,1281.1 L718.0,1280.4 L723.9,1280.4 L729.9,1275.8 L735.8,1267.0 L741.8,1267.0 L747.7,1267.0 L753.7,1263.8 L759.7,1263.8 L765.6,1263.5 L771.6,1258.5 L777.5,1258.5 L783.5,1257.2 L789.4,1257.2 L795.4,1256.9 L801.4,1256.9 L807.3,1256.9 L813.3,1252.8 L819.2,1252.8 L825.2,1252.8 L831.1,1248.3 L837.1,1248.3 L843.0,1248.3 L849.0,1248.3 L855.0,1243.1 L860.9,1243.1 L866.9,1243.1 L872.8,1243.1 L878.8,1243.1 L884.7,1243.1 L890.7,1243.1 L896.6,1241.9 L902.6,1241.3 L908.6,1241.3 L914.5,1241.3 L920.5,1241.3 L926.4,1241.3 L932.4,1241.3 L938.3,1237.2 L944.3,1236.6 L950.3,1236.6 L956.2,1236.6 L962.2,1236.6 L968.1,1236.6 L974.1,1236.6 L980.0,1235.4 L986.0,1235.4 L991.9,1235.2 L997.9,1235.2 L1003.9,1235.2 L1009.8,1232.3 L1015.8,1232.0 L1021.7,1229.3 L1027.7,1229.3 L1033.6,1229.3 L1039.6,1218.9 L1045.5,1218.3 L1051.5,1218.3 L1057.5,1218.3 L1063.4,1218.3 L1069.4,1215.7 L1075.3,1215.7 L1081.3,1215.7 L1087.2,1215.7 L1093.2,1215.7 L1099.2,1215.7 L1105.1,1212.9 L1111.1,1212.7 L1117.0,1212.7 L1123.0,1208.9 L1128.9,1207.7 L1134.9,1206.5 L1140.8,1206.5 L1146.8,1205.1 L1152.8,1205.1 L1158.7,1204.8 L1164.7,1204.6 L1170.6,1200.8 L1176.6,1200.8 L1182.5,1198.6 L1188.5,1198.6 L1194.4,1196.0 L1200.4,1194.7 L1206.4,1194.7 L1212.3,1194.7 L1218.3,1194.5 L1224.2,1194.5 L1230.2,1193.4 L1236.1,1193.4 L1242.1,1191.8 L1248.1,1191.8 L1254.0,1190.8 L1260.0,1188.2 L1265.9,1188.1 L1271.9,1188.1 L1277.8,1187.0 L1283.8,1183.8 L1289.7,1183.8 L1295.7,1182.2 L1301.7,1176.7 L1307.6,1176.7 L1313.6,1175.4 L1319.5,1172.0 L1325.5,1172.0 L1331.4,1172.0 L1337.4,1172.0 L1343.3,1172.0 L1349.3,1172.0 L1355.3,1172.0 L1361.2,1172.0 L1367.2,1172.0 L1373.1,1172.0 L1379.1,1165.5 L1385.0,1163.6 L1391.0,1163.6 L1397.0,1162.6 L1402.9,1162.6 L1408.9,1161.6 L1414.8,1161.6 L1420.8,1161.6 L1426.7,1161.6 L1432.7,1161.6 L1438.6,1159.6 L1444.6,1159.6 L1450.6,1159.6 L1456.5,1159.1 L1462.5,1159.1 L1468.4,1156.3 L1474.4,1154.9 L1480.3,1152.3 L1486.3,1152.3 L1492.2,1152.3 L1498.2,1150.3 L1504.2,1150.3 L1510.1,1150.2 L1516.1,1150.2 L1522.0,1150.2 L1528.0,1148.1 L1533.9,1148.1 L1539.9,1148.1 L1545.9,1147.3 L1551.8,1147.3 L1557.8,1144.7 L1563.7,1144.7 L1569.7,1143.6 L1575.6,1143.6 L1581.6,1143.6 L1587.5,1143.6 L1593.5,1143.6 L1599.5,1142.6 L1605.4,1140.2 L1611.4,1137.1 L1617.3,1137.1 L1623.3,1137.1 L1629.2,1137.1 L1635.2,1137.1 L1641.1,1137.1 L1647.1,1137.1 L1653.1,1137.1 L1659.0,1137.1 L1665.0,1136.7 L1670.9,1136.7 L1676.9,1135.6 L1682.8,1135.6 L1688.8,1133.3 L1694.8,1133.3 L1700.7,1133.3 L1706.7,1131.7 L1712.6,1131.7 L1718.6,1131.7 L1724.5,1131.3 L1730.5,1128.6 L1736.4,1128.6 L1742.4,1127.0 L1748.4,1124.8 L1754.3,1123.7 L1760.3,1123.7 L1766.2,1123.7 L1772.2,1123.3 L1778.1,1123.3 L1784.1,1120.5 L1790.0,1120.5 L1796.0,1120.5 L1802.0,1120.5 L1807.9,1115.1 L1813.9,1114.9 L1819.8,1112.9 L1825.8,1112.9 L1831.7,1112.9 L1837.7,1112.9 L1843.7,1111.5 L1849.6,1111.5 L1855.6,1111.5 L1861.5,1111.5 L1867.5,1111.5 L1873.4,1107.3 L1879.4,1107.3 L1885.3,1102.7 L1891.3,1099.5 L1897.3,1099.5 L1903.2,1099.4 L1909.2,1097.8 L1915.1,1097.8 L1921.1,1097.8 L1927.0,1096.2 L1933.0,1096.1 L1938.9,1095.9 L1944.9,1095.8 L1950.9,1095.8 L1956.8,1093.5 L1962.8,1092.3 L1968.7,1087.6 L1974.7,1082.3 L1980.6,1082.3 L1986.6,1082.3 L1992.6,1075.2 L1998.5,1075.2 L2004.5,1075.2 L2010.4,1075.2 L2016.4,1070.2 L2022.3,1070.2 L2028.3,1070.2 L2034.2,1068.9 L2040.2,1068.9 L2046.2,1063.4 L2052.1,1063.4 L2058.1,1062.5 L2064.0,1062.5 L2070.0,1062.5 L2075.9,1062.5 L2081.9,1058.0 L2087.8,1058.0 L2093.8,1057.3 L2099.8,1057.3 L2105.7,1056.9 L2111.7,1056.0 L2117.6,1055.4 L2123.6,1046.2 L2129.5,1043.8 L2135.5,1043.8 L2141.5,1043.8 L2147.4,1043.8 L2153.4,1043.8 L2159.3,1043.8 L2165.3,1043.8 L2171.2,1043.8 L2177.2,1041.5 L2183.1,1035.0 L2189.1,1014.6 L2195.1,1013.6 L2201.0,1013.6 L2207.0,1013.6 L2212.9,1013.3 L2218.9,1013.3 L2224.8,1011.2 L2230.8,1011.2 L2236.7,1011.2 L2242.7,1011.2 L2248.7,1003.4 L2254.6,1003.4 L2260.6,1003.4 L2266.5,999.9 L2272.5,999.3 L2278.4,995.2 L2284.4,995.2 L2290.4,995.2 L2296.3,995.2 L2302.3,995.2 L2308.2,995.2 L2314.2,995.2 L2320.1,989.4 L2326.1,989.4 L2332.0,989.4 L2338.0,989.4 L2344.0,989.3 L2349.9,983.0 L2355.9,980.4 L2361.8,974.4 L2367.8,974.4 L2373.7,971.5 L2379.7,963.4 L2385.6,956.5 L2391.6,956.5 L2397.6,944.8 L2403.5,941.6 L2409.5,941.1 L2415.4,941.1 L2421.4,941.1 L2427.3,941.1"/>
<path d="M253.4,1376.8 L259.4,1376.0 L265.3,1368.7 L271.3,1368.7 L277.2,1367.9 L283.2,1367.9 L289.1,1367.9 L295.1,1367.9 L301.0,1367.9 L307.0,1363.0 L313.0,1362.0 L318.9,1360.6 L324.9,1359.9 L330.8,1359.9 L336.8,1359.9 L342.7,1359.9 L348.7,1359.9 L354.7,1346.5 L360.6,1346.5 L366.6,1346.4 L372.5,1346.2 L378.5,1346.2 L384.4,1342.2 L390.4,1342.2 L396.3,1339.9 L402.3,1339.9 L408.3,1339.9 L414.2,1339.9 L420.2,1339.9 L426.1,1339.9 L432.1,1339.9 L438.0,1339.1 L444.0,1338.6 L449.9,1334.2 L455.9,1333.8 L461.9,1330.9 L467.8,1330.9 L473.8,1330.9 L479.7,1330.9 L485.7,1322.7 L491.6,1318.5 L497.6,1318.5 L503.6,1314.8 L509.5,1307.3 L515.5,1300.1 L521.4,1300.0 L527.4,1289.9 L533.3,1289.9 L539.3,1286.6 L545.2,1281.4 L551.2,1280.6 L557.2,1280.6 L563.1,1279.4 L569.1,1276.4 L575.0,1276.4 L581.0,1276.4 L586.9,1262.9 L592.9,1262.9 L598.8,1261.5 L604.8,1256.0 L610.8,1256.0 L616.7,1256.0 L622.7,1240.7 L628.6,1240.7 L634.6,1240.7 L640.5,1239.3 L646.5,1239.3 L652.5,1231.8 L658.4,1231.8 L664.4,1230.6 L670.3,1226.2 L676.3,1226.2 L682.2,1226.2 L688.2,1226.1 L694.1,1226.1 L700.1,1223.5 L706.1,1223.5 L712.0,1220.3 L718.0,1220.3 L723.9,1220.3 L729.9,1214.7 L735.8,1214.7 L741.8,1214.0 L747.7,1211.4 L753.7,1211.4 L759.7,1211.4 L765.6,1211.4 L771.6,1174.8 L777.5,1174.8 L783.5,1170.8 L789.4,1170.8 L795.4,1164.2 L801.4,1164.2 L807.3,1164.2 L813.3,1164.2 L819.2,1164.2 L825.2,1164.2 L831.1,1164.2 L837.1,1164.2 L843.0,1164.2 L849.0,1164.2 L855.0,1164.2 L860.9,1164.2 L866.9,1151.6 L872.8,1148.9 L878.8,1148.9 L884.7,1148.9 L890.7,1148.4 L896.6,1148.3 L902.6,1148.0 L908.6,1148.0 L914.5,1148.0 L920.5,1148.0 L926.4,1148.0 L932.4,1147.8 L938.3,1147.8 L944.3,1146.8 L950.3,1146.8 L956.2,1146.4 L962.2,1146.4 L968.1,1143.8 L974.1,1143.8 L980.0,1143.8 L986.0,1143.8 L991.9,1141.4 L997.9,1141.4 L1003.9,1138.6 L1009.8,1138.6 L1015.8,1136.6 L1021.7,1135.2 L1027.7,1134.3 L1033.6,1132.3 L1039.6,1132.3 L1045.5,1131.9 L1051.5,1131.9 L1057.5,1130.4 L1063.4,1130.4 L1069.4,1130.4 L1075.3,1130.3 L1081.3,1130.3 L1087.2,1130.3 L1093.2,1130.3 L1099.2,1130.3 L1105.1,1130.3 L1111.1,1125.0 L1117.0,1124.8 L1123.0,1124.7 L1128.9,1124.7 L1134.9,1124.7 L1140.8,1123.2 L1146.8,1123.2 L1152.8,1123.2 L1158.7,1123.2 L1164.7,1123.2 L1170.6,1123.2 L1176.6,1121.5 L1182.5,1121.5 L1188.5,1120.5 L1194.4,1120.5 L1200.4,1120.4 L1206.4,1119.3 L1212.3,1119.3 L1218.3,1119.3 L1224.2,1119.3 L1230.2,1119.3 L1236.1,1119.3 L1242.1,1119.3 L1248.1,1119.3 L1254.0,1116.8 L1260.0,1116.8 L1265.9,1114.9 L1271.9,1109.4 L1277.8,1108.2 L1283.8,1104.1 L1289.7,1104.1 L1295.7,1102.6 L1301.7,1100.4 L1307.6,1100.4 L1313.6,1100.4 L1319.5,1099.2 L1325.5,1099.2 L1331.4,1097.4 L1337.4,1097.2 L1343.3,1091.3 L1349.3,1090.1 L1355.3,1090.1 L1361.2,1090.1 L1367.2,1090.1 L1373.1,1090.1 L1379.1,1086.8 L1385.0,1086.8 L1391.0,1086.8 L1397.0,1082.1 L1402.9,1069.1 L1408.9,1069.1 L1414.8,1069.1 L1420.8,1069.1 L1426.7,1069.1 L1432.7,1069.1 L1438.6,1068.4 L1444.6,1068.4 L1450.6,1068.4 L1456.5,1064.9 L1462.5,1064.9 L1468.4,1064.5 L1474.4,1061.3 L1480.3,1058.0 L1486.3,1058.0 L1492.2,1058.0 L1498.2,1055.1 L1504.2,1054.9 L1510.1,1054.9 L1516.1,1052.5 L1522.0,1052.5 L1528.0,1052.5 L1533.9,1048.5 L1539.9,1048.5 L1545.9,1048.5 L1551.8,1048.5 L1557.8,1048.4 L1563.7,1048.4 L1569.7,1048.4 L1575.6,1046.3 L1581.6,1045.3 L1587.5,1045.1 L1593.5,1045.1 L1599.5,1045.1 L1605.4,1045.1 L1611.4,1045.1 L1617.3,1045.1 L1623.3,1045.1 L1629.2,1044.9 L1635.2,1044.9 L1641.1,1044.9 L1647.1,1044.9 L1653.1,1044.5 L1659.0,1044.5 L1665.0,1044.4 L1670.9,1044.4 L1676.9,1044.4 L1682.8,1044.4 L1688.8,1044.3 L1694.8,1044.1 L1700.7,1044.1 L1706.7,1044.1 L1712.6,1044.0 L1718.6,1044.0 L1724.5,1043.9 L1730.5,1043.9 L1736.4,1043.9 L1742.4,1043.8 L1748.4,1043.8 L1754.3,1043.4 L1760.3,1043.4 L1766.2,1043.4 L1772.2,1042.8 L1778.1,1042.8 L1784.1,1042.4 L1790.0,1042.4 L1796.0,1041.6 L1802.0,1041.1 L1807.9,1041.1 L1813.9,1041.1 L1819.8,1041.1 L1825.8,1041.1 L1831.7,1041.1 L1837.7,1041.1 L1843.7,1041.1 L1849.6,1041.1 L1855.6,1041.1 L1861.5,1041.1 L1867.5,1041.1 L1873.4,1041.1 L1879.4,1041.1 L1885.3,1039.7 L1891.3,1039.7 L1897.3,1039.7 L1903.2,1039.7 L1909.2,1038.6 L1915.1,1038.6 L1921.1,1036.9 L1927.0,1036.9 L1933.0,1036.9 L1938.9,1035.6 L1944.9,1035.6 L1950.9,1033.0 L1956.8,1032.7 L1962.8,1032.7 L1968.7,1030.2 L1974.7,1029.5 L1980.6,1029.5 L1986.6,1029.5 L1992.6,1029.5 L1998.5,1026.7 L2004.5,1019.6 L2010.4,1018.1 L2016.4,1012.8 L2022.3,1012.8 L2028.3,1011.2 L2034.2,1011.2 L2040.2,1005.5 L2046.2,1000.5 L2052.1,996.2 L2058.1,996.2 L2064.0,995.7 L2070.0,995.7 L2075.9,993.9 L2081.9,991.6 L2087.8,989.2 L2093.8,987.4 L2099.8,987.4 L2105.7,986.5 L2111.7,986.5 L2117.6,986.5 L2123.6,986.5 L2129.5,985.5 L2135.5,981.0 L2141.5,981.0 L2147.4,980.6 L2153.4,979.8 L2159.3,977.7 L2165.3,977.7 L2171.2,976.4 L2177.2,976.4 L2183.1,976.4 L2189.1,976.4 L2195.1,976.4 L2201.0,975.5 L2207.0,972.1 L2212.9,972.1 L2218.9,972.1 L2224.8,971.7 L2230.8,971.7 L2236.7,970.3 L2242.7,968.3 L2248.7,965.7 L2254.6,965.7 L2260.6,965.7 L2266.5,963.9 L2272.5,961.6 L2278.4,961.6 L2284.4,961.6 L2290.4,961.6 L2296.3,961.6 L2302.3,961.6 L2308.2,961.6 L2314.2,961.6 L2320.1,961.6 L2326.1,961.6 L2332.0,961.3 L2338.0,961.3 L2344.0,958.1 L2349.9,958.1 L2355.9,954.7 L2361.8,954.7 L2367.8,954.1 L2373.7,954.1 L2379.7,954.1 L2385.6,954.1 L2391.6,954.1 L2397.6,951.0 L2403.5,951.0 L2409.5,951.0 L2415.4,950.6 L2421.4,950.6 L2427.3,948.9"/>
<path d="M253.4,1377.6 L259.4,1377.6 L265.3,1377.6 L271.3,1377.6 L277.2,1377.6 L283.2,1377.6 L289.1,1369.9 L295.1,1369.2 L301.0,1369.2 L307.0,1360.1 L313.0,1360.1 L318.9,1358.5 L324.9,1358.5 L330.8,1358.5 L336.8,1358.5 L342.7,1358.5 L348.7,1354.6 L354.7,1351.5 L360.6,1347.8 L366.6,1347.8 L372.5,1347.0 L378.5,1347.0 L384.4,1345.4 L390.4,1344.1 L396.3,1344.1 L402.3,1344.1 L408.3,1344.1 L414.2,1341.3 L420.2,1341.3 L426.1,1341.3 L432.1,1340.1 L438.0,1340.1 L444.0,1328.3 L449.9,1328.3 L455.9,1324.7 L461.9,1324.7 L467.8,1324.7 L473.8,1324.7 L479.7,1324.7 L485.7,1324.7 L491.6,1324.7 L497.6,1324.7 L503.6,1324.7 L509.5,1324.7 L515.5,1300.7 L521.4,1300.7 L527.4,1300.7 L533.3,1300.7 L539.3,1300.7 L545.2,1300.7 L551.2,1289.8 L557.2,1279.5 L563.1,1279.5 L569.1,1279.5 L575.0,1279.5 L581.0,1275.3 L586.9,1275.3 L592.9,1275.3 L598.8,1275.3 L604.8,1269.6 L610.8,1269.6 L616.7,1269.6 L622.7,1264.7 L628.6,1264.7 L634.6,1263.3 L640.5,1260.0 L646.5,1253.5 L652.5,1253.5 L658.4,1248.1 L664.4,1248.1 L670.3,1242.1 L676.3,1242.1 L682.2,1242.1 L688.2,1242.1 L694.1,1242.1 L700.1,1242.1 L706.1,1232.4 L712.0,1232.4 L718.0,1232.4 L723.9,1232.4 L729.9,1229.0 L735.8,1221.2 L741.8,1221.2 L747.7,1221.2 L753.7,1221.2 L759.7,1214.4 L765.6,1214.4 L771.6,1214.4 L777.5,1212.0 L783.5,1209.3 L789.4,1209.3 L795.4,1207.6 L801.4,1207.6 L807.3,1207.6 L813.3,1207.6 L819.2,1206.7 L825.2,1189.1 L831.1,1188.5 L837.1,1188.5 L843.0,1188.3 L849.0,1181.9 L855.0,1181.0 L860.9,1179.8 L866.9,1179.8 L872.8,1179.8 L878.8,1179.8 L884.7,1179.8 L890.7,1179.6 L896.6,1179.6 L902.6,1179.6 L908.6,1176.2 L914.5,1175.0 L920.5,1175.0 L926.4,1175.0 L932.4,1174.5 L938.3,1174.5 L944.3,1174.5 L950.3,1170.6 L956.2,1170.6 L962.2,1170.6 L968.1,1168.9 L974.1,1168.9 L980.0,1168.9 L986.0,1168.9 L991.9,1168.2 L997.9,1166.5 L1003.9,1166.5 L1009.8,1166.5 L1015.8,1166.5 L1021.7,1166.4 L1027.7,1162.7 L1033.6,1159.7 L1039.6,1159.7 L1045.5,1159.7 L1051.5,1159.7 L1057.5,1156.0 L1063.4,1156.0 L1069.4,1156.0 L1075.3,1156.0 L1081.3,1156.0 L1087.2,1156.0 L1093.2,1154.7 L1099.2,1152.5 L1105.1,1151.4 L1111.1,1151.4 L1117.0,1151.4 L1123.0,1149.8 L1128.9,1148.3 L1134.9,1146.3 L1140.8,1140.8 L1146.8,1140.8 L1152.8,1139.4 L1158.7,1138.7 L1164.7,1138.7 L1170.6,1138.0 L1176.6,1137.6 L1182.5,1137.0 L1188.5,1137.0 L1194.4,1136.6 L1200.4,1133.8 L1206.4,1133.8 L1212.3,1129.4 L1218.3,1129.4 L1224.2,1129.4 L1230.2,1128.2 L1236.1,1128.2 L1242.1,1128.2 L1248.1,1126.3 L1254.0,1124.8 L1260.0,1124.8 L1265.9,1124.7 L1271.9,1124.7 L1277.8,1124.7 L1283.8,1124.6 L1289.7,1124.6 L1295.7,1124.6 L1301.7,1124.6 L1307.6,1120.8 L1313.6,1119.5 L1319.5,1116.1 L1325.5,1115.6 L1331.4,1115.5 L1337.4,1111.9 L1343.3,1111.9 L1349.3,1111.9 L1355.3,1111.9 L1361.2,1111.9 L1367.2,1111.9 L1373.1,1111.9 L1379.1,1111.9 L1385.0,1111.9 L1391.0,1109.7 L1397.0,1109.7 L1402.9,1109.7 L1408.9,1109.7 L1414.8,1109.7 L1420.8,1109.7 L1426.7,1109.2 L1432.7,1109.2 L1438.6,1109.2 L1444.6,1104.3 L1450.6,1104.3 L1456.5,1103.2 L1462.5,1103.2 L1468.4,1095.2 L1474.4,1095.2 L1480.3,1095.2 L1486.3,1095.2 L1492.2,1092.6 L1498.2,1092.6 L1504.2,1092.5 L1510.1,1092.5 L1516.1,1092.5 L1522.0,1092.5 L1528.0,1086.6 L1533.9,1086.6 L1539.9,1086.6 L1545.9,1086.5 L1551.8,1086.5 L1557.8,1085.9 L1563.7,1085.6 L1569.7,1085.6 L1575.6,1085.6 L1581.6,1084.9 L1587.5,1084.9 L1593.5,1082.0 L1599.5,1079.9 L1605.4,1079.9 L1611.4,1079.3 L1617.3,1079.3 L1623.3,1079.2 L1629.2,1079.1 L1635.2,1079.0 L1641.1,1076.9 L1647.1,1076.9 L1653.1,1075.2 L1659.0,1075.2 L1665.0,1075.2 L1670.9,1073.7 L1676.9,1073.7 L1682.8,1073.7 L1688.8,1071.5 L1694.8,1071.5 L1700.7,1071.5 L1706.7,1071.4 L1712.6,1070.4 L1718.6,1070.4 L1724.5,1068.1 L1730.5,1067.9 L1736.4,1067.9 L1742.4,1067.6 L1748.4,1066.4 L1754.3,1066.2 L1760.3,1065.3 L1766.2,1065.3 L1772.2,1065.2 L1778.1,1063.1 L1784.1,1063.1 L1790.0,1062.3 L1796.0,1062.3 L1802.0,1060.1 L1807.9,1059.6 L1813.9,1057.0 L1819.8,1057.0 L1825.8,1057.0 L1831.7,1057.0 L1837.7,1056.6 L1843.7,1056.6 L1849.6,1056.4 L1855.6,1052.9 L1861.5,1052.9 L1867.5,1048.9 L1873.4,1047.8 L1879.4,1047.8 L1885.3,1047.8 L1891.3,1047.8 L1897.3,1047.8 L1903.2,1041.9 L1909.2,1041.9 L1915.1,1037.7 L1921.1,1037.7 L1927.0,1037.7 L1933.0,1037.7 L1938.9,1037.7 L1944.9,1033.0 L1950.9,1033.0 L1956.8,1033.0 L1962.8,1033.0 L1968.7,1023.7 L1974.7,1023.7 L1980.6,1023.7 L1986.6,1022.9 L1992.6,1022.9 L1998.5,1022.9 L2004.5,1022.9 L2010.4,1022.1 L2016.4,1022.1 L2022.3,1021.1 L2028.3,1021.1 L2034.2,1021.1 L2040.2,1021.1 L2046.2,1021.1 L2052.1,1015.2 L2058.1,1014.3 L2064.0,1014.3 L2070.0,1014.3 L2075.9,1014.3 L2081.9,1011.3 L2087.8,1009.3 L2093.8,1009.3 L2099.8,1008.6 L2105.7,1008.6 L2111.7,1008.6 L2117.6,1008.6 L2123.6,1008.6 L2129.5,1008.5 L2135.5,1005.9 L2141.5,1005.9 L2147.4,1005.4 L2153.4,1004.6 L2159.3,1000.5 L2165.3,996.6 L2171.2,996.6 L2177.2,996.6 L2183.1,996.6 L2189.1,996.6 L2195.1,994.3 L2201.0,993.6 L2207.0,988.0 L2212.9,988.0 L2218.9,988.0 L2224.8,986.6 L2230.8,986.6 L2236.7,986.6 L2242.7,986.6 L2248.7,986.6 L2254.6,983.6 L2260.6,983.6 L2266.5,983.6 L2272.5,977.7 L2278.4,975.9 L2284.4,974.9 L2290.4,973.8 L2296.3,973.8 L2302.3,972.5 L2308.2,972.5 L2314.2,972.5 L2320.1,972.5 L2326.1,971.4 L2332.0,971.4 L2338.0,971.4 L2344.0,971.1 L2349.9,971.1 L2355.9,971.1 L2361.8,959.2 L2367.8,959.2 L2373.7,959.2 L2379.7,959.1 L2385.6,959.1 L2391.6,959.1 L2397.6,953.8 L2403.5,953.0 L2409.5,953.0 L2415.4,953.0 L2421.4,953.0 L2427.3,953.0"/>
<path d="M253.4,1377.1 L259.4,1376.1 L265.3,1366.9 L271.3,1366.9 L277.2,1366.9 L283.2,1364.5 L289.1,1364.5 L295.1,1362.6 L301.0,1362.6 L307.0,1362.6 L313.0,1362.6 L318.9,1361.9 L324.9,1360.4 L330.8,1360.0 L336.8,1349.8 L342.7,1345.2 L348.7,1345.2 L354.7,1344.8 L360.6,1344.8 L366.6,1342.8 L372.5,1342.8 L378.5,1341.2 L384.4,1341.2 L390.4,1341.2 L396.3,1341.2 L402.3,1341.2 L408.3,1340.2 L414.2,1340.2 L420.2,1331.4 L426.1,1331.4 L432.1,1331.4 L438.0,1331.4 L444.0,1315.0 L449.9,1315.0 L455.9,1315.0 L461.9,1315.0 L467.8,1312.0 L473.8,1312.0 L479.7,1312.0 L485.7,1309.6 L491.6,1302.1 L497.6,1302.1 L503.6,1302.1 L509.5,1298.9 L515.5,1298.9 L521.4,1294.2 L527.4,1289.2 L533.3,1289.2 L539.3,1286.5 L545.2,1286.5 L551.2,1281.2 L557.2,1281.2 L563.1,1275.4 L569.1,1275.4 L575.0,1275.4 L581.0,1275.4 L586.9,1275.4 L592.9,1268.0 L598.8,1268.0 L604.8,1268.0 L610.8,1268.0 L616.7,1264.5 L622.7,1258.5 L628.6,1254.8 L634.6,1254.8 L640.5,1254.8 L646.5,1253.7 L652.5,1253.7 L658.4,1253.7 L664.4,1253.7 L670.3,1243.8 L676.3,1243.8 L682.2,1243.8 L688.2,1243.8 L694.1,1238.8 L700.1,1223.5 L706.1,1223.5 L712.0,1223.5 L718.0,1223.5 L723.9,1209.1 L729.9,1205.8 L735.8,1199.3 L741.8,1199.3 L747.7,1199.3 L753.7,1199.3 L759.7,1181.2 L765.6,1181.2 L771.6,1181.2 L777.5,1179.5 L783.5,1179.5 L789.4,1179.5 L795.4,1174.8 L801.4,1174.8 L807.3,1171.2 L813.3,1171.2 L819.2,1171.2 L825.2,1171.2 L831.1,1171.2 L837.1,1169.9 L843.0,1169.9 L849.0,1165.1 L855.0,1164.1 L860.9,1163.0 L866.9,1163.0 L872.8,1163.0 L878.8,1160.5 L884.7,1160.1 L890.7,1159.6 L896.6,1159.2 L902.6,1159.2 L908.6,1159.2 L914.5,1156.7 L920.5,1156.7 L926.4,1156.7 L932.4,1156.7 L938.3,1155.3 L944.3,1155.3 L950.3,1154.3 L956.2,1154.3 L962.2,1153.1 L968.1,1153.1 L974.1,1150.3 L980.0,1147.8 L986.0,1147.2 L991.9,1147.2 L997.9,1147.0 L1003.9,1147.0 L1009.8,1146.9 L1015.8,1143.7 L1021.7,1143.7 L1027.7,1142.7 L1033.6,1142.7 L1039.6,1140.3 L1045.5,1140.3 L1051.5,1140.3 L1057.5,1140.3 L1063.4,1139.9 L1069.4,1139.9 L1075.3,1139.9 L1081.3,1139.9 L1087.2,1131.4 L1093.2,1131.4 L1099.2,1131.4 L1105.1,1131.1 L1111.1,1129.0 L1117.0,1129.0 L1123.0,1129.0 L1128.9,1128.3 L1134.9,1125.7 L1140.8,1125.7 L1146.8,1125.7 L1152.8,1125.7 L1158.7,1125.0 L1164.7,1123.4 L1170.6,1123.4 L1176.6,1123.4 L1182.5,1123.4 L1188.5,1122.2 L1194.4,1121.8 L1200.4,1121.8 L1206.4,1121.8 L1212.3,1121.8 L1218.3,1121.3 L1224.2,1120.8 L1230.2,1120.8 L1236.1,1120.2 L1242.1,1120.2 L1248.1,1118.8 L1254.0,1118.8 L1260.0,1118.1 L1265.9,1117.9 L1271.9,1117.9 L1277.8,1117.6 L1283.8,1116.3 L1289.7,1116.3 L1295.7,1116.3 L1301.7,1115.6 L1307.6,1115.3 L1313.6,1115.3 L1319.5,1113.0 L1325.5,1113.0 L1331.4,1110.5 L1337.4,1109.9 L1343.3,1109.8 L1349.3,1109.8 L1355.3,1106.2 L1361.2,1106.2 L1367.2,1105.9 L1373.1,1105.9 L1379.1,1105.9 L1385.0,1105.4 L1391.0,1105.4 L1397.0,1105.4 L1402.9,1103.9 L1408.9,1103.9 L1414.8,1103.9 L1420.8,1100.4 L1426.7,1100.4 L1432.7,1100.4 L1438.6,1100.4 L1444.6,1100.3 L1450.6,1099.7 L1456.5,1099.7 L1462.5,1099.7 L1468.4,1098.1 L1474.4,1096.9 L1480.3,1092.2 L1486.3,1092.2 L1492.2,1090.5 L1498.2,1090.5 L1504.2,1090.3 L1510.1,1088.9 L1516.1,1087.4 L1522.0,1087.4 L1528.0,1085.7 L1533.9,1085.7 L1539.9,1085.7 L1545.9,1085.7 L1551.8,1085.2 L1557.8,1085.2 L1563.7,1085.2 L1569.7,1085.1 L1575.6,1085.1 L1581.6,1085.1 L1587.5,1085.1 L1593.5,1083.4 L1599.5,1082.2 L1605.4,1080.0 L1611.4,1079.8 L1617.3,1079.7 L1623.3,1079.5 L1629.2,1079.0 L1635.2,1079.0 L1641.1,1079.0 L1647.1,1079.0 L1653.1,1078.6 L1659.0,1078.1 L1665.0,1078.1 L1670.9,1077.5 L1676.9,1077.5 L1682.8,1077.5 L1688.8,1077.5 L1694.8,1077.5 L1700.7,1076.0 L1706.7,1076.0 L1712.6,1076.0 L1718.6,1076.0 L1724.5,1076.0 L1730.5,1075.9 L1736.4,1075.6 L1742.4,1075.6 L1748.4,1075.6 L1754.3,1075.4 L1760.3,1068.4 L1766.2,1068.4 L1772.2,1067.8 L1778.1,1067.8 L1784.1,1067.8 L1790.0,1067.8 L1796.0,1067.8 L1802.0,1064.8 L1807.9,1064.8 L1813.9,1064.8 L1819.8,1064.2 L1825.8,1060.8 L1831.7,1060.8 L1837.7,1060.8 L1843.7,1060.8 L1849.6,1060.8 L1855.6,1059.8 L1861.5,1052.0 L1867.5,1050.4 L1873.4,1050.1 L1879.4,1050.1 L1885.3,1050.1 L1891.3,1050.1 L1897.3,1050.1 L1903.2,1047.3 L1909.2,1047.3 L1915.1,1047.3 L1921.1,1047.3 L1927.0,1047.3 L1933.0,1039.7 L1938.9,1038.8 L1944.9,1038.8 L1950.9,1038.8 L1956.8,1038.8 L1962.8,1038.8 L1968.7,1038.8 L1974.7,1038.7 L1980.6,1036.1 L1986.6,1036.1 L1992.6,1033.7 L1998.5,1033.7 L2004.5,1033.7 L2010.4,1033.7 L2016.4,1033.3 L2022.3,1022.3 L2028.3,1022.3 L2034.2,1022.3 L2040.2,1022.3 L2046.2,1020.4 L2052.1,1018.1 L2058.1,1018.1 L2064.0,1018.1 L2070.0,1018.1 L2075.9,1003.5 L2081.9,1003.5 L2087.8,1002.9 L2093.8,1001.5 L2099.8,1001.5 L2105.7,1001.1 L2111.7,1001.1 L2117.6,1000.3 L2123.6,1000.3 L2129.5,1000.3 L2135.5,996.6 L2141.5,996.2 L2147.4,996.2 L2153.4,996.2 L2159.3,996.2 L2165.3,996.2 L2171.2,996.2 L2177.2,995.7 L2183.1,995.7 L2189.1,995.7 L2195.1,991.5 L2201.0,991.5 L2207.0,991.5 L2212.9,991.5 L2218.9,991.5 L2224.8,991.5 L2230.8,990.2 L2236.7,990.2 L2242.7,990.2 L2248.7,990.2 L2254.6,990.1 L2260.6,990.1 L2266.5,990.1 L2272.5,990.1 L2278.4,990.1 L2284.4,988.1 L2290.4,988.1 L2296.3,986.5 L2302.3,986.5 L2308.2,982.2 L2314.2,981.9 L2320.1,981.9 L2326.1,981.9 L2332.0,981.9 L2338.0,981.9 L2344.0,981.4 L2349.9,978.3 L2355.9,976.7 L2361.8,976.7 L2367.8,976.7 L2373.7,976.4 L2379.7,976.4 L2385.6,975.7 L2391.6,975.7 L2397.6,973.4 L2403.5,972.7 L2409.5,972.6 L2415.4,972.6 L2421.4,972.6 L2427.3,972.6"/>
<path d="M253.4,1379.0 L259.4,1372.1 L265.3,1372.0 L271.3,1372.0 L277.2,1367.0 L283.2,1361.9 L289.1,1361.5 L295.1,1361.5 L301.0,1361.5 L307.0,1361.5 L313.0,1359.1 L318.9,1359.1 L324.9,1359.1 L330.8,1359.1 L336.8,1359.1 L342.7,1359.1 L348.7,1359.1 L354.7,1359.1 L360.6,1359.1 L366.6,1359.1 L372.5,1358.2 L378.5,1358.2 L384.4,1357.8 L390.4,1357.8 L396.3,1357.8 L402.3,1357.7 L408.3,1357.7 L414.2,1357.7 L420.2,1357.7 L426.1,1357.7 L432.1,1357.7 L438.0,1353.8 L444.0,1353.8 L449.9,1353.8 L455.9,1353.8 L461.9,1353.8 L467.8,1353.8 L473.8,1353.8 L479.7,1353.8 L485.7,1351.6 L491.6,1346.8 L497.6,1327.6 L503.6,1327.1 L509.5,1327.1 L515.5,1326.6 L521.4,1322.4 L527.4,1322.4 L533.3,1322.4 L539.3,1322.4 L545.2,1322.4 L551.2,1317.2 L557.2,1316.6 L563.1,1316.6 L569.1,1316.6 L575.0,1316.2 L581.0,1314.8 L586.9,1314.8 L592.9,1314.8 L598.8,1305.8 L604.8,1304.3 L610.8,1304.3 L616.7,1304.3 L622.7,1304.3 L628.6,1295.9 L634.6,1295.9 L640.5,1295.9 L646.5,1293.4 L652.5,1293.4 L658.4,1293.4 L664.4,1293.4 L670.3,1293.4 L676.3,1290.0 L682.2,1283.0 L688.2,1283.0 L694.1,1283.0 L700.1,1280.6 L706.1,1280.6 L712.0,1280.6 L718.0,1280.6 L723.9,1280.0 L729.9,1267.5 L735.8,1267.5 L741.8,1267.5 L747.7,1267.5 L753.7,1266.4 L759.7,1266.4 L765.6,1262.3 L771.6,1259.6 L777.5,1259.6 L783.5,1248.6 L789.4,1248.6 L795.4,1246.2 L801.4,1246.2 L807.3,1245.7 L813.3,1243.0 L819.2,1243.0 L825.2,1243.0 L831.1,1243.0 L837.1,1243.0 L843.0,1241.9 L849.0,1241.9 L855.0,1241.9 L860.9,1240.4 L866.9,1240.4 L872.8,1240.4 L878.8,1240.4 L884.7,1240.2 L890.7,1239.8 L896.6,1239.7 L902.6,1239.7 L908.6,1239.7 L914.5,1239.5 L920.5,1238.3 L926.4,1238.3 L932.4,1237.7 L938.3,1237.7 L944.3,1237.7 L950.3,1237.7 L956.2,1237.7 L962.2,1237.7 L968.1,1237.7 L974.1,1236.3 L980.0,1236.3 L986.0,1236.3 L991.9,1236.3 L997.9,1236.3 L1003.9,1234.5 L1009.8,1230.8 L1015.8,1230.8 L1021.7,1230.8 L1027.7,1230.8 L1033.6,1230.8 L1039.6,1226.1 L1045.5,1226.1 L1051.5,1226.1 L1057.5,1226.1 L1063.4,1222.1 L1069.4,1222.1 L1075.3,1222.1 L1081.3,1219.0 L1087.2,1219.0 L1093.2,1219.0 L1099.2,1219.0 L1105.1,1218.0 L1111.1,1218.0 L1117.0,1215.6 L1123.0,1211.4 L1128.9,1211.4 L1134.9,1210.7 L1140.8,1209.1 L1146.8,1209.1 L1152.8,1209.1 L1158.7,1209.1 L1164.7,1206.4 L1170.6,1202.4 L1176.6,1202.2 L1182.5,1202.2 L1188.5,1201.8 L1194.4,1201.8 L1200.4,1201.6 L1206.4,1201.6 L1212.3,1197.1 L1218.3,1196.8 L1224.2,1194.5 L1230.2,1194.5 L1236.1,1194.5 L1242.1,1193.8 L1248.1,1193.8 L1254.0,1193.8 L1260.0,1193.8 L1265.9,1193.8 L1271.9,1193.8 L1277.8,1185.9 L1283.8,1185.9 L1289.7,1185.9 L1295.7,1185.9 L1301.7,1185.9 L1307.6,1185.9 L1313.6,1185.9 L1319.5,1185.9 L1325.5,1185.9 L1331.4,1185.9 L1337.4,1183.7 L1343.3,1179.2 L1349.3,1178.5 L1355.3,1178.5 L1361.2,1178.0 L1367.2,1178.0 L1373.1,1178.0 L1379.1,1178.0 L1385.0,1178.0 L1391.0,1174.5 L1397.0,1174.5 L1402.9,1174.5 L1408.9,1174.5 L1414.8,1170.5 L1420.8,1166.7 L1426.7,1166.7 L1432.7,1166.6 L1438.6,1166.6 L1444.6,1157.4 L1450.6,1156.8 L1456.5,1156.8 L1462.5,1155.6 L1468.4,1155.4 L1474.4,1154.5 L1480.3,1154.5 L1486.3,1154.5 L1492.2,1154.4 L1498.2,1152.4 L1504.2,1151.4 L1510.1,1151.2 L1516.1,1146.6 L1522.0,1146.0 L1528.0,1145.4 L1533.9,1145.4 L1539.9,1145.4 L1545.9,1144.5 L1551.8,1144.5 L1557.8,1144.5 L1563.7,1142.2 L1569.7,1142.2 L1575.6,1142.2 L1581.6,1142.2 L1587.5,1142.2 L1593.5,1141.2 L1599.5,1141.2 L1605.4,1141.2 L1611.4,1141.2 L1617.3,1141.2 L1623.3,1141.2 L1629.2,1141.2 L1635.2,1137.4 L1641.1,1137.4 L1647.1,1137.0 L1653.1,1136.4 L1659.0,1135.8 L1665.0,1135.0 L1670.9,1134.9 L1676.9,1132.8 L1682.8,1131.8 L1688.8,1131.8 L1694.8,1131.8 L1700.7,1131.8 L1706.7,1131.8 L1712.6,1129.8 L1718.6,1129.8 L1724.5,1129.0 L1730.5,1128.0 L1736.4,1128.0 L1742.4,1128.0 L1748.4,1128.0 L1754.3,1127.5 L1760.3,1124.1 L1766.2,1122.7 L1772.2,1122.7 L1778.1,1122.7 L1784.1,1122.7 L1790.0,1120.2 L1796.0,1116.7 L1802.0,1116.7 L1807.9,1116.7 L1813.9,1116.7 L1819.8,1116.7 L1825.8,1110.5 L1831.7,1110.5 L1837.7,1110.5 L1843.7,1110.5 L1849.6,1105.4 L1855.6,1105.4 L1861.5,1102.4 L1867.5,1102.4 L1873.4,1101.1 L1879.4,1098.4 L1885.3,1098.4 L1891.3,1098.4 L1897.3,1096.0 L1903.2,1089.7 L1909.2,1089.7 L1915.1,1088.9 L1921.1,1087.3 L1927.0,1083.1 L1933.0,1083.1 L1938.9,1083.1 L1944.9,1082.7 L1950.9,1082.2 L1956.8,1081.1 L1962.8,1081.1 L1968.7,1081.1 L1974.7,1079.1 L1980.6,1077.6 L1986.6,1077.6 L1992.6,1074.6 L1998.5,1074.6 L2004.5,1074.6 L2010.4,1074.6 L2016.4,1073.5 L2022.3,1073.4 L2028.3,1073.4 L2034.2,1073.4 L2040.2,1069.7 L2046.2,1069.7 L2052.1,1069.7 L2058.1,1066.7 L2064.0,1064.6 L2070.0,1064.6 L2075.9,1064.6 L2081.9,1050.4 L2087.8,1048.9 L2093.8,1047.5 L2099.8,1047.5 L2105.7,1047.5 L2111.7,1047.5 L2117.6,1047.5 L2123.6,1047.5 L2129.5,1047.5 L2135.5,1047.5 L2141.5,1047.5 L2147.4,1047.5 L2153.4,1043.4 L2159.3,1043.4 L2165.3,1043.4 L2171.2,1039.0 L2177.2,1039.0 L2183.1,1039.0 L2189.1,1039.0 L2195.1,1039.0 L2201.0,1039.0 L2207.0,1024.7 L2212.9,1024.7 L2218.9,1024.7 L2224.8,1024.7 L2230.8,1024.7 L2236.7,1024.7 L2242.7,1024.2 L2248.7,1022.7 L2254.6,1022.7 L2260.6,1022.7 L2266.5,1022.7 L2272.5,1022.4 L2278.4,1021.4 L2284.4,1021.4 L2290.4,1020.9 L2296.3,1020.9 L2302.3,1016.8 L2308.2,1014.1 L2314.2,1010.6 L2320.1,1004.7 L2326.1,1004.3 L2332.0,1004.3 L2338.0,1004.3 L2344.0,1004.3 L2349.9,998.8 L2355.9,998.8 L2361.8,998.8 L2367.8,998.8 L2373.7,998.8 L2379.7,994.9 L2385.6,992.5 L2391.6,991.4 L2397.6,991.1 L2403.5,991.1 L2409.5,991.1 L2415.4,990.7 L2421.4,990.7 L2427.3,990.4"/>
<path d="M253.4,1379.7 L259.4,1379.7 L265.3,1378.7 L271.3,1372.9 L277.2,1372.9 L283.2,1372.9 L289.1,1370.2 L295.1,1370.2 L301.0,1370.2 L307.0,1370.2 L313.0,1368.2 L318.9,1367.1 L324.9,1361.9 L330.8,1361.9 L336.8,1360.4 L342.7,1360.4 L348.7,1358.7 L354.7,1356.1 L360.6,1356.1 L366.6,1356.1 L372.5,1356.1 L378.5,1356.0 L384.4,1356.0 L390.4,1356.0 L396.3,1356.0 L402.3,1355.0 L408.3,1355.0 L414.2,1355.0 L420.2,1354.5 L426.1,1354.5 L432.1,1342.7 L438.0,1342.7 L444.0,1341.7 L449.9,1338.3 L455.9,1338.3 L461.9,1336.0 L467.8,1333.2 L473.8,1333.2 L479.7,1333.2 L485.7,1333.2 L491.6,1327.5 L497.6,1327.5 L503.6,1327.5 L509.5,1327.5 L515.5,1327.5 L521.4,1327.5 L527.4,1322.1 L533.3,1322.1 L539.3,1322.1 L545.2,1319.6 L551.2,1317.3 L557.2,1317.3 L563.1,1315.9 L569.1,1315.0 L575.0,1313.8 L581.0,1313.0 L586.9,1311.5 L592.9,1311.5 L598.8,1311.5 L604.8,1311.5 L610.8,1311.5 L616.7,1309.8 L622.7,1309.8 L628.6,1299.7 L634.6,1299.7 L640.5,1299.7 L646.5,1299.2 L652.5,1299.2 L658.4,1299.2 L664.4,1299.2 L670.3,1299.2 L676.3,1299.2 L682.2,1290.7 L688.2,1290.7 L694.1,1286.7 L700.1,1284.3 L706.1,1284.3 L712.0,1277.1 L718.0,1276.3 L723.9,1276.3 L729.9,1276.3 L735.8,1272.1 L741.8,1269.3 L747.7,1269.3 L753.7,1269.3 L759.7,1263.6 L765.6,1252.4 L771.6,1251.7 L777.5,1241.0 L783.5,1241.0 L789.4,1240.6 L795.4,1240.6 L801.4,1240.6 L807.3,1238.9 L813.3,1238.9 L819.2,1238.9 L825.2,1238.9 L831.1,1238.9 L837.1,1236.2 L843.0,1236.2 L849.0,1236.2 L855.0,1235.9 L860.9,1235.9 L866.9,1235.9 L872.8,1235.0 L878.8,1235.0 L884.7,1233.9 L890.7,1228.1 L896.6,1226.9 L902.6,1222.9 L908.6,1221.4 L914.5,1221.4 L920.5,1221.4 L926.4,1221.4 L932.4,1221.4 L938.3,1221.4 L944.3,1220.4 L950.3,1220.4 L956.2,1220.4 L962.2,1220.4 L968.1,1217.9 L974.1,1217.9 L980.0,1215.8 L986.0,1215.2 L991.9,1215.2 L997.9,1209.9 L1003.9,1204.2 L1009.8,1204.2 L1015.8,1204.2 L1021.7,1204.2 L1027.7,1195.0 L1033.6,1195.0 L1039.6,1195.0 L1045.5,1195.0 L1051.5,1195.0 L1057.5,1194.2 L1063.4,1190.7 L1069.4,1190.7 L1075.3,1190.7 L1081.3,1184.9 L1087.2,1184.9 L1093.2,1184.9 L1099.2,1180.4 L1105.1,1177.9 L1111.1,1177.9 L1117.0,1177.9 L1123.0,1175.5 L1128.9,1175.5 L1134.9,1174.4 L1140.8,1165.3 L1146.8,1165.3 L1152.8,1164.9 L1158.7,1164.9 L1164.7,1164.9 L1170.6,1164.9 L1176.6,1164.9 L1182.5,1164.0 L1188.5,1161.3 L1194.4,1160.8 L1200.4,1160.8 L1206.4,1160.1 L1212.3,1160.1 L1218.3,1159.6 L1224.2,1159.6 L1230.2,1159.6 L1236.1,1157.6 L1242.1,1157.6 L1248.1,1157.6 L1254.0,1157.6 L1260.0,1155.5 L1265.9,1152.3 L1271.9,1151.9 L1277.8,1151.9 L1283.8,1151.9 L1289.7,1151.0 L1295.7,1148.9 L1301.7,1147.8 L1307.6,1147.0 L1313.6,1146.7 L1319.5,1141.4 L1325.5,1141.4 L1331.4,1141.4 L1337.4,1141.4 L1343.3,1141.4 L1349.3,1141.4 L1355.3,1141.4 L1361.2,1140.6 L1367.2,1140.6 L1373.1,1140.6 L1379.1,1140.6 L1385.0,1135.3 L1391.0,1135.0 L1397.0,1135.0 L1402.9,1135.0 L1408.9,1125.6 L1414.8,1124.8 L1420.8,1124.8 L1426.7,1124.8 L1432.7,1124.5 L1438.6,1123.3 L1444.6,1119.3 L1450.6,1119.3 L1456.5,1119.3 L1462.5,1118.2 L1468.4,1118.2 L1474.4,1118.2 L1480.3,1114.2 L1486.3,1114.2 L1492.2,1114.2 L1498.2,1114.2 L1504.2,1113.7 L1510.1,1113.7 L1516.1,1113.7 L1522.0,1113.7 L1528.0,1099.6 L1533.9,1099.6 L1539.9,1099.6 L1545.9,1095.0 L1551.8,1095.0 L1557.8,1095.0 L1563.7,1095.0 L1569.7,1093.2 L1575.6,1093.2 L1581.6,1093.2 L1587.5,1093.2 L1593.5,1093.2 L1599.5,1093.2 L1605.4,1089.8 L1611.4,1089.4 L1617.3,1087.8 L1623.3,1087.5 L1629.2,1087.5 L1635.2,1087.5 L1641.1,1085.3 L1647.1,1085.3 L1653.1,1085.3 L1659.0,1085.0 L1665.0,1083.4 L1670.9,1083.3 L1676.9,1083.3 L1682.8,1083.3 L1688.8,1083.3 L1694.8,1082.7 L1700.7,1082.7 L1706.7,1082.7 L1712.6,1082.0 L1718.6,1080.1 L1724.5,1080.1 L1730.5,1080.1 L1736.4,1079.0 L1742.4,1078.0 L1748.4,1077.9 L1754.3,1077.9 L1760.3,1077.9 L1766.2,1077.9 L1772.2,1077.9 L1778.1,1073.2 L1784.1,1073.2 L1790.0,1073.1 L1796.0,1071.9 L1802.0,1071.9 L1807.9,1071.9 L1813.9,1071.9 L1819.8,1071.9 L1825.8,1071.9 L1831.7,1071.9 L1837.7,1069.9 L1843.7,1069.7 L1849.6,1069.7 L1855.6,1069.1 L1861.5,1069.1 L1867.5,1069.1 L1873.4,1069.1 L1879.4,1069.1 L1885.3,1069.1 L1891.3,1069.1 L1897.3,1069.1 L1903.2,1064.6 L1909.2,1059.4 L1915.1,1059.4 L1921.1,1059.1 L1927.0,1059.1 L1933.0,1059.1 L1938.9,1059.1 L1944.9,1058.7 L1950.9,1057.2 L1956.8,1057.2 L1962.8,1056.9 L1968.7,1056.9 L1974.7,1053.3 L1980.6,1053.3 L1986.6,1053.3 L1992.6,1052.8 L1998.5,1052.8 L2004.5,1052.2 L2010.4,1048.5 L2016.4,1048.5 L2022.3,1048.5 L2028.3,1048.5 L2034.2,1048.5 L2040.2,1048.5 L2046.2,1047.5 L2052.1,1047.5 L2058.1,1047.5 L2064.0,1047.0 L2070.0,1047.0 L2075.9,1039.9 L2081.9,1036.9 L2087.8,1036.9 L2093.8,1036.9 L2099.8,1036.9 L2105.7,1034.6 L2111.7,1031.8 L2117.6,1031.8 L2123.6,1031.8 L2129.5,1031.8 L2135.5,1031.8 L2141.5,1031.8 L2147.4,1031.8 L2153.4,1031.8 L2159.3,1031.8 L2165.3,1030.5 L2171.2,1030.5 L2177.2,1030.5 L2183.1,1027.8 L2189.1,1027.8 L2195.1,1027.5 L2201.0,1027.5 L2207.0,1027.4 L2212.9,1027.4 L2218.9,1027.4 L2224.8,1027.4 L2230.8,1025.1 L2236.7,1024.1 L2242.7,1023.6 L2248.7,1023.6 L2254.6,1023.6 L2260.6,1022.6 L2266.5,1022.1 L2272.5,1018.9 L2278.4,1018.9 L2284.4,1018.1 L2290.4,1018.1 L2296.3,1017.8 L2302.3,1017.8 L2308.2,1017.8 L2314.2,1017.7 L2320.1,1017.6 L2326.1,1017.6 L2332.0,1017.6 L2338.0,1016.8 L2344.0,1016.7 L2349.9,1016.7 L2355.9,1016.7 L2361.8,1015.5 L2367.8,1011.6 L2373.7,1011.6 L2379.7,1011.6 L2385.6,1011.6 L2391.6,1011.6 L2397.6,1011.6 L2403.5,1010.1 L2409.5,1009.8 L2415.4,1009.8 L2421.4,1009.8 L2427.3,1007.3"/>
<path d="M253.4,1379.9 L259.4,1379.8 L265.3,1379.8 L271.3,1377.0 L277.2,1373.8 L283.2,1373.8 L289.1,1372.9 L295.1,1371.5 L301.0,1371.5 L307.0,1368.4 L313.0,1367.8 L318.9,1367.8 L324.9,1367.6 L330.8,1367.5 L336.8,1367.5 L342.7,1365.8 L348.7,1362.3 L354.7,1362.1 L360.6,1361.2 L366.6,1360.5 L372.5,1360.5 L378.5,1360.5 L384.4,1360.5 L390.4,1360.5 L396.3,1357.8 L402.3,1357.8 L408.3,1357.8 L414.2,1355.3 L420.2,1351.5 L426.1,1351.5 L432.1,1351.1 L438.0,1351.1 L444.0,1350.8 L449.9,1350.8 L455.9,1350.8 L461.9,1348.1 L467.8,1348.1 L473.8,1348.1 L479.7,1343.5 L485.7,1343.2 L491.6,1339.5 L497.6,1339.5 L503.6,1339.5 L509.5,1334.4 L515.5,1334.4 L521.4,1334.4 L527.4,1334.2 L533.3,1334.2 L539.3,1332.0 L545.2,1332.0 L551.2,1332.0 L557.2,1329.5 L563.1,1329.5 L569.1,1329.5 L575.0,1323.2 L581.0,1323.2 L586.9,1323.2 L592.9,1319.2 L598.8,1319.2 L604.8,1319.2 L610.8,1319.2 L616.7,1318.7 L622.7,1318.7 L628.6,1312.4 L634.6,1311.1 L640.5,1304.7 L646.5,1304.7 L652.5,1304.7 L658.4,1302.0 L664.4,1302.0 L670.3,1302.0 L676.3,1302.0 L682.2,1300.0 L688.2,1300.0 L694.1,1300.0 L700.1,1300.0 L706.1,1288.4 L712.0,1288.4 L718.0,1288.2 L723.9,1282.1 L729.9,1282.1 L735.8,1282.1 L741.8,1281.6 L747.7,1281.6 L753.7,1281.6 L759.7,1281.6 L765.6,1281.6 L771.6,1280.3 L777.5,1280.3 L783.5,1280.3 L789.4,1280.3 L795.4,1280.3 L801.4,1280.3 L807.3,1264.9 L813.3,1264.9 L819.2,1264.9 L825.2,1261.8 L831.1,1261.8 L837.1,1261.8 L843.0,1261.8 L849.0,1255.5 L855.0,1255.5 L860.9,1254.6 L866.9,1254.6 L872.8,1254.6 L878.8,1254.6 L884.7,1253.9 L890.7,1253.3 L896.6,1253.3 L902.6,1253.3 L908.6,1253.3 L914.5,1244.8 L920.5,1244.8 L926.4,1244.8 L932.4,1244.8 L938.3,1242.6 L944.3,1242.6 L950.3,1236.7 L956.2,1236.7 L962.2,1236.7 L968.1,1233.4 L974.1,1232.8 L980.0,1232.1 L986.0,1231.3 L991.9,1229.3 L997.9,1228.6 L1003.9,1228.6 L1009.8,1222.9 L1015.8,1221.7 L1021.7,1221.7 L1027.7,1218.2 L1033.6,1218.2 L1039.6,1217.7 L1045.5,1217.7 L1051.5,1214.8 L1057.5,1214.8 L1063.4,1214.8 L1069.4,1214.8 L1075.3,1214.8 L1081.3,1214.8 L1087.2,1214.8 L1093.2,1214.8 L1099.2,1209.8 L1105.1,1209.8 L1111.1,1208.3 L1117.0,1208.3 L1123.0,1208.3 L1128.9,1205.6 L1134.9,1203.7 L1140.8,1201.0 L1146.8,1200.8 L1152.8,1200.1 L1158.7,1194.2 L1164.7,1194.2 L1170.6,1194.2 L1176.6,1194.2 L1182.5,1194.2 L1188.5,1193.1 L1194.4,1193.1 L1200.4,1193.1 L1206.4,1193.1 L1212.3,1193.1 L1218.3,1190.7 L1224.2,1190.7 L1230.2,1190.7 L1236.1,1190.7 L1242.1,1190.7 L1248.1,1190.7 L1254.0,1190.7 L1260.0,1190.7 L1265.9,1188.3 L1271.9,1188.2 L1277.8,1183.9 L1283.8,1179.6 L1289.7,1179.6 L1295.7,1179.6 L1301.7,1178.0 L1307.6,1177.4 L1313.6,1177.4 L1319.5,1175.9 L1325.5,1172.5 L1331.4,1169.5 L1337.4,1169.4 L1343.3,1169.4 L1349.3,1169.4 L1355.3,1169.4 L1361.2,1168.3 L1367.2,1168.3 L1373.1,1168.3 L1379.1,1166.4 L1385.0,1165.0 L1391.0,1165.0 L1397.0,1165.0 L1402.9,1165.0 L1408.9,1162.2 L1414.8,1162.2 L1420.8,1162.2 L1426.7,1162.2 L1432.7,1162.2 L1438.6,1161.4 L1444.6,1155.4 L1450.6,1155.3 L1456.5,1155.3 L1462.5,1155.3 L1468.4,1155.3 L1474.4,1155.3 L1480.3,1155.3 L1486.3,1151.2 L1492.2,1144.2 L1498.2,1143.8 L1504.2,1143.8 L1510.1,1143.8 L1516.1,1143.8 L1522.0,1143.8 L1528.0,1143.8 L1533.9,1143.7 L1539.9,1143.2 L1545.9,1143.2 L1551.8,1143.2 L1557.8,1143.2 L1563.7,1143.2 L1569.7,1141.2 L1575.6,1141.2 L1581.6,1141.2 L1587.5,1140.7 L1593.5,1140.7 L1599.5,1140.7 L1605.4,1140.7 L1611.4,1140.7 L1617.3,1140.7 L1623.3,1140.7 L1629.2,1140.7 L1635.2,1140.7 L1641.1,1137.8 L1647.1,1137.8 L1653.1,1137.4 L1659.0,1134.1 L1665.0,1134.1 L1670.9,1134.1 L1676.9,1132.9 L1682.8,1131.9 L1688.8,1128.1 L1694.8,1128.1 L1700.7,1126.4 L1706.7,1126.4 L1712.6,1123.5 L1718.6,1123.4 L1724.5,1123.3 L1730.5,1123.3 L1736.4,1123.3 L1742.4,1123.3 L1748.4,1121.6 L1754.3,1121.6 L1760.3,1121.4 L1766.2,1120.3 L1772.2,1120.3 L1778.1,1120.3 L1784.1,1119.0 L1790.0,1117.3 L1796.0,1117.3 L1802.0,1115.5 L1807.9,1115.5 L1813.9,1114.2 L1819.8,1113.6 L1825.8,1111.6 L1831.7,1109.1 L1837.7,1109.1 L1843.7,1109.1 L1849.6,1109.1 L1855.6,1109.1 L1861.5,1109.1 L1867.5,1109.1 L1873.4,1109.1 L1879.4,1108.9 L1885.3,1098.5 L1891.3,1097.9 L1897.3,1097.4 L1903.2,1095.3 L1909.2,1095.3 L1915.1,1095.3 L1921.1,1095.3 L1927.0,1094.3 L1933.0,1092.4 L1938.9,1086.5 L1944.9,1086.5 L1950.9,1081.2 L1956.8,1081.2 L1962.8,1081.2 L1968.7,1080.1 L1974.7,1080.1 L1980.6,1080.1 L1986.6,1080.1 L1992.6,1079.7 L1998.5,1078.7 L2004.5,1073.9 L2010.4,1073.9 L2016.4,1073.4 L2022.3,1072.8 L2028.3,1072.7 L2034.2,1072.7 L2040.2,1070.3 L2046.2,1070.3 L2052.1,1070.3 L2058.1,1070.3 L2064.0,1070.3 L2070.0,1070.3 L2075.9,1069.6 L2081.9,1069.6 L2087.8,1064.1 L2093.8,1061.8 L2099.8,1057.1 L2105.7,1055.8 L2111.7,1054.6 L2117.6,1052.7 L2123.6,1052.7 L2129.5,1052.5 L2135.5,1052.5 L2141.5,1052.5 L2147.4,1052.4 L2153.4,1047.9 L2159.3,1044.7 L2165.3,1044.7 L2171.2,1043.5 L2177.2,1043.5 L2183.1,1043.5 L2189.1,1043.5 L2195.1,1043.2 L2201.0,1040.7 L2207.0,1040.7 L2212.9,1040.0 L2218.9,1039.2 L2224.8,1038.4 L2230.8,1036.9 L2236.7,1031.1 L2242.7,1031.1 L2248.7,1031.1 L2254.6,1030.9 L2260.6,1030.8 L2266.5,1030.7 L2272.5,1030.7 L2278.4,1030.7 L2284.4,1029.3 L2290.4,1025.1 L2296.3,1025.1 L2302.3,1025.1 L2308.2,1025.1 L2314.2,1024.3 L2320.1,1023.2 L2326.1,1023.0 L2332.0,1022.6 L2338.0,1022.6 L2344.0,1022.6 L2349.9,1022.6 L2355.9,1022.6 L2361.8,1022.6 L2367.8,1022.6 L2373.7,1019.8 L2379.7,1019.8 L2385.6,1019.8 L2391.6,1019.1 L2397.6,1019.1 L2403.5,1015.3 L2409.5,1015.3 L2415.4,1015.0 L2421.4,1015.0 L2427.3,1015.0"/>
<path d="M253.4,1381.8 L259.4,1381.8 L265.3,1381.8 L271.3,1381.8 L277.2,1380.6 L283.2,1380.6 L289.1,1380.6 L295.1,1380.6 L301.0,1380.6 L307.0,1380.6 L313.0,1380.6 L318.9,1378.7 L324.9,1378.7 L330.8,1378.7 L336.8,1377.8 L342.7,1374.9 L348.7,1374.3 L354.7,1374.3 L360.6,1374.3 L366.6,1374.3 L372.5,1374.0 L378.5,1373.7 L384.4,1373.7 L390.4,1372.0 L396.3,1372.0 L402.3,1371.8 L408.3,1369.1 L414.2,1367.8 L420.2,1367.4 L426.1,1367.4 L432.1,1366.8 L438.0,1366.8 L444.0,1366.8 L449.9,1364.9 L455.9,1364.9 L461.9,1364.9 L467.8,1364.9 L473.8,1364.9 L479.7,1364.9 L485.7,1364.9 L491.6,1361.6 L497.6,1360.2 L503.6,1360.1 L509.5,1360.1 L515.5,1360.1 L521.4,1359.6 L527.4,1359.6 L533.3,1359.6 L539.3,1359.6 L545.2,1359.6 L551.2,1358.1 L557.2,1358.1 L563.1,1349.3 L569.1,1348.6 L575.0,1346.2 L581.0,1346.2 L586.9,1346.2 L592.9,1346.2 L598.8,1346.2 L604.8,1346.2 L610.8,1346.2 L616.7,1345.7 L622.7,1344.4 L628.6,1341.6 L634.6,1338.4 L640.5,1337.5 L646.5,1331.6 L652.5,1331.6 L658.4,1331.6 L664.4,1331.6 L670.3,1331.6 L676.3,1331.6 L682.2,1330.7 L688.2,1330.7 L694.1,1330.7 L700.1,1330.7 L706.1,1330.7 L712.0,1330.7 L718.0,1330.4 L723.9,1329.2 L729.9,1326.4 L735.8,1323.2 L741.8,1323.2 L747.7,1317.9 L753.7,1317.9 L759.7,1316.8 L765.6,1316.1 L771.6,1316.1 L777.5,1311.2 L783.5,1311.2 L789.4,1311.2 L795.4,1311.2 L801.4,1311.2 L807.3,1311.2 L813.3,1306.8 L819.2,1306.8 L825.2,1296.9 L831.1,1296.9 L837.1,1296.5 L843.0,1296.5 L849.0,1296.5 L855.0,1295.8 L860.9,1294.7 L866.9,1294.7 L872.8,1294.3 L878.8,1290.4 L884.7,1290.4 L890.7,1288.9 L896.6,1287.7 L902.6,1287.7 L908.6,1283.3 L914.5,1283.3 L920.5,1283.3 L926.4,1283.3 L932.4,1283.3 L938.3,1283.3 L944.3,1279.8 L950.3,1279.8 L956.2,1275.8 L962.2,1273.3 L968.1,1273.3 L974.1,1273.3 L980.0,1271.4 L986.0,1271.4 L991.9,1271.4 L997.9,1271.4 L1003.9,1270.4 L1009.8,1270.3 L1015.8,1270.3 L1021.7,1266.8 L1027.7,1264.7 L1033.6,1261.2 L1039.6,1261.2 L1045.5,1261.2 L1051.5,1261.2 L1057.5,1261.2 L1063.4,1261.2 L1069.4,1261.2 L1075.3,1256.4 L1081.3,1254.9 L1087.2,1252.1 L1093.2,1248.6 L1099.2,1244.4 L1105.1,1244.4 L1111.1,1244.4 L1117.0,1244.4 L1123.0,1241.0 L1128.9,1240.8 L1134.9,1239.5 L1140.8,1239.5 L1146.8,1239.5 L1152.8,1235.3 L1158.7,1235.3 L1164.7,1234.6 L1170.6,1234.6 L1176.6,1228.7 L1182.5,1226.3 L1188.5,1226.3 L1194.4,1226.3 L1200.4,1226.3 L1206.4,1226.3 L1212.3,1226.3 L1218.3,1226.3 L1224.2,1226.3 L1230.2,1226.3 L1236.1,1225.5 L1242.1,1224.4 L1248.1,1224.4 L1254.0,1224.4 L1260.0,1224.4 L1265.9,1224.4 L1271.9,1224.4 L1277.8,1224.2 L1283.8,1223.8 L1289.7,1222.2 L1295.7,1222.2 L1301.7,1220.7 L1307.6,1220.7 L1313.6,1220.7 L1319.5,1218.8 L1325.5,1218.5 L1331.4,1218.5 L1337.4,1218.5 L1343.3,1218.5 L1349.3,1218.5 L1355.3,1218.5 L1361.2,1212.2 L1367.2,1208.5 L1373.1,1208.5 L1379.1,1203.5 L1385.0,1203.5 L1391.0,1203.5 L1397.0,1203.5 L1402.9,1203.2 L1408.9,1201.1 L1414.8,1200.3 L1420.8,1200.0 L1426.7,1197.2 L1432.7,1197.2 L1438.6,1197.2 L1444.6,1197.2 L1450.6,1195.9 L1456.5,1195.9 L1462.5,1195.9 L1468.4,1195.3 L1474.4,1194.9 L1480.3,1194.4 L1486.3,1193.7 L1492.2,1193.7 L1498.2,1193.7 L1504.2,1193.7 L1510.1,1193.7 L1516.1,1192.3 L1522.0,1191.6 L1528.0,1189.4 L1533.9,1189.0 L1539.9,1189.0 L1545.9,1188.6 L1551.8,1188.6 L1557.8,1188.6 L1563.7,1188.3 L1569.7,1188.3 L1575.6,1188.3 L1581.6,1187.0 L1587.5,1186.6 L1593.5,1186.6 L1599.5,1184.9 L1605.4,1184.9 L1611.4,1184.9 L1617.3,1184.8 L1623.3,1184.8 L1629.2,1184.5 L1635.2,1180.0 L1641.1,1180.0 L1647.1,1179.8 L1653.1,1178.1 L1659.0,1178.1 L1665.0,1178.1 L1670.9,1178.1 L1676.9,1178.1 L1682.8,1178.0 L1688.8,1178.0 L1694.8,1176.8 L1700.7,1176.8 L1706.7,1176.4 L1712.6,1175.0 L1718.6,1175.0 L1724.5,1172.2 L1730.5,1172.2 L1736.4,1172.2 L1742.4,1172.2 L1748.4,1171.7 L1754.3,1171.7 L1760.3,1171.7 L1766.2,1171.1 L1772.2,1171.1 L1778.1,1171.1 L1784.1,1171.1 L1790.0,1171.1 L1796.0,1171.1 L1802.0,1169.0 L1807.9,1169.0 L1813.9,1169.0 L1819.8,1167.5 L1825.8,1163.4 L1831.7,1162.0 L1837.7,1156.7 L1843.7,1147.3 L1849.6,1147.3 L1855.6,1146.0 L1861.5,1146.0 L1867.5,1146.0 L1873.4,1144.4 L1879.4,1141.9 L1885.3,1141.1 L1891.3,1141.1 L1897.3,1141.1 L1903.2,1141.1 L1909.2,1141.1 L1915.1,1141.1 L1921.1,1139.4 L1927.0,1139.4 L1933.0,1138.9 L1938.9,1136.1 L1944.9,1136.1 L1950.9,1132.8 L1956.8,1132.8 L1962.8,1129.6 L1968.7,1129.6 L1974.7,1124.3 L1980.6,1123.5 L1986.6,1120.8 L1992.6,1118.8 L1998.5,1118.8 L2004.5,1115.3 L2010.4,1115.2 L2016.4,1115.2 L2022.3,1110.7 L2028.3,1110.7 L2034.2,1110.7 L2040.2,1110.7 L2046.2,1110.7 L2052.1,1110.7 L2058.1,1110.7 L2064.0,1110.7 L2070.0,1110.7 L2075.9,1105.9 L2081.9,1105.9 L2087.8,1105.9 L2093.8,1104.2 L2099.8,1104.2 L2105.7,1104.2 L2111.7,1104.2 L2117.6,1104.2 L2123.6,1104.2 L2129.5,1103.5 L2135.5,1100.1 L2141.5,1088.3 L2147.4,1087.7 L2153.4,1087.7 L2159.3,1083.5 L2165.3,1079.7 L2171.2,1079.7 L2177.2,1074.1 L2183.1,1074.1 L2189.1,1074.1 L2195.1,1071.4 L2201.0,1071.4 L2207.0,1071.4 L2212.9,1071.4 L2218.9,1070.0 L2224.8,1068.4 L2230.8,1068.4 L2236.7,1068.4 L2242.7,1068.4 L2248.7,1068.4 L2254.6,1068.1 L2260.6,1067.1 L2266.5,1067.1 L2272.5,1066.8 L2278.4,1066.6 L2284.4,1066.6 L2290.4,1066.6 L2296.3,1066.6 L2302.3,1066.6 L2308.2,1064.9 L2314.2,1064.9 L2320.1,1064.9 L2326.1,1064.9 L2332.0,1064.8 L2338.0,1064.2 L2344.0,1063.4 L2349.9,1063.4 L2355.9,1062.9 L2361.8,1062.9 L2367.8,1062.9 L2373.7,1062.9 L2379.7,1061.0 L2385.6,1061.0 L2391.6,1059.9 L2397.6,1059.9 L2403.5,1059.6 L2409.5,1057.6 L2415.4,1057.6 L2421.4,1041.9 L2427.3,1030.6"/>
<path d="M253.4,1379.0 L259.4,1379.0 L265.3,1379.0 L271.3,1379.0 L277.2,1377.5 L283.2,1377.5 L289.1,1377.5 L295.1,1377.5 L301.0,1374.9 L307.0,1374.9 L313.0,1373.9 L318.9,1373.9 L324.9,1373.9 L330.8,1373.9 L336.8,1373.2 L342.7,1373.2 L348.7,1373.2 L354.7,1365.5 L360.6,1360.9 L366.6,1360.9 L372.5,1360.9 L378.5,1360.9 L384.4,1352.6 L390.4,1349.1 L396.3,1349.1 L402.3,1349.1 L408.3,1346.4 L414.2,1344.2 L420.2,1343.1 L426.1,1343.1 L432.1,1343.1 L438.0,1338.7 L444.0,1338.6 L449.9,1338.6 L455.9,1338.6 L461.9,1338.6 L467.8,1338.6 L473.8,1336.1 L479.7,1336.1 L485.7,1336.1 L491.6,1336.1 L497.6,1333.0 L503.6,1333.0 L509.5,1327.4 L515.5,1325.3 L521.4,1324.1 L527.4,1321.9 L533.3,1310.4 L539.3,1309.8 L545.2,1309.8 L551.2,1309.8 L557.2,1309.8 L563.1,1299.0 L569.1,1299.0 L575.0,1293.6 L581.0,1293.6 L586.9,1293.6 L592.9,1293.6 L598.8,1293.6 L604.8,1291.9 L610.8,1283.4 L616.7,1277.2 L622.7,1277.2 L628.6,1272.2 L634.6,1272.2 L640.5,1272.2 L646.5,1272.2 L652.5,1272.2 L658.4,1272.2 L664.4,1272.2 L670.3,1272.2 L676.3,1272.2 L682.2,1257.8 L688.2,1257.8 L694.1,1257.8 L700.1,1257.8 L706.1,1257.8 L712.0,1250.1 L718.0,1237.4 L723.9,1237.4 L729.9,1236.0 L735.8,1231.8 L741.8,1231.8 L747.7,1228.7 L753.7,1228.7 L759.7,1226.5 L765.6,1226.5 L771.6,1226.0 L777.5,1226.0 L783.5,1222.5 L789.4,1217.4 L795.4,1217.4 L801.4,1217.4 L807.3,1217.4 L813.3,1217.4 L819.2,1217.4 L825.2,1217.4 L831.1,1217.4 L837.1,1211.8 L843.0,1211.8 L849.0,1211.8 L855.0,1208.9 L860.9,1208.9 L866.9,1208.9 L872.8,1208.9 L878.8,1208.4 L884.7,1206.6 L890.7,1206.6 L896.6,1205.3 L902.6,1205.3 L908.6,1205.1 L914.5,1205.1 L920.5,1204.9 L926.4,1204.9 L932.4,1203.5 L938.3,1203.5 L944.3,1203.5 L950.3,1203.5 L956.2,1200.4 L962.2,1200.4 L968.1,1199.5 L974.1,1199.5 L980.0,1199.1 L986.0,1199.1 L991.9,1199.1 L997.9,1199.1 L1003.9,1196.5 L1009.8,1196.5 L1015.8,1196.5 L1021.7,1196.5 L1027.7,1196.5 L1033.6,1196.5 L1039.6,1194.4 L1045.5,1194.4 L1051.5,1191.8 L1057.5,1184.9 L1063.4,1182.2 L1069.4,1178.4 L1075.3,1177.9 L1081.3,1177.9 L1087.2,1177.9 L1093.2,1173.8 L1099.2,1173.8 L1105.1,1173.8 L1111.1,1173.8 L1117.0,1171.0 L1123.0,1168.8 L1128.9,1168.6 L1134.9,1168.6 L1140.8,1168.6 L1146.8,1168.6 L1152.8,1168.0 L1158.7,1164.8 L1164.7,1164.3 L1170.6,1164.3 L1176.6,1163.0 L1182.5,1163.0 L1188.5,1163.0 L1194.4,1162.2 L1200.4,1160.1 L1206.4,1160.1 L1212.3,1160.1 L1218.3,1160.1 L1224.2,1159.8 L1230.2,1159.8 L1236.1,1159.8 L1242.1,1159.8 L1248.1,1151.8 L1254.0,1151.8 L1260.0,1151.8 L1265.9,1151.8 L1271.9,1151.8 L1277.8,1151.8 L1283.8,1149.6 L1289.7,1149.6 L1295.7,1149.5 L1301.7,1149.5 L1307.6,1147.6 L1313.6,1147.6 L1319.5,1144.3 L1325.5,1141.5 L1331.4,1140.6 L1337.4,1140.6 L1343.3,1140.5 L1349.3,1140.5 L1355.3,1139.4 L1361.2,1139.4 L1367.2,1139.3 L1373.1,1136.9 L1379.1,1136.6 L1385.0,1136.6 L1391.0,1136.6 L1397.0,1136.6 L1402.9,1136.4 L1408.9,1136.4 L1414.8,1136.4 L1420.8,1135.5 L1426.7,1135.5 L1432.7,1135.5 L1438.6,1134.1 L1444.6,1132.0 L1450.6,1132.0 L1456.5,1131.4 L1462.5,1131.4 L1468.4,1131.4 L1474.4,1131.4 L1480.3,1131.4 L1486.3,1131.4 L1492.2,1131.4 L1498.2,1131.3 L1504.2,1129.5 L1510.1,1129.5 L1516.1,1129.5 L1522.0,1129.5 L1528.0,1129.5 L1533.9,1125.7 L1539.9,1122.9 L1545.9,1122.6 L1551.8,1122.6 L1557.8,1122.6 L1563.7,1122.6 L1569.7,1122.6 L1575.6,1116.7 L1581.6,1116.7 L1587.5,1116.7 L1593.5,1111.7 L1599.5,1111.4 L1605.4,1109.6 L1611.4,1109.2 L1617.3,1109.2 L1623.3,1107.1 L1629.2,1107.1 L1635.2,1107.1 L1641.1,1106.9 L1647.1,1106.9 L1653.1,1106.2 L1659.0,1106.0 L1665.0,1106.0 L1670.9,1106.0 L1676.9,1105.9 L1682.8,1105.9 L1688.8,1105.1 L1694.8,1105.0 L1700.7,1105.0 L1706.7,1102.7 L1712.6,1102.7 L1718.6,1102.7 L1724.5,1102.7 L1730.5,1101.6 L1736.4,1101.2 L1742.4,1099.6 L1748.4,1098.1 L1754.3,1098.1 L1760.3,1098.1 L1766.2,1098.1 L1772.2,1098.1 L1778.1,1098.1 L1784.1,1095.6 L1790.0,1093.5 L1796.0,1093.5 L1802.0,1093.5 L1807.9,1093.5 L1813.9,1093.5 L1819.8,1093.3 L1825.8,1093.3 L1831.7,1093.3 L1837.7,1092.7 L1843.7,1092.7 L1849.6,1092.7 L1855.6,1091.5 L1861.5,1090.1 L1867.5,1089.4 L1873.4,1089.4 L1879.4,1088.8 L1885.3,1086.2 L1891.3,1086.2 L1897.3,1086.2 L1903.2,1086.2 L1909.2,1086.2 L1915.1,1086.2 L1921.1,1086.2 L1927.0,1086.0 L1933.0,1086.0 L1938.9,1083.8 L1944.9,1082.2 L1950.9,1082.2 L1956.8,1077.4 L1962.8,1076.9 L1968.7,1076.9 L1974.7,1075.2 L1980.6,1075.2 L1986.6,1075.2 L1992.6,1075.2 L1998.5,1072.0 L2004.5,1072.0 L2010.4,1072.0 L2016.4,1069.6 L2022.3,1069.6 L2028.3,1065.3 L2034.2,1065.3 L2040.2,1065.3 L2046.2,1063.2 L2052.1,1063.2 L2058.1,1063.2 L2064.0,1059.8 L2070.0,1059.8 L2075.9,1059.3 L2081.9,1059.3 L2087.8,1059.3 L2093.8,1059.3 L2099.8,1059.3 L2105.7,1059.3 L2111.7,1059.3 L2117.6,1058.4 L2123.6,1056.7 L2129.5,1056.7 L2135.5,1056.7 L2141.5,1056.7 L2147.4,1056.5 L2153.4,1056.5 L2159.3,1056.3 L2165.3,1055.4 L2171.2,1052.0 L2177.2,1052.0 L2183.1,1052.0 L2189.1,1049.2 L2195.1,1049.2 L2201.0,1049.2 L2207.0,1049.2 L2212.9,1047.0 L2218.9,1047.0 L2224.8,1047.0 L2230.8,1047.0 L2236.7,1047.0 L2242.7,1047.0 L2248.7,1047.0 L2254.6,1047.0 L2260.6,1047.0 L2266.5,1047.0 L2272.5,1047.0 L2278.4,1046.1 L2284.4,1046.1 L2290.4,1046.1 L2296.3,1046.1 L2302.3,1046.1 L2308.2,1045.2 L2314.2,1045.2 L2320.1,1044.8 L2326.1,1044.4 L2332.0,1044.4 L2338.0,1044.2 L2344.0,1043.0 L2349.9,1041.8 L2355.9,1041.6 L2361.8,1041.6 L2367.8,1041.6 L2373.7,1041.6 L2379.7,1041.1 L2385.6,1040.9 L2391.6,1040.9 L2397.6,1040.5 L2403.5,1040.5 L2409.5,1037.4 L2415.4,1036.9 L2421.4,1036.9 L2427.3,1036.9"/>
<path d="M253.4,1381.8 L259.4,1377.8 L265.3,1377.8 L271.3,1377.4 L277.2,1375.9 L283.2,1375.9 L289.1,1375.1 L295.1,1374.8 L301.0,1374.8 L307.0,1374.4 L313.0,1374.1 L318.9,1374.1 L324.9,1374.1 L330.8,1373.6 L336.8,1371.7 L342.7,1371.5 L348.7,1369.5 L354.7,1369.5 L360.6,1369.5 L366.6,1369.5 L372.5,1369.0 L378.5,1368.0 L384.4,1368.0 L390.4,1368.0 L396.3,1368.0 L402.3,1368.0 L408.3,1368.0 L414.2,1367.7 L420.2,1367.4 L426.1,1367.4 L432.1,1367.4 L438.0,1367.4 L444.0,1366.0 L449.9,1366.0 L455.9,1366.0 L461.9,1366.0 L467.8,1366.0 L473.8,1364.1 L479.7,1362.4 L485.7,1362.4 L491.6,1362.4 L497.6,1362.4 L503.6,1361.6 L509.5,1361.6 L515.5,1360.1 L521.4,1360.1 L527.4,1360.1 L533.3,1360.1 L539.3,1359.5 L545.2,1359.1 L551.2,1357.0 L557.2,1357.0 L563.1,1357.0 L569.1,1357.0 L575.0,1352.5 L581.0,1352.5 L586.9,1348.3 L592.9,1348.3 L598.8,1344.8 L604.8,1344.8 L610.8,1344.8 L616.7,1344.8 L622.7,1344.8 L628.6,1329.8 L634.6,1329.8 L640.5,1329.8 L646.5,1329.8 L652.5,1329.8 L658.4,1329.8 L664.4,1329.8 L670.3,1324.1 L676.3,1324.1 L682.2,1324.1 L688.2,1321.0 L694.1,1319.0 L700.1,1319.0 L706.1,1315.0 L712.0,1315.0 L718.0,1315.0 L723.9,1315.0 L729.9,1314.4 L735.8,1314.2 L741.8,1313.8 L747.7,1313.8 L753.7,1313.8 L759.7,1310.4 L765.6,1310.4 L771.6,1310.4 L777.5,1310.4 L783.5,1304.7 L789.4,1304.7 L795.4,1304.7 L801.4,1304.3 L807.3,1303.8 L813.3,1303.8 L819.2,1301.9 L825.2,1301.9 L831.1,1301.9 L837.1,1299.9 L843.0,1296.5 L849.0,1296.5 L855.0,1296.5 L860.9,1296.5 L866.9,1296.5 L872.8,1295.9 L878.8,1295.9 L884.7,1295.9 L890.7,1295.9 L896.6,1295.9 L902.6,1295.2 L908.6,1295.2 L914.5,1295.2 L920.5,1291.5 L926.4,1289.9 L932.4,1285.9 L938.3,1280.5 L944.3,1278.5 L950.3,1278.5 L956.2,1277.3 L962.2,1275.7 L968.1,1275.7 L974.1,1275.7 L980.0,1275.7 L986.0,1275.3 L991.9,1271.4 L997.9,1271.4 L1003.9,1271.4 L1009.8,1269.3 L1015.8,1269.3 L1021.7,1269.3 L1027.7,1269.1 L1033.6,1266.1 L1039.6,1266.1 L1045.5,1263.4 L1051.5,1263.4 L1057.5,1262.7 L1063.4,1261.1 L1069.4,1260.4 L1075.3,1258.4 L1081.3,1256.9 L1087.2,1255.5 L1093.2,1254.9 L1099.2,1251.1 L1105.1,1250.4 L1111.1,1248.4 L1117.0,1245.7 L1123.0,1245.7 L1128.9,1244.6 L1134.9,1243.5 L1140.8,1240.6 L1146.8,1239.5 L1152.8,1239.3 L1158.7,1233.8 L1164.7,1233.8 L1170.6,1231.8 L1176.6,1231.3 L1182.5,1231.3 L1188.5,1231.3 L1194.4,1231.3 L1200.4,1230.4 L1206.4,1230.4 L1212.3,1230.4 L1218.3,1228.1 L1224.2,1228.1 L1230.2,1228.1 L1236.1,1228.1 L1242.1,1228.1 L1248.1,1228.1 L1254.0,1228.1 L1260.0,1227.5 L1265.9,1225.1 L1271.9,1225.1 L1277.8,1223.6 L1283.8,1223.6 L1289.7,1223.6 L1295.7,1223.5 L1301.7,1221.7 L1307.6,1221.7 L1313.6,1220.9 L1319.5,1220.9 L1325.5,1215.4 L1331.4,1215.4 L1337.4,1214.2 L1343.3,1213.6 L1349.3,1213.6 L1355.3,1212.8 L1361.2,1212.8 L1367.2,1212.7 L1373.1,1212.7 L1379.1,1211.5 L1385.0,1211.0 L1391.0,1210.9 L1397.0,1210.0 L1402.9,1210.0 L1408.9,1210.0 L1414.8,1209.0 L1420.8,1207.6 L1426.7,1207.6 L1432.7,1207.6 L1438.6,1201.6 L1444.6,1193.2 L1450.6,1193.2 L1456.5,1192.8 L1462.5,1192.8 L1468.4,1192.4 L1474.4,1190.7 L1480.3,1186.9 L1486.3,1186.9 L1492.2,1186.8 L1498.2,1186.7 L1504.2,1186.7 L1510.1,1185.4 L1516.1,1185.4 L1522.0,1185.4 L1528.0,1184.6 L1533.9,1184.6 L1539.9,1184.1 L1545.9,1184.1 L1551.8,1184.1 L1557.8,1184.1 L1563.7,1183.9 L1569.7,1183.9 L1575.6,1182.9 L1581.6,1180.8 L1587.5,1177.0 L1593.5,1177.0 L1599.5,1177.0 L1605.4,1176.0 L1611.4,1175.9 L1617.3,1175.9 L1623.3,1175.0 L1629.2,1174.4 L1635.2,1173.2 L1641.1,1172.9 L1647.1,1172.9 L1653.1,1172.9 L1659.0,1172.6 L1665.0,1172.6 L1670.9,1172.2 L1676.9,1170.7 L1682.8,1170.7 L1688.8,1170.4 L1694.8,1170.4 L1700.7,1170.0 L1706.7,1170.0 L1712.6,1169.1 L1718.6,1169.0 L1724.5,1165.9 L1730.5,1165.9 L1736.4,1165.9 L1742.4,1165.9 L1748.4,1165.9 L1754.3,1165.7 L1760.3,1164.7 L1766.2,1164.5 L1772.2,1164.5 L1778.1,1164.5 L1784.1,1164.5 L1790.0,1164.5 L1796.0,1163.1 L1802.0,1163.1 L1807.9,1162.4 L1813.9,1162.4 L1819.8,1162.4 L1825.8,1160.9 L1831.7,1157.5 L1837.7,1157.1 L1843.7,1155.9 L1849.6,1155.9 L1855.6,1155.6 L1861.5,1155.6 L1867.5,1153.8 L1873.4,1153.8 L1879.4,1147.9 L1885.3,1147.9 L1891.3,1147.7 L1897.3,1147.7 L1903.2,1147.7 L1909.2,1147.2 L1915.1,1147.2 L1921.1,1147.2 L1927.0,1147.2 L1933.0,1145.6 L1938.9,1144.9 L1944.9,1144.9 L1950.9,1144.9 L1956.8,1137.1 L1962.8,1135.9 L1968.7,1135.9 L1974.7,1133.7 L1980.6,1132.4 L1986.6,1131.9 L1992.6,1131.9 L1998.5,1131.9 L2004.5,1131.7 L2010.4,1123.2 L2016.4,1122.9 L2022.3,1122.9 L2028.3,1122.9 L2034.2,1119.0 L2040.2,1112.7 L2046.2,1112.7 L2052.1,1112.7 L2058.1,1105.3 L2064.0,1104.9 L2070.0,1104.9 L2075.9,1104.0 L2081.9,1104.0 L2087.8,1102.9 L2093.8,1102.9 L2099.8,1102.7 L2105.7,1102.7 L2111.7,1102.7 L2117.6,1102.7 L2123.6,1102.5 L2129.5,1102.5 L2135.5,1101.5 L2141.5,1096.0 L2147.4,1096.0 L2153.4,1096.0 L2159.3,1092.1 L2165.3,1089.6 L2171.2,1089.6 L2177.2,1088.2 L2183.1,1088.2 L2189.1,1088.2 L2195.1,1086.7 L2201.0,1086.3 L2207.0,1082.8 L2212.9,1082.8 L2218.9,1082.0 L2224.8,1078.8 L2230.8,1078.8 L2236.7,1078.4 L2242.7,1077.3 L2248.7,1074.8 L2254.6,1074.8 L2260.6,1068.4 L2266.5,1068.4 L2272.5,1068.4 L2278.4,1067.4 L2284.4,1065.8 L2290.4,1065.8 L2296.3,1065.8 L2302.3,1065.2 L2308.2,1065.2 L2314.2,1065.2 L2320.1,1065.2 L2326.1,1065.2 L2332.0,1058.9 L2338.0,1058.9 L2344.0,1058.1 L2349.9,1056.1 L2355.9,1056.1 L2361.8,1053.3 L2367.8,1053.3 L2373.7,1053.3 L2379.7,1053.3 L2385.6,1051.3 L2391.6,1051.3 L2397.6,1046.1 L2403.5,1046.1 L2409.5,1046.1 L2415.4,1046.1 L2421.4,1046.1 L2427.3,1046.1"/>
<path d="M253.4,1381.6 L259.4,1379.8 L265.3,1379.8 L271.3,1379.8 L277.2,1379.5 L283.2,1376.7 L289.1,1376.7 L295.1,1376.4 L301.0,1376.1 L307.0,1376.1 L313.0,1376.1 L318.9,1376.1 L324.9,1376.1 L330.8,1376.1 L336.8,1376.1 L342.7,1375.0 L348.7,1373.2 L354.7,1373.0 L360.6,1373.0 L366.6,1372.3 L372.5,1371.1 L378.5,1370.4 L384.4,1370.4 L390.4,1370.1 L396.3,1370.1 L402.3,1370.1 L408.3,1370.0 L414.2,1370.0 L420.2,1370.0 L426.1,1370.0 L432.1,1369.1 L438.0,1367.5 L444.0,1367.5 L449.9,1367.5 L455.9,1367.5 L461.9,1367.5 L467.8,1367.5 L473.8,1366.3 L479.7,1364.2 L485.7,1364.2 L491.6,1362.9 L497.6,1362.7 L503.6,1361.7 L509.5,1361.7 L515.5,1360.9 L521.4,1360.9 L527.4,1360.9 L533.3,1357.8 L539.3,1357.8 L545.2,1357.2 L551.2,1355.1 L557.2,1353.5 L563.1,1353.5 L569.1,1353.5 L575.0,1353.5 L581.0,1348.8 L586.9,1348.8 L592.9,1347.3 L598.8,1347.3 L604.8,1345.7 L610.8,1342.5 L616.7,1337.8 L622.7,1337.4 L628.6,1336.5 L634.6,1334.5 L640.5,1334.5 L646.5,1334.5 L652.5,1334.5 L658.4,1333.7 L664.4,1333.7 L670.3,1333.7 L676.3,1333.7 L682.2,1333.6 L688.2,1333.6 L694.1,1333.6 L700.1,1330.7 L706.1,1329.6 L712.0,1329.4 L718.0,1327.8 L723.9,1326.9 L729.9,1326.9 L735.8,1326.9 L741.8,1325.8 L747.7,1323.8 L753.7,1323.0 L759.7,1322.6 L765.6,1320.2 L771.6,1318.2 L777.5,1318.1 L783.5,1318.1 L789.4,1318.1 L795.4,1317.7 L801.4,1313.9 L807.3,1313.6 L813.3,1312.8 L819.2,1309.9 L825.2,1309.8 L831.1,1309.8 L837.1,1309.5 L843.0,1309.5 L849.0,1296.5 L855.0,1296.5 L860.9,1295.0 L866.9,1295.0 L872.8,1293.4 L878.8,1293.4 L884.7,1293.4 L890.7,1293.4 L896.6,1292.4 L902.6,1292.0 L908.6,1292.0 L914.5,1292.0 L920.5,1292.0 L926.4,1285.3 L932.4,1285.3 L938.3,1285.3 L944.3,1281.7 L950.3,1276.3 L956.2,1274.3 L962.2,1271.4 L968.1,1271.4 L974.1,1271.4 L980.0,1271.4 L986.0,1271.4 L991.9,1271.4 L997.9,1271.4 L1003.9,1266.7 L1009.8,1266.7 L1015.8,1266.7 L1021.7,1266.7 L1027.7,1266.7 L1033.6,1266.7 L1039.6,1266.7 L1045.5,1266.7 L1051.5,1262.6 L1057.5,1262.6 L1063.4,1257.4 L1069.4,1253.8 L1075.3,1253.8 L1081.3,1253.8 L1087.2,1252.8 L1093.2,1252.5 L1099.2,1252.4 L1105.1,1252.4 L1111.1,1252.4 L1117.0,1252.4 L1123.0,1241.0 L1128.9,1240.6 L1134.9,1240.6 L1140.8,1237.2 L1146.8,1237.2 L1152.8,1235.0 L1158.7,1235.0 L1164.7,1235.0 L1170.6,1234.7 L1176.6,1233.1 L1182.5,1228.6 L1188.5,1228.6 L1194.4,1226.4 L1200.4,1226.4 L1206.4,1224.7 L1212.3,1224.7 L1218.3,1224.7 L1224.2,1224.3 L1230.2,1224.3 L1236.1,1224.3 L1242.1,1224.3 L1248.1,1224.3 L1254.0,1224.3 L1260.0,1224.3 L1265.9,1224.3 L1271.9,1222.6 L1277.8,1222.6 L1283.8,1222.6 L1289.7,1222.2 L1295.7,1222.2 L1301.7,1220.4 L1307.6,1215.8 L1313.6,1215.8 L1319.5,1213.1 L1325.5,1213.1 L1331.4,1212.4 L1337.4,1212.4 L1343.3,1212.4 L1349.3,1212.4 L1355.3,1212.4 L1361.2,1211.9 L1367.2,1211.9 L1373.1,1211.8 L1379.1,1211.8 L1385.0,1211.8 L1391.0,1211.8 L1397.0,1211.8 L1402.9,1210.0 L1408.9,1210.0 L1414.8,1210.0 L1420.8,1209.8 L1426.7,1209.8 L1432.7,1207.4 L1438.6,1207.0 L1444.6,1203.8 L1450.6,1203.2 L1456.5,1202.1 L1462.5,1201.9 L1468.4,1201.9 L1474.4,1200.5 L1480.3,1199.7 L1486.3,1196.0 L1492.2,1195.6 L1498.2,1195.6 L1504.2,1195.6 L1510.1,1195.0 L1516.1,1193.9 L1522.0,1193.9 L1528.0,1193.9 L1533.9,1193.9 L1539.9,1191.9 L1545.9,1191.9 L1551.8,1191.9 L1557.8,1188.7 L1563.7,1187.2 L1569.7,1187.2 L1575.6,1186.6 L1581.6,1185.8 L1587.5,1185.2 L1593.5,1182.9 L1599.5,1182.9 L1605.4,1182.9 L1611.4,1181.9 L1617.3,1179.7 L1623.3,1179.7 L1629.2,1179.7 L1635.2,1179.7 L1641.1,1179.7 L1647.1,1179.7 L1653.1,1179.4 L1659.0,1179.4 L1665.0,1179.4 L1670.9,1168.8 L1676.9,1168.8 L1682.8,1168.8 L1688.8,1165.0 L1694.8,1165.0 L1700.7,1164.9 L1706.7,1163.0 L1712.6,1159.9 L1718.6,1159.9 L1724.5,1156.9 L1730.5,1156.9 L1736.4,1154.0 L1742.4,1153.1 L1748.4,1153.1 L1754.3,1150.5 L1760.3,1147.3 L1766.2,1144.8 L1772.2,1143.4 L1778.1,1141.9 L1784.1,1141.9 L1790.0,1140.8 L1796.0,1140.8 L1802.0,1140.0 L1807.9,1140.0 L1813.9,1140.0 L1819.8,1140.0 L1825.8,1139.2 L1831.7,1139.2 L1837.7,1139.2 L1843.7,1137.5 L1849.6,1137.5 L1855.6,1137.5 L1861.5,1136.9 L1867.5,1136.9 L1873.4,1136.9 L1879.4,1136.9 L1885.3,1136.4 L1891.3,1136.4 L1897.3,1136.4 L1903.2,1136.4 L1909.2,1133.1 L1915.1,1131.0 L1921.1,1131.0 L1927.0,1131.0 L1933.0,1131.0 L1938.9,1128.6 L1944.9,1126.1 L1950.9,1125.0 L1956.8,1122.6 L1962.8,1122.6 L1968.7,1118.2 L1974.7,1118.2 L1980.6,1113.2 L1986.6,1112.0 L1992.6,1112.0 L1998.5,1108.9 L2004.5,1108.9 L2010.4,1108.9 L2016.4,1108.9 L2022.3,1108.9 L2028.3,1108.9 L2034.2,1108.9 L2040.2,1104.9 L2046.2,1097.7 L2052.1,1097.7 L2058.1,1096.8 L2064.0,1096.1 L2070.0,1094.1 L2075.9,1094.1 L2081.9,1094.1 L2087.8,1094.1 L2093.8,1094.1 L2099.8,1094.1 L2105.7,1089.3 L2111.7,1089.3 L2117.6,1089.3 L2123.6,1087.7 L2129.5,1079.1 L2135.5,1077.9 L2141.5,1075.2 L2147.4,1075.2 L2153.4,1075.2 L2159.3,1071.7 L2165.3,1071.7 L2171.2,1071.7 L2177.2,1071.7 L2183.1,1071.1 L2189.1,1071.1 L2195.1,1071.1 L2201.0,1071.1 L2207.0,1071.1 L2212.9,1069.6 L2218.9,1069.6 L2224.8,1069.6 L2230.8,1069.6 L2236.7,1069.6 L2242.7,1069.6 L2248.7,1069.6 L2254.6,1069.6 L2260.6,1069.6 L2266.5,1069.6 L2272.5,1068.1 L2278.4,1068.1 L2284.4,1068.1 L2290.4,1066.4 L2296.3,1066.4 L2302.3,1066.4 L2308.2,1066.0 L2314.2,1066.0 L2320.1,1059.9 L2326.1,1056.2 L2332.0,1053.8 L2338.0,1053.8 L2344.0,1052.7 L2349.9,1052.7 L2355.9,1051.3 L2361.8,1049.9 L2367.8,1047.5 L2373.7,1045.4 L2379.7,1044.2 L2385.6,1044.2 L2391.6,1040.0 L2397.6,1040.0 L2403.5,1039.5 L2409.5,1037.0 L2415.4,1035.1 L2421.4,1034.2 L2427.3,1034.2"/>
<path d="M253.4,1379.8 L259.4,1376.9 L265.3,1376.9 L271.3,1375.3 L277.2,1375.3 L283.2,1372.8 L289.1,1372.8 L295.1,1372.8 L301.0,1372.8 L307.0,1371.8 L313.0,1371.8 L318.9,1371.8 L324.9,1371.8 L330.8,1371.8 L336.8,1371.8 L342.7,1371.5 L348.7,1369.8 L354.7,1369.8 L360.6,1369.7 L366.6,1358.8 L372.5,1358.8 L378.5,1358.8 L384.4,1358.8 L390.4,1358.8 L396.3,1358.3 L402.3,1358.3 L408.3,1358.3 L414.2,1358.0 L420.2,1358.0 L426.1,1350.5 L432.1,1350.5 L438.0,1348.5 L444.0,1347.7 L449.9,1344.3 L455.9,1344.3 L461.9,1344.3 L467.8,1344.3 L473.8,1343.2 L479.7,1340.0 L485.7,1340.0 L491.6,1338.8 L497.6,1338.8 L503.6,1335.1 L509.5,1335.1 L515.5,1331.4 L521.4,1330.3 L527.4,1330.3 L533.3,1330.3 L539.3,1330.3 L545.2,1330.3 L551.2,1330.3 L557.2,1330.3 L563.1,1330.3 L569.1,1328.1 L575.0,1328.1 L581.0,1328.1 L586.9,1324.2 L592.9,1324.2 L598.8,1324.2 L604.8,1324.2 L610.8,1324.2 L616.7,1324.0 L622.7,1315.1 L628.6,1315.1 L634.6,1315.1 L640.5,1315.1 L646.5,1314.5 L652.5,1314.5 L658.4,1309.0 L664.4,1309.0 L670.3,1309.0 L676.3,1302.9 L682.2,1302.9 L688.2,1302.9 L694.1,1302.9 L700.1,1297.0 L706.1,1295.6 L712.0,1295.6 L718.0,1295.6 L723.9,1292.4 L729.9,1292.4 L735.8,1291.4 L741.8,1291.4 L747.7,1291.2 L753.7,1291.2 L759.7,1288.8 L765.6,1288.8 L771.6,1288.6 L777.5,1288.6 L783.5,1284.9 L789.4,1284.9 L795.4,1284.9 L801.4,1284.9 L807.3,1264.5 L813.3,1264.5 L819.2,1264.5 L825.2,1258.4 L831.1,1258.4 L837.1,1257.7 L843.0,1257.7 L849.0,1257.7 L855.0,1256.3 L860.9,1256.3 L866.9,1251.7 L872.8,1249.4 L878.8,1249.2 L884.7,1249.2 L890.7,1249.2 L896.6,1249.2 L902.6,1249.2 L908.6,1249.2 L914.5,1246.6 L920.5,1243.9 L926.4,1243.9 L932.4,1243.9 L938.3,1243.9 L944.3,1243.0 L950.3,1243.0 L956.2,1243.0 L962.2,1241.3 L968.1,1241.3 L974.1,1241.3 L980.0,1233.9 L986.0,1233.9 L991.9,1231.8 L997.9,1231.8 L1003.9,1231.8 L1009.8,1231.8 L1015.8,1231.8 L1021.7,1230.5 L1027.7,1228.0 L1033.6,1228.0 L1039.6,1228.0 L1045.5,1228.0 L1051.5,1228.0 L1057.5,1226.2 L1063.4,1226.2 L1069.4,1224.8 L1075.3,1224.8 L1081.3,1224.8 L1087.2,1224.8 L1093.2,1224.8 L1099.2,1220.2 L1105.1,1220.2 L1111.1,1210.4 L1117.0,1198.5 L1123.0,1191.4 L1128.9,1191.4 L1134.9,1191.4 L1140.8,1189.9 L1146.8,1189.8 L1152.8,1189.7 L1158.7,1189.7 L1164.7,1189.7 L1170.6,1188.8 L1176.6,1188.6 L1182.5,1188.6 L1188.5,1186.9 L1194.4,1186.9 L1200.4,1186.9 L1206.4,1186.9 L1212.3,1186.9 L1218.3,1186.1 L1224.2,1185.7 L1230.2,1183.7 L1236.1,1182.5 L1242.1,1179.1 L1248.1,1177.6 L1254.0,1177.2 L1260.0,1177.2 L1265.9,1176.5 L1271.9,1175.6 L1277.8,1175.5 L1283.8,1175.5 L1289.7,1175.5 L1295.7,1175.5 L1301.7,1175.2 L1307.6,1174.7 L1313.6,1171.3 L1319.5,1171.3 L1325.5,1171.3 L1331.4,1171.3 L1337.4,1171.1 L1343.3,1170.8 L1349.3,1170.6 L1355.3,1169.3 L1361.2,1168.4 L1367.2,1167.8 L1373.1,1167.8 L1379.1,1167.8 L1385.0,1164.8 L1391.0,1164.3 L1397.0,1164.2 L1402.9,1163.8 L1408.9,1159.8 L1414.8,1159.5 L1420.8,1156.1 L1426.7,1156.1 L1432.7,1155.5 L1438.6,1155.5 L1444.6,1155.5 L1450.6,1155.1 L1456.5,1155.1 L1462.5,1155.1 L1468.4,1155.1 L1474.4,1155.1 L1480.3,1155.1 L1486.3,1148.6 L1492.2,1147.2 L1498.2,1147.2 L1504.2,1143.4 L1510.1,1143.4 L1516.1,1142.5 L1522.0,1138.6 L1528.0,1138.6 L1533.9,1138.6 L1539.9,1138.6 L1545.9,1138.6 L1551.8,1138.3 L1557.8,1138.3 L1563.7,1134.6 L1569.7,1134.6 L1575.6,1134.6 L1581.6,1132.3 L1587.5,1132.3 L1593.5,1129.5 L1599.5,1129.5 L1605.4,1129.5 L1611.4,1129.5 L1617.3,1128.7 L1623.3,1124.9 L1629.2,1121.5 L1635.2,1121.5 L1641.1,1119.6 L1647.1,1118.1 L1653.1,1113.8 L1659.0,1113.8 L1665.0,1113.8 L1670.9,1113.8 L1676.9,1113.8 L1682.8,1113.8 L1688.8,1113.4 L1694.8,1113.4 L1700.7,1113.4 L1706.7,1112.6 L1712.6,1112.6 L1718.6,1112.6 L1724.5,1112.6 L1730.5,1112.6 L1736.4,1112.6 L1742.4,1112.6 L1748.4,1112.6 L1754.3,1112.3 L1760.3,1111.4 L1766.2,1111.0 L1772.2,1111.0 L1778.1,1110.1 L1784.1,1110.1 L1790.0,1110.1 L1796.0,1110.1 L1802.0,1110.1 L1807.9,1110.1 L1813.9,1109.6 L1819.8,1109.6 L1825.8,1109.6 L1831.7,1109.6 L1837.7,1109.6 L1843.7,1108.6 L1849.6,1108.6 L1855.6,1108.2 L1861.5,1106.1 L1867.5,1106.1 L1873.4,1106.1 L1879.4,1105.8 L1885.3,1103.1 L1891.3,1103.1 L1897.3,1100.7 L1903.2,1100.7 L1909.2,1100.7 L1915.1,1099.0 L1921.1,1099.0 L1927.0,1097.5 L1933.0,1096.2 L1938.9,1096.2 L1944.9,1095.7 L1950.9,1095.7 L1956.8,1093.6 L1962.8,1093.5 L1968.7,1085.5 L1974.7,1085.5 L1980.6,1083.9 L1986.6,1082.7 L1992.6,1082.5 L1998.5,1082.4 L2004.5,1082.4 L2010.4,1082.4 L2016.4,1081.4 L2022.3,1080.6 L2028.3,1080.6 L2034.2,1078.2 L2040.2,1078.2 L2046.2,1078.2 L2052.1,1077.9 L2058.1,1077.9 L2064.0,1074.5 L2070.0,1074.5 L2075.9,1070.2 L2081.9,1070.2 L2087.8,1070.2 L2093.8,1070.2 L2099.8,1070.2 L2105.7,1068.8 L2111.7,1068.8 L2117.6,1067.5 L2123.6,1067.5 L2129.5,1067.0 L2135.5,1067.0 L2141.5,1067.0 L2147.4,1060.6 L2153.4,1059.7 L2159.3,1059.7 L2165.3,1059.5 L2171.2,1058.7 L2177.2,1058.7 L2183.1,1058.7 L2189.1,1058.7 L2195.1,1058.7 L2201.0,1058.7 L2207.0,1055.3 L2212.9,1054.7 L2218.9,1053.2 L2224.8,1052.5 L2230.8,1052.5 L2236.7,1052.5 L2242.7,1052.5 L2248.7,1052.5 L2254.6,1052.5 L2260.6,1052.5 L2266.5,1051.9 L2272.5,1051.9 L2278.4,1051.9 L2284.4,1051.9 L2290.4,1050.8 L2296.3,1050.8 L2302.3,1050.8 L2308.2,1050.8 L2314.2,1050.8 L2320.1,1050.6 L2326.1,1050.3 L2332.0,1050.3 L2338.0,1046.9 L2344.0,1046.9 L2349.9,1046.4 L2355.9,1046.4 L2361.8,1046.4 L2367.8,1046.4 L2373.7,1044.4 L2379.7,1044.2 L2385.6,1044.2 L2391.6,1044.2 L2397.6,1044.2 L2403.5,1043.8 L2409.5,1042.6 L2415.4,1042.6 L2421.4,1042.0 L2427.3,1042.0"/>
<path d="M253.4,1380.5 L259.4,1380.5 L265.3,1380.5 L271.3,1378.8 L277.2,1378.3 L283.2,1378.3 L289.1,1377.1 L295.1,1377.1 L301.0,1376.4 L307.0,1371.4 L313.0,1371.4 L318.9,1370.7 L324.9,1370.7 L330.8,1367.6 L336.8,1366.8 L342.7,1366.8 L348.7,1366.8 L354.7,1365.7 L360.6,1365.7 L366.6,1365.7 L372.5,1365.7 L378.5,1363.7 L384.4,1363.4 L390.4,1363.4 L396.3,1363.4 L402.3,1363.4 L408.3,1359.4 L414.2,1359.4 L420.2,1357.0 L426.1,1354.6 L432.1,1352.7 L438.0,1346.6 L444.0,1345.5 L449.9,1345.5 L455.9,1345.5 L461.9,1345.5 L467.8,1345.5 L473.8,1345.5 L479.7,1345.5 L485.7,1343.8 L491.6,1342.2 L497.6,1342.2 L503.6,1340.8 L509.5,1331.8 L515.5,1331.8 L521.4,1331.8 L527.4,1331.7 L533.3,1331.5 L539.3,1331.5 L545.2,1331.5 L551.2,1331.5 L557.2,1331.5 L563.1,1331.5 L569.1,1331.5 L575.0,1325.5 L581.0,1320.5 L586.9,1315.7 L592.9,1313.1 L598.8,1311.4 L604.8,1311.4 L610.8,1310.7 L616.7,1309.9 L622.7,1303.6 L628.6,1303.6 L634.6,1302.5 L640.5,1302.5 L646.5,1301.8 L652.5,1301.8 L658.4,1301.8 L664.4,1301.8 L670.3,1295.5 L676.3,1295.2 L682.2,1294.2 L688.2,1288.8 L694.1,1288.8 L700.1,1288.8 L706.1,1287.0 L712.0,1287.0 L718.0,1287.0 L723.9,1286.2 L729.9,1286.2 L735.8,1281.3 L741.8,1276.0 L747.7,1276.0 L753.7,1276.0 L759.7,1274.8 L765.6,1270.6 L771.6,1270.6 L777.5,1265.8 L783.5,1265.8 L789.4,1264.4 L795.4,1259.3 L801.4,1254.8 L807.3,1254.8 L813.3,1254.8 L819.2,1254.8 L825.2,1252.6 L831.1,1250.1 L837.1,1250.1 L843.0,1249.1 L849.0,1247.1 L855.0,1246.9 L860.9,1246.9 L866.9,1245.3 L872.8,1243.6 L878.8,1241.5 L884.7,1241.5 L890.7,1241.5 L896.6,1241.5 L902.6,1239.9 L908.6,1237.6 L914.5,1237.4 L920.5,1237.4 L926.4,1237.3 L932.4,1235.0 L938.3,1235.0 L944.3,1235.0 L950.3,1235.0 L956.2,1235.0 L962.2,1235.0 L968.1,1235.0 L974.1,1235.0 L980.0,1231.8 L986.0,1229.9 L991.9,1229.9 L997.9,1226.9 L1003.9,1226.0 L1009.8,1224.1 L1015.8,1224.1 L1021.7,1224.1 L1027.7,1224.1 L1033.6,1224.1 L1039.6,1224.1 L1045.5,1218.9 L1051.5,1218.9 L1057.5,1218.3 L1063.4,1218.3 L1069.4,1215.3 L1075.3,1213.4 L1081.3,1213.4 L1087.2,1213.4 L1093.2,1210.2 L1099.2,1210.2 L1105.1,1209.6 L1111.1,1206.2 L1117.0,1201.7 L1123.0,1201.7 L1128.9,1201.7 L1134.9,1200.6 L1140.8,1193.7 L1146.8,1192.5 L1152.8,1192.5 L1158.7,1191.8 L1164.7,1191.8 L1170.6,1191.5 L1176.6,1189.3 L1182.5,1185.0 L1188.5,1185.0 L1194.4,1185.0 L1200.4,1181.8 L1206.4,1177.9 L1212.3,1177.9 L1218.3,1176.7 L1224.2,1176.7 L1230.2,1176.7 L1236.1,1176.7 L1242.1,1176.7 L1248.1,1176.7 L1254.0,1176.7 L1260.0,1176.7 L1265.9,1176.7 L1271.9,1176.7 L1277.8,1175.8 L1283.8,1175.8 L1289.7,1174.9 L1295.7,1169.2 L1301.7,1167.4 L1307.6,1167.4 L1313.6,1167.4 L1319.5,1167.4 L1325.5,1167.4 L1331.4,1167.4 L1337.4,1166.6 L1343.3,1166.6 L1349.3,1166.6 L1355.3,1164.4 L1361.2,1161.5 L1367.2,1161.5 L1373.1,1159.2 L1379.1,1159.2 L1385.0,1155.6 L1391.0,1147.8 L1397.0,1147.3 L1402.9,1147.3 L1408.9,1147.3 L1414.8,1144.1 L1420.8,1144.1 L1426.7,1140.9 L1432.7,1139.3 L1438.6,1138.5 L1444.6,1138.5 L1450.6,1138.5 L1456.5,1138.5 L1462.5,1137.3 L1468.4,1137.3 L1474.4,1137.1 L1480.3,1137.1 L1486.3,1137.1 L1492.2,1136.6 L1498.2,1135.3 L1504.2,1134.8 L1510.1,1134.6 L1516.1,1134.4 L1522.0,1134.1 L1528.0,1132.8 L1533.9,1132.8 L1539.9,1132.3 L1545.9,1132.3 L1551.8,1131.6 L1557.8,1131.6 L1563.7,1130.9 L1569.7,1130.9 L1575.6,1130.9 L1581.6,1130.6 L1587.5,1130.6 L1593.5,1130.3 L1599.5,1130.1 L1605.4,1129.8 L1611.4,1129.6 L1617.3,1129.6 L1623.3,1129.6 L1629.2,1129.6 L1635.2,1129.3 L1641.1,1129.3 L1647.1,1127.9 L1653.1,1127.9 L1659.0,1127.5 L1665.0,1127.5 L1670.9,1127.3 L1676.9,1126.7 L1682.8,1126.7 L1688.8,1126.7 L1694.8,1126.3 L1700.7,1125.4 L1706.7,1125.4 L1712.6,1125.4 L1718.6,1125.4 L1724.5,1125.4 L1730.5,1125.4 L1736.4,1125.4 L1742.4,1125.2 L1748.4,1125.2 L1754.3,1125.2 L1760.3,1124.5 L1766.2,1124.5 L1772.2,1124.5 L1778.1,1123.8 L1784.1,1123.4 L1790.0,1123.4 L1796.0,1122.5 L1802.0,1122.5 L1807.9,1117.1 L1813.9,1115.3 L1819.8,1115.0 L1825.8,1115.0 L1831.7,1114.0 L1837.7,1113.4 L1843.7,1106.3 L1849.6,1106.3 L1855.6,1106.3 L1861.5,1106.1 L1867.5,1106.1 L1873.4,1106.1 L1879.4,1106.1 L1885.3,1106.1 L1891.3,1106.1 L1897.3,1106.1 L1903.2,1106.1 L1909.2,1105.9 L1915.1,1104.9 L1921.1,1104.9 L1927.0,1104.2 L1933.0,1104.1 L1938.9,1100.6 L1944.9,1100.6 L1950.9,1100.6 L1956.8,1100.6 L1962.8,1095.6 L1968.7,1094.3 L1974.7,1094.3 L1980.6,1094.3 L1986.6,1091.5 L1992.6,1088.4 L1998.5,1088.4 L2004.5,1088.4 L2010.4,1088.4 L2016.4,1088.4 L2022.3,1088.4 L2028.3,1088.4 L2034.2,1087.4 L2040.2,1087.4 L2046.2,1087.0 L2052.1,1087.0 L2058.1,1087.0 L2064.0,1087.0 L2070.0,1087.0 L2075.9,1087.0 L2081.9,1087.0 L2087.8,1087.0 L2093.8,1086.8 L2099.8,1086.3 L2105.7,1086.3 L2111.7,1086.3 L2117.6,1086.3 L2123.6,1085.9 L2129.5,1085.9 L2135.5,1083.6 L2141.5,1083.6 L2147.4,1079.7 L2153.4,1079.7 L2159.3,1079.1 L2165.3,1078.4 L2171.2,1078.4 L2177.2,1073.2 L2183.1,1073.2 L2189.1,1071.5 L2195.1,1071.5 L2201.0,1071.5 L2207.0,1071.5 L2212.9,1071.5 L2218.9,1066.1 L2224.8,1065.4 L2230.8,1065.4 L2236.7,1065.2 L2242.7,1065.2 L2248.7,1064.9 L2254.6,1064.9 L2260.6,1063.8 L2266.5,1063.8 L2272.5,1063.8 L2278.4,1062.7 L2284.4,1062.7 L2290.4,1062.4 L2296.3,1061.4 L2302.3,1061.4 L2308.2,1061.4 L2314.2,1059.3 L2320.1,1059.3 L2326.1,1059.3 L2332.0,1059.3 L2338.0,1059.3 L2344.0,1059.3 L2349.9,1057.5 L2355.9,1057.2 L2361.8,1057.2 L2367.8,1056.7 L2373.7,1056.1 L2379.7,1056.1 L2385.6,1056.1 L2391.6,1055.1 L2397.6,1053.5 L2403.5,1053.5 L2409.5,1053.5 L2415.4,1050.2 L2421.4,1050.2 L2427.3,1050.2"/>
<path d="M253.4,1381.7 L259.4,1381.0 L265.3,1380.9 L271.3,1380.9 L277.2,1380.6 L283.2,1380.6 L289.1,1380.6 L295.1,1379.5 L301.0,1379.5 L307.0,1379.5 L313.0,1379.5 L318.9,1379.5 L324.9,1379.5 L330.8,1379.5 L336.8,1378.7 L342.7,1376.9 L348.7,1375.7 L354.7,1375.5 L360.6,1374.4 L366.6,1374.4 L372.5,1374.4 L378.5,1374.0 L384.4,1374.0 L390.4,1371.8 L396.3,1371.8 L402.3,1371.8 L408.3,1370.2 L414.2,1368.3 L420.2,1367.5 L426.1,1366.7 L432.1,1366.0 L438.0,1365.0 L444.0,1365.0 L449.9,1365.0 L455.9,1365.0 L461.9,1365.0 L467.8,1365.0 L473.8,1365.0 L479.7,1358.0 L485.7,1358.0 L491.6,1358.0 L497.6,1358.0 L503.6,1358.0 L509.5,1355.5 L515.5,1355.5 L521.4,1355.5 L527.4,1355.5 L533.3,1355.5 L539.3,1355.5 L545.2,1355.5 L551.2,1355.0 L557.2,1355.0 L563.1,1355.0 L569.1,1355.0 L575.0,1355.0 L581.0,1355.0 L586.9,1355.0 L592.9,1355.0 L598.8,1355.0 L604.8,1348.5 L610.8,1348.5 L616.7,1348.5 L622.7,1346.4 L628.6,1346.4 L634.6,1344.8 L640.5,1343.1 L646.5,1339.2 L652.5,1338.5 L658.4,1338.5 L664.4,1338.5 L670.3,1332.3 L676.3,1331.6 L682.2,1331.6 L688.2,1330.7 L694.1,1330.7 L700.1,1330.7 L706.1,1328.7 L712.0,1328.7 L718.0,1324.3 L723.9,1324.3 L729.9,1320.5 L735.8,1320.5 L741.8,1320.5 L747.7,1320.3 L753.7,1319.6 L759.7,1319.6 L765.6,1313.1 L771.6,1305.6 L777.5,1305.6 L783.5,1305.6 L789.4,1299.0 L795.4,1299.0 L801.4,1299.0 L807.3,1299.0 L813.3,1299.0 L819.2,1297.9 L825.2,1297.9 L831.1,1297.9 L837.1,1289.6 L843.0,1287.9 L849.0,1287.9 L855.0,1287.9 L860.9,1287.9 L866.9,1287.6 L872.8,1287.3 L878.8,1283.6 L884.7,1279.0 L890.7,1279.0 L896.6,1279.0 L902.6,1277.3 L908.6,1277.3 L914.5,1277.3 L920.5,1277.3 L926.4,1276.9 L932.4,1276.7 L938.3,1274.7 L944.3,1274.4 L950.3,1274.4 L956.2,1274.4 L962.2,1274.4 L968.1,1273.5 L974.1,1271.8 L980.0,1271.8 L986.0,1270.7 L991.9,1268.9 L997.9,1268.9 L1003.9,1268.9 L1009.8,1267.5 L1015.8,1267.0 L1021.7,1267.0 L1027.7,1267.0 L1033.6,1267.0 L1039.6,1267.0 L1045.5,1261.5 L1051.5,1261.5 L1057.5,1261.5 L1063.4,1258.6 L1069.4,1257.6 L1075.3,1257.6 L1081.3,1257.6 L1087.2,1257.1 L1093.2,1257.1 L1099.2,1252.7 L1105.1,1251.0 L1111.1,1251.0 L1117.0,1251.0 L1123.0,1251.0 L1128.9,1244.1 L1134.9,1244.1 L1140.8,1235.3 L1146.8,1235.3 L1152.8,1235.3 L1158.7,1232.8 L1164.7,1232.8 L1170.6,1232.8 L1176.6,1232.8 L1182.5,1232.8 L1188.5,1232.8 L1194.4,1231.5 L1200.4,1231.5 L1206.4,1231.5 L1212.3,1231.3 L1218.3,1231.3 L1224.2,1231.3 L1230.2,1231.3 L1236.1,1228.9 L1242.1,1228.0 L1248.1,1228.0 L1254.0,1226.8 L1260.0,1225.2 L1265.9,1225.2 L1271.9,1225.2 L1277.8,1225.2 L1283.8,1224.9 L1289.7,1224.3 L1295.7,1223.5 L1301.7,1223.5 L1307.6,1222.3 L1313.6,1217.2 L1319.5,1217.2 L1325.5,1213.6 L1331.4,1213.6 L1337.4,1207.4 L1343.3,1204.4 L1349.3,1204.4 L1355.3,1204.4 L1361.2,1204.4 L1367.2,1204.3 L1373.1,1203.6 L1379.1,1203.6 L1385.0,1199.4 L1391.0,1198.8 L1397.0,1198.8 L1402.9,1198.8 L1408.9,1197.0 L1414.8,1194.1 L1420.8,1194.1 L1426.7,1194.1 L1432.7,1193.8 L1438.6,1193.8 L1444.6,1193.8 L1450.6,1192.7 L1456.5,1192.7 L1462.5,1192.7 L1468.4,1192.7 L1474.4,1185.7 L1480.3,1185.7 L1486.3,1182.8 L1492.2,1182.8 L1498.2,1182.2 L1504.2,1182.2 L1510.1,1181.8 L1516.1,1181.8 L1522.0,1181.8 L1528.0,1181.7 L1533.9,1181.7 L1539.9,1181.7 L1545.9,1179.7 L1551.8,1179.7 L1557.8,1179.7 L1563.7,1179.7 L1569.7,1179.7 L1575.6,1179.7 L1581.6,1179.7 L1587.5,1179.7 L1593.5,1174.9 L1599.5,1174.9 L1605.4,1174.9 L1611.4,1169.8 L1617.3,1169.8 L1623.3,1169.8 L1629.2,1169.8 L1635.2,1169.8 L1641.1,1168.3 L1647.1,1168.3 L1653.1,1168.3 L1659.0,1167.2 L1665.0,1167.2 L1670.9,1167.2 L1676.9,1166.1 L1682.8,1166.1 L1688.8,1164.6 L1694.8,1164.6 L1700.7,1164.6 L1706.7,1164.6 L1712.6,1164.6 L1718.6,1151.4 L1724.5,1151.4 L1730.5,1151.4 L1736.4,1151.4 L1742.4,1149.9 L1748.4,1149.9 L1754.3,1149.9 L1760.3,1149.4 L1766.2,1149.4 L1772.2,1148.9 L1778.1,1148.9 L1784.1,1146.6 L1790.0,1146.6 L1796.0,1145.5 L1802.0,1144.7 L1807.9,1144.7 L1813.9,1142.3 L1819.8,1142.0 L1825.8,1142.0 L1831.7,1142.0 L1837.7,1142.0 L1843.7,1141.7 L1849.6,1140.8 L1855.6,1139.7 L1861.5,1139.7 L1867.5,1139.7 L1873.4,1134.5 L1879.4,1134.5 L1885.3,1132.7 L1891.3,1132.2 L1897.3,1132.2 L1903.2,1131.7 L1909.2,1131.7 L1915.1,1131.7 L1921.1,1121.5 L1927.0,1114.0 L1933.0,1114.0 L1938.9,1114.0 L1944.9,1114.0 L1950.9,1114.0 L1956.8,1108.5 L1962.8,1102.0 L1968.7,1102.0 L1974.7,1102.0 L1980.6,1102.0 L1986.6,1102.0 L1992.6,1093.0 L1998.5,1093.0 L2004.5,1093.0 L2010.4,1093.0 L2016.4,1093.0 L2022.3,1093.0 L2028.3,1093.0 L2034.2,1093.0 L2040.2,1093.0 L2046.2,1093.0 L2052.1,1093.0 L2058.1,1090.9 L2064.0,1087.3 L2070.0,1087.3 L2075.9,1086.9 L2081.9,1080.2 L2087.8,1080.2 L2093.8,1080.2 L2099.8,1080.2 L2105.7,1079.2 L2111.7,1079.2 L2117.6,1079.2 L2123.6,1076.2 L2129.5,1073.2 L2135.5,1073.2 L2141.5,1073.2 L2147.4,1066.6 L2153.4,1066.6 L2159.3,1066.6 L2165.3,1066.6 L2171.2,1066.6 L2177.2,1062.7 L2183.1,1062.7 L2189.1,1062.7 L2195.1,1053.0 L2201.0,1053.0 L2207.0,1053.0 L2212.9,1052.2 L2218.9,1052.2 L2224.8,1049.0 L2230.8,1045.5 L2236.7,1045.5 L2242.7,1045.5 L2248.7,1045.5 L2254.6,1045.5 L2260.6,1043.9 L2266.5,1043.9 L2272.5,1043.9 L2278.4,1042.4 L2284.4,1039.0 L2290.4,1034.1 L2296.3,1034.1 L2302.3,1033.6 L2308.2,1029.8 L2314.2,1028.5 L2320.1,1027.0 L2326.1,1026.6 L2332.0,1026.6 L2338.0,1026.6 L2344.0,1026.6 L2349.9,1025.7 L2355.9,1025.7 L2361.8,1025.7 L2367.8,1022.4 L2373.7,1019.1 L2379.7,1019.1 L2385.6,1018.2 L2391.6,1018.2 L2397.6,1018.2 L2403.5,1018.2 L2409.5,1018.2 L2415.4,1018.2 L2421.4,1018.2 L2427.3,1018.2"/>
<path d="M253.4,1376.8 L259.4,1376.0 L265.3,1376.0 L271.3,1376.0 L277.2,1376.0 L283.2,1368.5 L289.1,1368.5 L295.1,1366.7 L301.0,1366.7 L307.0,1366.7 L313.0,1366.7 L318.9,1366.7 L324.9,1364.0 L330.8,1358.5 L336.8,1355.2 L342.7,1355.2 L348.7,1355.2 L354.7,1355.2 L360.6,1351.7 L366.6,1346.9 L372.5,1343.7 L378.5,1340.5 L384.4,1340.5 L390.4,1339.9 L396.3,1339.9 L402.3,1339.9 L408.3,1339.9 L414.2,1338.5 L420.2,1325.9 L426.1,1318.2 L432.1,1318.2 L438.0,1316.8 L444.0,1316.8 L449.9,1316.8 L455.9,1316.8 L461.9,1316.8 L467.8,1316.8 L473.8,1316.8 L479.7,1316.8 L485.7,1311.9 L491.6,1311.9 L497.6,1311.9 L503.6,1304.4 L509.5,1304.4 L515.5,1304.4 L521.4,1292.3 L527.4,1284.6 L533.3,1281.1 L539.3,1281.1 L545.2,1281.1 L551.2,1280.6 L557.2,1279.3 L563.1,1279.3 L569.1,1278.1 L575.0,1278.1 L581.0,1278.1 L586.9,1278.1 L592.9,1277.2 L598.8,1277.2 L604.8,1277.2 L610.8,1277.2 L616.7,1269.4 L622.7,1266.2 L628.6,1266.2 L634.6,1266.2 L640.5,1266.2 L646.5,1260.1 L652.5,1246.5 L658.4,1244.8 L664.4,1244.8 L670.3,1244.8 L676.3,1244.0 L682.2,1237.3 L688.2,1230.6 L694.1,1229.7 L700.1,1229.7 L706.1,1206.0 L712.0,1206.0 L718.0,1206.0 L723.9,1206.0 L729.9,1200.5 L735.8,1200.5 L741.8,1188.2 L747.7,1187.8 L753.7,1187.8 L759.7,1187.8 L765.6,1187.8 L771.6,1187.8 L777.5,1187.8 L783.5,1182.1 L789.4,1182.1 L795.4,1177.8 L801.4,1176.9 L807.3,1176.9 L813.3,1176.9 L819.2,1176.9 L825.2,1176.9 L831.1,1174.3 L837.1,1174.3 L843.0,1174.3 L849.0,1174.3 L855.0,1174.2 L860.9,1173.3 L866.9,1173.3 L872.8,1173.2 L878.8,1173.2 L884.7,1171.6 L890.7,1171.6 L896.6,1171.6 L902.6,1171.1 L908.6,1171.1 L914.5,1170.1 L920.5,1170.1 L926.4,1170.1 L932.4,1170.1 L938.3,1170.1 L944.3,1170.1 L950.3,1169.0 L956.2,1168.2 L962.2,1168.2 L968.1,1161.8 L974.1,1161.8 L980.0,1161.8 L986.0,1161.8 L991.9,1161.8 L997.9,1161.8 L1003.9,1161.5 L1009.8,1161.5 L1015.8,1161.5 L1021.7,1161.5 L1027.7,1161.5 L1033.6,1161.3 L1039.6,1159.7 L1045.5,1159.7 L1051.5,1159.7 L1057.5,1159.5 L1063.4,1159.5 L1069.4,1159.5 L1075.3,1159.5 L1081.3,1159.5 L1087.2,1159.5 L1093.2,1159.5 L1099.2,1159.5 L1105.1,1159.3 L1111.1,1158.6 L1117.0,1158.6 L1123.0,1158.6 L1128.9,1158.6 L1134.9,1158.6 L1140.8,1158.6 L1146.8,1158.6 L1152.8,1158.2 L1158.7,1158.2 L1164.7,1158.2 L1170.6,1158.2 L1176.6,1158.2 L1182.5,1158.2 L1188.5,1157.0 L1194.4,1157.0 L1200.4,1157.0 L1206.4,1155.4 L1212.3,1155.4 L1218.3,1153.5 L1224.2,1153.5 L1230.2,1151.6 L1236.1,1151.6 L1242.1,1151.6 L1248.1,1151.2 L1254.0,1151.2 L1260.0,1151.2 L1265.9,1151.2 L1271.9,1151.2 L1277.8,1151.0 L1283.8,1150.3 L1289.7,1143.8 L1295.7,1141.5 L1301.7,1141.5 L1307.6,1141.5 L1313.6,1141.5 L1319.5,1139.4 L1325.5,1139.4 L1331.4,1135.6 L1337.4,1134.5 L1343.3,1128.9 L1349.3,1128.9 L1355.3,1128.9 L1361.2,1127.8 L1367.2,1127.8 L1373.1,1127.8 L1379.1,1127.8 L1385.0,1126.9 L1391.0,1126.9 L1397.0,1126.6 L1402.9,1126.6 L1408.9,1119.9 L1414.8,1119.9 L1420.8,1112.6 L1426.7,1112.6 L1432.7,1112.5 L1438.6,1112.5 L1444.6,1112.5 L1450.6,1112.5 L1456.5,1111.5 L1462.5,1111.5 L1468.4,1109.2 L1474.4,1106.0 L1480.3,1106.0 L1486.3,1105.5 L1492.2,1105.5 L1498.2,1105.5 L1504.2,1104.6 L1510.1,1104.6 L1516.1,1104.6 L1522.0,1104.6 L1528.0,1096.8 L1533.9,1096.0 L1539.9,1091.8 L1545.9,1091.8 L1551.8,1091.7 L1557.8,1091.7 L1563.7,1091.7 L1569.7,1087.3 L1575.6,1087.3 L1581.6,1087.3 L1587.5,1087.3 L1593.5,1087.3 L1599.5,1078.8 L1605.4,1078.8 L1611.4,1078.6 L1617.3,1078.5 L1623.3,1078.5 L1629.2,1078.5 L1635.2,1078.5 L1641.1,1078.5 L1647.1,1078.5 L1653.1,1077.9 L1659.0,1077.9 L1665.0,1077.8 L1670.9,1077.8 L1676.9,1077.2 L1682.8,1077.2 L1688.8,1075.5 L1694.8,1075.5 L1700.7,1073.0 L1706.7,1071.6 L1712.6,1071.6 L1718.6,1071.6 L1724.5,1070.9 L1730.5,1070.9 L1736.4,1070.9 L1742.4,1070.9 L1748.4,1068.1 L1754.3,1068.1 L1760.3,1068.1 L1766.2,1067.5 L1772.2,1067.2 L1778.1,1065.4 L1784.1,1065.4 L1790.0,1065.4 L1796.0,1058.1 L1802.0,1058.1 L1807.9,1058.1 L1813.9,1058.1 L1819.8,1058.1 L1825.8,1058.0 L1831.7,1057.1 L1837.7,1057.1 L1843.7,1055.1 L1849.6,1055.1 L1855.6,1055.1 L1861.5,1055.1 L1867.5,1051.2 L1873.4,1051.2 L1879.4,1051.2 L1885.3,1051.2 L1891.3,1051.2 L1897.3,1051.0 L1903.2,1051.0 L1909.2,1050.1 L1915.1,1049.7 L1921.1,1044.9 L1927.0,1044.4 L1933.0,1044.4 L1938.9,1043.5 L1944.9,1042.4 L1950.9,1041.0 L1956.8,1041.0 L1962.8,1041.0 L1968.7,1039.3 L1974.7,1039.3 L1980.6,1039.3 L1986.6,1037.4 L1992.6,1037.3 L1998.5,1036.5 L2004.5,1033.0 L2010.4,1030.9 L2016.4,1030.0 L2022.3,1030.0 L2028.3,1028.8 L2034.2,1027.9 L2040.2,1023.7 L2046.2,1023.7 L2052.1,1023.7 L2058.1,1023.7 L2064.0,1022.6 L2070.0,1022.6 L2075.9,1022.6 L2081.9,1022.6 L2087.8,1022.6 L2093.8,1021.7 L2099.8,1019.6 L2105.7,1019.6 L2111.7,1019.6 L2117.6,1017.2 L2123.6,1014.4 L2129.5,1014.4 L2135.5,1014.0 L2141.5,1013.8 L2147.4,1013.7 L2153.4,1009.8 L2159.3,1009.8 L2165.3,1006.9 L2171.2,1006.8 L2177.2,1006.5 L2183.1,1006.5 L2189.1,1006.2 L2195.1,1006.2 L2201.0,1006.2 L2207.0,1006.2 L2212.9,1006.2 L2218.9,1006.2 L2224.8,1006.2 L2230.8,1005.7 L2236.7,1005.7 L2242.7,1005.7 L2248.7,1005.7 L2254.6,1005.5 L2260.6,1001.2 L2266.5,1001.2 L2272.5,1001.2 L2278.4,1001.2 L2284.4,1001.2 L2290.4,1001.2 L2296.3,1001.2 L2302.3,1001.2 L2308.2,1001.2 L2314.2,1001.2 L2320.1,1001.2 L2326.1,1001.2 L2332.0,1000.7 L2338.0,1000.7 L2344.0,1000.1 L2349.9,1000.1 L2355.9,1000.1 L2361.8,999.5 L2367.8,999.5 L2373.7,999.1 L2379.7,998.0 L2385.6,998.0 L2391.6,997.5 L2397.6,996.3 L2403.5,995.9 L2409.5,995.9 L2415.4,995.8 L2421.4,995.8 L2427.3,995.4"/>
<path d="M253.4,1380.1 L259.4,1378.8 L265.3,1378.8 L271.3,1378.4 L277.2,1378.4 L283.2,1377.8 L289.1,1377.8 L295.1,1376.8 L301.0,1376.3 L307.0,1376.3 L313.0,1375.3 L318.9,1375.3 L324.9,1375.3 L330.8,1372.4 L336.8,1372.4 L342.7,1372.4 L348.7,1371.6 L354.7,1371.6 L360.6,1370.4 L366.6,1370.4 L372.5,1370.4 L378.5,1370.4 L384.4,1370.4 L390.4,1370.4 L396.3,1366.3 L402.3,1365.4 L408.3,1365.4 L414.2,1365.4 L420.2,1365.4 L426.1,1362.4 L432.1,1362.4 L438.0,1359.7 L444.0,1359.7 L449.9,1359.7 L455.9,1358.6 L461.9,1357.0 L467.8,1356.6 L473.8,1356.6 L479.7,1356.4 L485.7,1356.4 L491.6,1356.1 L497.6,1356.1 L503.6,1356.1 L509.5,1356.1 L515.5,1356.1 L521.4,1356.1 L527.4,1356.1 L533.3,1356.1 L539.3,1355.5 L545.2,1354.6 L551.2,1349.7 L557.2,1347.3 L563.1,1341.9 L569.1,1341.9 L575.0,1336.9 L581.0,1336.9 L586.9,1333.7 L592.9,1333.1 L598.8,1330.7 L604.8,1330.6 L610.8,1328.4 L616.7,1328.4 L622.7,1326.7 L628.6,1326.1 L634.6,1325.8 L640.5,1321.3 L646.5,1320.2 L652.5,1320.2 L658.4,1320.2 L664.4,1320.2 L670.3,1320.2 L676.3,1316.4 L682.2,1316.4 L688.2,1316.4 L694.1,1314.4 L700.1,1314.4 L706.1,1313.5 L712.0,1313.5 L718.0,1311.3 L723.9,1311.3 L729.9,1310.0 L735.8,1308.8 L741.8,1308.8 L747.7,1304.4 L753.7,1301.0 L759.7,1301.0 L765.6,1301.0 L771.6,1297.5 L777.5,1297.5 L783.5,1296.4 L789.4,1296.4 L795.4,1296.4 L801.4,1296.4 L807.3,1288.6 L813.3,1288.6 L819.2,1285.3 L825.2,1284.8 L831.1,1284.6 L837.1,1282.9 L843.0,1282.9 L849.0,1276.4 L855.0,1276.2 L860.9,1272.7 L866.9,1272.7 L872.8,1272.7 L878.8,1272.6 L884.7,1271.7 L890.7,1271.7 L896.6,1271.7 L902.6,1271.0 L908.6,1271.0 L914.5,1267.8 L920.5,1266.3 L926.4,1265.5 L932.4,1262.2 L938.3,1261.7 L944.3,1261.7 L950.3,1261.7 L956.2,1261.7 L962.2,1259.7 L968.1,1259.7 L974.1,1259.7 L980.0,1259.7 L986.0,1259.7 L991.9,1252.1 L997.9,1252.1 L1003.9,1252.1 L1009.8,1252.1 L1015.8,1252.1 L1021.7,1252.1 L1027.7,1252.1 L1033.6,1252.1 L1039.6,1252.1 L1045.5,1252.1 L1051.5,1252.1 L1057.5,1250.7 L1063.4,1250.7 L1069.4,1247.8 L1075.3,1247.8 L1081.3,1247.7 L1087.2,1247.1 L1093.2,1243.5 L1099.2,1243.5 L1105.1,1232.8 L1111.1,1232.1 L1117.0,1231.3 L1123.0,1231.3 L1128.9,1231.1 L1134.9,1230.8 L1140.8,1229.9 L1146.8,1229.9 L1152.8,1229.9 L1158.7,1227.7 L1164.7,1227.7 L1170.6,1227.7 L1176.6,1227.7 L1182.5,1227.3 L1188.5,1227.3 L1194.4,1227.3 L1200.4,1227.3 L1206.4,1227.3 L1212.3,1227.3 L1218.3,1227.3 L1224.2,1227.3 L1230.2,1226.0 L1236.1,1224.0 L1242.1,1221.9 L1248.1,1221.9 L1254.0,1217.8 L1260.0,1217.8 L1265.9,1216.4 L1271.9,1216.4 L1277.8,1212.0 L1283.8,1212.0 L1289.7,1212.0 L1295.7,1212.0 L1301.7,1212.0 L1307.6,1212.0 L1313.6,1210.8 L1319.5,1210.8 L1325.5,1210.8 L1331.4,1210.8 L1337.4,1210.8 L1343.3,1208.8 L1349.3,1208.8 L1355.3,1207.4 L1361.2,1207.4 L1367.2,1207.4 L1373.1,1207.4 L1379.1,1207.4 L1385.0,1204.7 L1391.0,1202.0 L1397.0,1198.4 L1402.9,1192.9 L1408.9,1192.9 L1414.8,1192.9 L1420.8,1192.9 L1426.7,1192.5 L1432.7,1192.4 L1438.6,1191.5 L1444.6,1191.5 L1450.6,1191.2 L1456.5,1189.6 L1462.5,1189.0 L1468.4,1189.0 L1474.4,1189.0 L1480.3,1188.8 L1486.3,1188.8 L1492.2,1188.8 L1498.2,1188.8 L1504.2,1188.8 L1510.1,1188.8 L1516.1,1187.9 L1522.0,1187.1 L1528.0,1187.1 L1533.9,1182.7 L1539.9,1182.7 L1545.9,1181.1 L1551.8,1180.2 L1557.8,1180.2 L1563.7,1180.2 L1569.7,1179.7 L1575.6,1179.7 L1581.6,1174.7 L1587.5,1174.7 L1593.5,1174.7 L1599.5,1174.4 L1605.4,1174.0 L1611.4,1173.9 L1617.3,1173.9 L1623.3,1172.8 L1629.2,1172.8 L1635.2,1172.8 L1641.1,1169.8 L1647.1,1169.1 L1653.1,1166.6 L1659.0,1166.0 L1665.0,1165.5 L1670.9,1165.5 L1676.9,1165.0 L1682.8,1165.0 L1688.8,1163.9 L1694.8,1163.8 L1700.7,1163.8 L1706.7,1163.8 L1712.6,1163.8 L1718.6,1163.7 L1724.5,1163.5 L1730.5,1163.5 L1736.4,1163.5 L1742.4,1163.5 L1748.4,1162.0 L1754.3,1154.8 L1760.3,1154.8 L1766.2,1154.8 L1772.2,1150.2 L1778.1,1150.2 L1784.1,1150.2 L1790.0,1150.2 L1796.0,1150.2 L1802.0,1150.0 L1807.9,1149.7 L1813.9,1148.0 L1819.8,1148.0 L1825.8,1147.6 L1831.7,1147.6 L1837.7,1147.6 L1843.7,1147.6 L1849.6,1147.6 L1855.6,1147.6 L1861.5,1147.6 L1867.5,1147.6 L1873.4,1145.9 L1879.4,1145.9 L1885.3,1145.9 L1891.3,1145.9 L1897.3,1145.7 L1903.2,1142.2 L1909.2,1142.2 L1915.1,1138.6 L1921.1,1137.3 L1927.0,1134.1 L1933.0,1134.1 L1938.9,1134.1 L1944.9,1134.1 L1950.9,1133.5 L1956.8,1133.5 L1962.8,1133.0 L1968.7,1133.0 L1974.7,1133.0 L1980.6,1130.3 L1986.6,1121.4 L1992.6,1121.4 L1998.5,1119.5 L2004.5,1118.1 L2010.4,1118.1 L2016.4,1118.1 L2022.3,1115.9 L2028.3,1115.8 L2034.2,1113.2 L2040.2,1113.2 L2046.2,1113.2 L2052.1,1113.2 L2058.1,1107.8 L2064.0,1105.2 L2070.0,1103.4 L2075.9,1103.4 L2081.9,1103.4 L2087.8,1103.4 L2093.8,1103.1 L2099.8,1100.7 L2105.7,1100.7 L2111.7,1100.7 L2117.6,1099.5 L2123.6,1097.7 L2129.5,1097.7 L2135.5,1094.3 L2141.5,1094.3 L2147.4,1092.2 L2153.4,1092.2 L2159.3,1084.4 L2165.3,1082.2 L2171.2,1080.9 L2177.2,1080.9 L2183.1,1080.9 L2189.1,1080.9 L2195.1,1080.9 L2201.0,1080.9 L2207.0,1080.9 L2212.9,1079.2 L2218.9,1079.2 L2224.8,1077.6 L2230.8,1076.3 L2236.7,1076.3 L2242.7,1076.3 L2248.7,1076.3 L2254.6,1076.3 L2260.6,1076.0 L2266.5,1076.0 L2272.5,1074.2 L2278.4,1074.2 L2284.4,1074.2 L2290.4,1073.9 L2296.3,1073.6 L2302.3,1072.3 L2308.2,1072.3 L2314.2,1072.3 L2320.1,1072.3 L2326.1,1070.8 L2332.0,1067.9 L2338.0,1067.9 L2344.0,1067.9 L2349.9,1067.4 L2355.9,1067.4 L2361.8,1066.5 L2367.8,1066.5 L2373.7,1065.6 L2379.7,1064.1 L2385.6,1063.8 L2391.6,1063.0 L2397.6,1063.0 L2403.5,1062.9 L2409.5,1062.7 L2415.4,1062.7 L2421.4,1058.4 L2427.3,1058.4"/>
</g>
<polyline points="252.0,1378.3 361.5,1361.3 434.3,1341.9 495.0,1331.0 531.5,1329.8 538.8,1317.6 553.4,1310.3 616.5,1286.0 640.8,1282.4 711.3,1282.4 735.6,1258.1 750.1,1258.1 767.1,1247.2 820.0,1244.3 936.6,1240.7 956.0,1235.8 1062.9,1235.8 1094.5,1226.1 1135.8,1221.3 1208.7,1216.4 1259.7,1215.2 1267.0,1206.7 1366.6,1201.8 1373.8,1197.0 1448.6,1196.2 1458.3,1190.1 1516.6,1186.5 1570.0,1184.0 1618.6,1179.7 1669.6,1179.2 1679.4,1174.3 1703.6,1173.1 1715.8,1169.5 1800.8,1168.3 1813.0,1166.6 1856.7,1166.6 1868.8,1158.5 1890.7,1156.8 1898.0,1153.0 1936.8,1153.0 1951.4,1141.5 1987.9,1140.3 2000.0,1130.6 2045.0,1118.7 2102.0,1116.1 2125.4,1111.0 2198.0,1107.9 2223.9,1098.0 2234.3,1089.0 2244.6,1085.0 2288.7,1085.0 2299.0,1081.2 2337.9,1080.4 2366.4,1070.8 2418.3,1065.6 2428.6,1063.0" fill="none" stroke="#a847b4" stroke-width="4.2" stroke-linejoin="round"/>
<polyline points="252.1,1378.3 312.9,1375.9 337.2,1374.7 361.5,1363.8 366.3,1355.3 385.7,1328.5 434.3,1324.9 451.3,1312.8 470.8,1309.1 482.9,1306.7 543.6,1306.7 570.4,1295.7 592.2,1288.5 633.5,1277.5 653.0,1264.2 689.4,1263.0 708.8,1260.5 740.4,1241.1 798.7,1236.2 820.0,1237.0 839.4,1233.4 849.1,1218.8 909.9,1210.3 943.9,1198.2 1087.2,1195.7 1111.5,1188.5 1208.7,1187.2 1293.7,1186.0 1378.7,1180.0 1420.0,1175.1 1468.0,1173.1 1485.0,1161.0 1594.3,1158.5 1662.3,1153.7 1672.0,1150.0 1783.8,1147.6 1803.2,1140.3 1890.7,1137.9 1919.8,1131.8 2000.0,1130.6 2024.4,1117.4 2045.0,1111.0 2120.3,1108.4 2133.2,1098.0 2154.0,1095.4 2179.9,1083.8 2226.5,1081.2 2236.9,1074.7 2278.3,1073.4 2296.5,1066.9 2353.5,1063.8 2379.4,1054.5 2423.5,1054.5" fill="none" stroke="#a09e4c" stroke-width="4.2" stroke-linejoin="round"/>
<polyline points="252.1,1377.1 271.6,1375.9 305.6,1375.9 312.9,1371.0 337.2,1369.8 359.0,1367.4 368.7,1358.9 397.9,1354.0 410.0,1346.8 431.9,1346.8 441.6,1341.9 473.2,1339.5 502.3,1335.8 509.6,1329.8 531.5,1326.1 538.8,1323.0 580.1,1321.3 633.5,1318.8 653.0,1315.2 667.5,1311.5 701.5,1303.0 713.7,1294.5 730.7,1289.7 767.1,1284.8 798.7,1280.0 820.0,1278.3 851.6,1274.7 880.7,1274.7 905.0,1269.8 934.2,1266.2 985.2,1266.2 997.3,1263.3 1060.5,1261.8 1075.0,1255.3 1099.3,1252.8 1111.5,1245.5 1117.6,1232.2 1149.1,1231.7" fill="none" stroke="#bb252b" stroke-width="5.0" stroke-linejoin="round"/>
<polyline points="252.0,1380.8 312.9,1363.8 385.7,1349.2 458.6,1329.8 531.5,1310.3 604.4,1293.3 677.2,1270.2 750.1,1250.8 820.0,1237.0 941.5,1206.7 1087.2,1184.8 1160.0,1172.7 1208.7,1170.2 1305.8,1158.1 1420.0,1146.0 1472.9,1141.5 1570.0,1128.2 1642.9,1120.9 1691.5,1114.8 1740.1,1106.3 1837.2,1094.2 1885.8,1082.0 1938.9,1072.1 1990.7,1059.1 2045.1,1046.2 2120.3,1028.0 2159.1,1017.7 2211.0,1007.3 2262.8,996.9 2314.6,989.2 2366.4,976.2 2420.9,963.3" fill="none" stroke="#4169e1" stroke-width="4.4" stroke-linejoin="round" stroke-dasharray="15 7.5"/>
<rect x="146.5" y="799.5" width="2389.5" height="611.0" fill="none" stroke="#1a1a1a" stroke-width="2.2"/>
<path d="M138.5,1383.2 H146.5 M138.5,1337.6 H146.5 M138.5,1292.0 H146.5 M138.5,1246.3 H146.5 M138.5,1200.7 H146.5 M138.5,1155.1 H146.5 M138.5,1109.5 H146.5 M138.5,1063.9 H146.5 M138.5,1018.2 H146.5 M138.5,972.6 H146.5 M138.5,927.0 H146.5 M138.5,881.4 H146.5 M138.5,835.8 H146.5 M253.4,1410.5 V1418.5 M313.0,1410.5 V1418.5 M372.5,1410.5 V1418.5 M432.1,1410.5 V1418.5 M491.6,1410.5 V1418.5 M551.2,1410.5 V1418.5 M610.8,1410.5 V1418.5 M670.3,1410.5 V1418.5 M729.9,1410.5 V1418.5 M789.4,1410.5 V1418.5 M849.0,1410.5 V1418.5 M908.6,1410.5 V1418.5 M968.1,1410.5 V1418.5 M1027.7,1410.5 V1418.5 M1087.2,1410.5 V1418.5 M1146.8,1410.5 V1418.5 M1206.4,1410.5 V1418.5 M1265.9,1410.5 V1418.5 M1325.5,1410.5 V1418.5 M1385.0,1410.5 V1418.5 M1444.6,1410.5 V1418.5 M1504.2,1410.5 V1418.5 M1563.7,1410.5 V1418.5 M1623.3,1410.5 V1418.5 M1682.8,1410.5 V1418.5 M1742.4,1410.5 V1418.5 M1802.0,1410.5 V1418.5 M1861.5,1410.5 V1418.5 M1921.1,1410.5 V1418.5 M1980.6,1410.5 V1418.5 M2040.2,1410.5 V1418.5 M2099.8,1410.5 V1418.5 M2159.3,1410.5 V1418.5 M2218.9,1410.5 V1418.5 M2278.4,1410.5 V1418.5 M2338.0,1410.5 V1418.5 M2397.6,1410.5 V1418.5" stroke="#1a1a1a" stroke-width="1.8" fill="none"/>
<text x="127" y="1393.4" font-size="29" text-anchor="end" font-weight="normal" font-style="normal" fill="#1a1a1a" textLength="15.4" lengthAdjust="spacingAndGlyphs" >0</text>
<text x="127" y="1347.8" font-size="29" text-anchor="end" font-weight="normal" font-style="normal" fill="#1a1a1a" textLength="46.2" lengthAdjust="spacingAndGlyphs" >100</text>
<text x="127" y="1302.2" font-size="29" text-anchor="end" font-weight="normal" font-style="normal" fill="#1a1a1a" textLength="46.2" lengthAdjust="spacingAndGlyphs" >200</text>
<text x="127" y="1256.5" font-size="29" text-anchor="end" font-weight="normal" font-style="normal" fill="#1a1a1a" textLength="46.2" lengthAdjust="spacingAndGlyphs" >300</text>
<text x="127" y="1210.9" font-size="29" text-anchor="end" font-weight="normal" font-style="normal" fill="#1a1a1a" textLength="46.2" lengthAdjust="spacingAndGlyphs" >400</text>
<text x="127" y="1165.3" font-size="29" text-anchor="end" font-weight="normal" font-style="normal" fill="#1a1a1a" textLength="46.2" lengthAdjust="spacingAndGlyphs" >500</text>
<text x="127" y="1119.7" font-size="29" text-anchor="end" font-weight="normal" font-style="normal" fill="#1a1a1a" textLength="46.2" lengthAdjust="spacingAndGlyphs" >600</text>
<text x="127" y="1074.1" font-size="29" text-anchor="end" font-weight="normal" font-style="normal" fill="#1a1a1a" textLength="46.2" lengthAdjust="spacingAndGlyphs" >700</text>
<text x="127" y="1028.4" font-size="29" text-anchor="end" font-weight="normal" font-style="normal" fill="#1a1a1a" textLength="46.2" lengthAdjust="spacingAndGlyphs" >800</text>
<text x="127" y="982.8" font-size="29" text-anchor="end" font-weight="normal" font-style="normal" fill="#1a1a1a" textLength="46.2" lengthAdjust="spacingAndGlyphs" >900</text>
<text x="127" y="937.2" font-size="29" text-anchor="end" font-weight="normal" font-style="normal" fill="#1a1a1a" textLength="61.6" lengthAdjust="spacingAndGlyphs" >1000</text>
<text x="127" y="891.6" font-size="29" text-anchor="end" font-weight="normal" font-style="normal" fill="#1a1a1a" textLength="61.6" lengthAdjust="spacingAndGlyphs" >1100</text>
<text x="127" y="846.0" font-size="29" text-anchor="end" font-weight="normal" font-style="normal" fill="#1a1a1a" textLength="61.6" lengthAdjust="spacingAndGlyphs" >1200</text>
<text x="0" y="0" font-size="29" fill="#1a1a1a" textLength="15.0" lengthAdjust="spacingAndGlyphs" transform="translate(249.4,1428.0) rotate(90)">0</text>
<text x="0" y="0" font-size="29" fill="#1a1a1a" textLength="30.0" lengthAdjust="spacingAndGlyphs" transform="translate(309.0,1428.0) rotate(90)">10</text>
<text x="0" y="0" font-size="29" fill="#1a1a1a" textLength="30.0" lengthAdjust="spacingAndGlyphs" transform="translate(368.5,1428.0) rotate(90)">20</text>
<text x="0" y="0" font-size="29" fill="#1a1a1a" textLength="30.0" lengthAdjust="spacingAndGlyphs" transform="translate(428.1,1428.0) rotate(90)">30</text>
<text x="0" y="0" font-size="29" fill="#1a1a1a" textLength="30.0" lengthAdjust="spacingAndGlyphs" transform="translate(487.6,1428.0) rotate(90)">40</text>
<text x="0" y="0" font-size="29" fill="#1a1a1a" textLength="30.0" lengthAdjust="spacingAndGlyphs" transform="translate(547.2,1428.0) rotate(90)">50</text>
<text x="0" y="0" font-size="29" fill="#1a1a1a" textLength="30.0" lengthAdjust="spacingAndGlyphs" transform="translate(606.8,1428.0) rotate(90)">60</text>
<text x="0" y="0" font-size="29" fill="#1a1a1a" textLength="30.0" lengthAdjust="spacingAndGlyphs" transform="translate(666.3,1428.0) rotate(90)">70</text>
<text x="0" y="0" font-size="29" fill="#1a1a1a" textLength="30.0" lengthAdjust="spacingAndGlyphs" transform="translate(725.9,1428.0) rotate(90)">80</text>
<text x="0" y="0" font-size="29" fill="#1a1a1a" textLength="30.0" lengthAdjust="spacingAndGlyphs" transform="translate(785.4,1428.0) rotate(90)">90</text>
<text x="0" y="0" font-size="29" fill="#1a1a1a" textLength="45.0" lengthAdjust="spacingAndGlyphs" transform="translate(845.0,1428.0) rotate(90)">100</text>
<text x="0" y="0" font-size="29" fill="#1a1a1a" textLength="45.0" lengthAdjust="spacingAndGlyphs" transform="translate(904.6,1428.0) rotate(90)">110</text>
<text x="0" y="0" font-size="29" fill="#1a1a1a" textLength="45.0" lengthAdjust="spacingAndGlyphs" transform="translate(964.1,1428.0) rotate(90)">120</text>
<text x="0" y="0" font-size="29" fill="#1a1a1a" textLength="45.0" lengthAdjust="spacingAndGlyphs" transform="translate(1023.7,1428.0) rotate(90)">130</text>
<text x="0" y="0" font-size="29" fill="#1a1a1a" textLength="45.0" lengthAdjust="spacingAndGlyphs" transform="translate(1083.2,1428.0) rotate(90)">140</text>
<text x="0" y="0" font-size="29" fill="#1a1a1a" textLength="45.0" lengthAdjust="spacingAndGlyphs" transform="translate(1142.8,1428.0) rotate(90)">150</text>
<text x="0" y="0" font-size="29" fill="#1a1a1a" textLength="45.0" lengthAdjust="spacingAndGlyphs" transform="translate(1202.4,1428.0) rotate(90)">160</text>
<text x="0" y="0" font-size="29" fill="#1a1a1a" textLength="45.0" lengthAdjust="spacingAndGlyphs" transform="translate(1261.9,1428.0) rotate(90)">170</text>
<text x="0" y="0" font-size="29" fill="#1a1a1a" textLength="45.0" lengthAdjust="spacingAndGlyphs" transform="translate(1321.5,1428.0) rotate(90)">180</text>
<text x="0" y="0" font-size="29" fill="#1a1a1a" textLength="45.0" lengthAdjust="spacingAndGlyphs" transform="translate(1381.0,1428.0) rotate(90)">190</text>
<text x="0" y="0" font-size="29" fill="#1a1a1a" textLength="45.0" lengthAdjust="spacingAndGlyphs" transform="translate(1440.6,1428.0) rotate(90)">200</text>
<text x="0" y="0" font-size="29" fill="#1a1a1a" textLength="45.0" lengthAdjust="spacingAndGlyphs" transform="translate(1500.2,1428.0) rotate(90)">210</text>
<text x="0" y="0" font-size="29" fill="#1a1a1a" textLength="45.0" lengthAdjust="spacingAndGlyphs" transform="translate(1559.7,1428.0) rotate(90)">220</text>
<text x="0" y="0" font-size="29" fill="#1a1a1a" textLength="45.0" lengthAdjust="spacingAndGlyphs" transform="translate(1619.3,1428.0) rotate(90)">230</text>
<text x="0" y="0" font-size="29" fill="#1a1a1a" textLength="45.0" lengthAdjust="spacingAndGlyphs" transform="translate(1678.8,1428.0) rotate(90)">240</text>
<text x="0" y="0" font-size="29" fill="#1a1a1a" textLength="45.0" lengthAdjust="spacingAndGlyphs" transform="translate(1738.4,1428.0) rotate(90)">250</text>
<text x="0" y="0" font-size="29" fill="#1a1a1a" textLength="45.0" lengthAdjust="spacingAndGlyphs" transform="translate(1798.0,1428.0) rotate(90)">260</text>
<text x="0" y="0" font-size="29" fill="#1a1a1a" textLength="45.0" lengthAdjust="spacingAndGlyphs" transform="translate(1857.5,1428.0) rotate(90)">270</text>
<text x="0" y="0" font-size="29" fill="#1a1a1a" textLength="45.0" lengthAdjust="spacingAndGlyphs" transform="translate(1917.1,1428.0) rotate(90)">280</text>
<text x="0" y="0" font-size="29" fill="#1a1a1a" textLength="45.0" lengthAdjust="spacingAndGlyphs" transform="translate(1976.6,1428.0) rotate(90)">290</text>
<text x="0" y="0" font-size="29" fill="#1a1a1a" textLength="45.0" lengthAdjust="spacingAndGlyphs" transform="translate(2036.2,1428.0) rotate(90)">300</text>
<text x="0" y="0" font-size="29" fill="#1a1a1a" textLength="45.0" lengthAdjust="spacingAndGlyphs" transform="translate(2095.8,1428.0) rotate(90)">310</text>
<text x="0" y="0" font-size="29" fill="#1a1a1a" textLength="45.0" lengthAdjust="spacingAndGlyphs" transform="translate(2155.3,1428.0) rotate(90)">320</text>
<text x="0" y="0" font-size="29" fill="#1a1a1a" textLength="45.0" lengthAdjust="spacingAndGlyphs" transform="translate(2214.9,1428.0) rotate(90)">330</text>
<text x="0" y="0" font-size="29" fill="#1a1a1a" textLength="45.0" lengthAdjust="spacingAndGlyphs" transform="translate(2274.4,1428.0) rotate(90)">340</text>
<text x="0" y="0" font-size="29" fill="#1a1a1a" textLength="45.0" lengthAdjust="spacingAndGlyphs" transform="translate(2334.0,1428.0) rotate(90)">350</text>
<text x="0" y="0" font-size="29" fill="#1a1a1a" textLength="45.0" lengthAdjust="spacingAndGlyphs" transform="translate(2393.6,1428.0) rotate(90)">360</text>
<text x="1340.5" y="1507.4" font-size="29" text-anchor="middle" font-weight="bold" font-style="normal" fill="#0a0a0a" textLength="169" lengthAdjust="spacingAndGlyphs" >Día del año</text>
<text x="0" y="0" font-size="29" font-weight="bold" fill="#0a0a0a" textLength="77" lengthAdjust="spacingAndGlyphs" text-anchor="middle" transform="translate(48,1108) rotate(-90)">[mm]</text>
<rect x="156.5" y="810.5" width="399" height="173.5" rx="5" ry="5" fill="#ffffff" fill-opacity="0.85" stroke="#d4d4d4" stroke-width="1.6"/>
<line x1="163.5" y1="828.1" x2="212.5" y2="828.1" stroke="#a847b4" stroke-width="4.2"/>
<text x="227.5" y="836.1" font-size="23" text-anchor="start" font-weight="normal" font-style="normal" fill="#1a1a1a" textLength="106" lengthAdjust="spacingAndGlyphs" >Año 2008</text>
<line x1="163.5" y1="861.6" x2="212.5" y2="861.6" stroke="#a09e4c" stroke-width="4.2"/>
<text x="227.5" y="869.6" font-size="23" text-anchor="start" font-weight="normal" font-style="normal" fill="#1a1a1a" textLength="106" lengthAdjust="spacingAndGlyphs" >Año 2022</text>
<line x1="163.5" y1="895.2" x2="212.5" y2="895.2" stroke="#bb252b" stroke-width="5.0"/>
<text x="227.5" y="903.2" font-size="23" text-anchor="start" font-weight="normal" font-style="normal" fill="#1a1a1a" textLength="106" lengthAdjust="spacingAndGlyphs" >Año 2023</text>
<line x1="165.5" y1="928.6" x2="181.5" y2="928.6" stroke="#4169e1" stroke-width="4.4"/><line x1="189.5" y1="928.6" x2="206" y2="928.6" stroke="#4169e1" stroke-width="4.4"/>
<text x="227.5" y="936.6" font-size="23" text-anchor="start" font-weight="normal" font-style="normal" fill="#1a1a1a" textLength="319" lengthAdjust="spacingAndGlyphs" >Ppt. anual acumulada media</text>
<line x1="163.5" y1="961.7" x2="212.5" y2="961.7" stroke="#d8d8d8" stroke-width="2.6"/>
<text x="227.5" y="969.7" font-size="23" text-anchor="start" font-weight="normal" font-style="normal" fill="#1a1a1a" textLength="166" lengthAdjust="spacingAndGlyphs" >Años restantes</text>
<text x="1328" y="1374.3" font-size="21.5" text-anchor="start" font-weight="normal" font-style="italic" fill="#1a1a1a" textLength="1137" lengthAdjust="spacingAndGlyphs" >Elaboración propia - Fuente: CHIRPS (Climate Hazards Group InfraRed Precipitation With Station Data)</text>
<defs><linearGradient id="ringg" x1="0" y1="1" x2="1" y2="0"><stop offset="0" stop-color="#9cc9b4"/><stop offset="1" stop-color="#7f9dbf"/></linearGradient><linearGradient id="dg" x1="0" y1="0" x2="0" y2="1"><stop offset="0" stop-color="#8fc9ae"/><stop offset="1" stop-color="#6f93bd"/></linearGradient></defs>
<g fill="#8e8f93" stroke="none">
<circle cx="2166.7" cy="1263.4" r="6.3"/><circle cx="2230.2" cy="1263.4" r="6.3"/><circle cx="2166.7" cy="1326.8" r="6.3"/><circle cx="2230.2" cy="1326.8" r="6.3"/>
<path d="M2183,1279.5 Q2198.5,1285 2214.5,1279.5 Q2209,1295 2214.5,1311 Q2198.5,1305.5 2183,1311 Q2188.5,1295 2183,1279.5 Z"/>
</g>
<path d="M2166.7,1263.4 L2230.2,1326.8 M2230.2,1263.4 L2166.7,1326.8" stroke="#8e8f93" stroke-width="5.6" fill="none"/>
<ellipse cx="2198.8" cy="1295.4" rx="43" ry="16" fill="none" stroke="url(#ringg)" stroke-width="1.4" transform="rotate(-42 2198.8 1295.4)"/>
<path d="M2154.5,1325.5 A14.5,14.5 0 0 0 2168.7,1338.7" fill="none" stroke="#8e8f93" stroke-width="1.6"/>
<g fill="none" stroke="#8e8f93" stroke-width="3.7" stroke-linecap="round" stroke-linejoin="round">
<path d="M2271.8,1279 V1312"/>
<path d="M2284.5,1279 H2293 A16.5,16.5 0 0 1 2293,1312 H2284.5" stroke="url(#dg)" stroke-width="3.6"/>
<path d="M2343.5,1279 H2321 V1312 H2343.5 M2321,1295.5 H2340.5"/>
<path d="M2377.5,1283 Q2372,1278.5 2365,1278.5 Q2355,1278.5 2355,1287 Q2355,1294 2366,1295.5 Q2378.5,1297 2378.5,1304 Q2378.5,1312.5 2366,1312.5 Q2358,1312.5 2354,1308"/>
<path d="M2386.5,1312 L2402,1279 L2417.5,1312 M2391.5,1302 H2412.5"/>
<path d="M2427,1312 V1279 H2441 Q2452,1279 2452,1289 Q2452,1299 2441,1299 H2427 M2441,1299 L2452.5,1312"/>
</g>
</svg></body></html>
